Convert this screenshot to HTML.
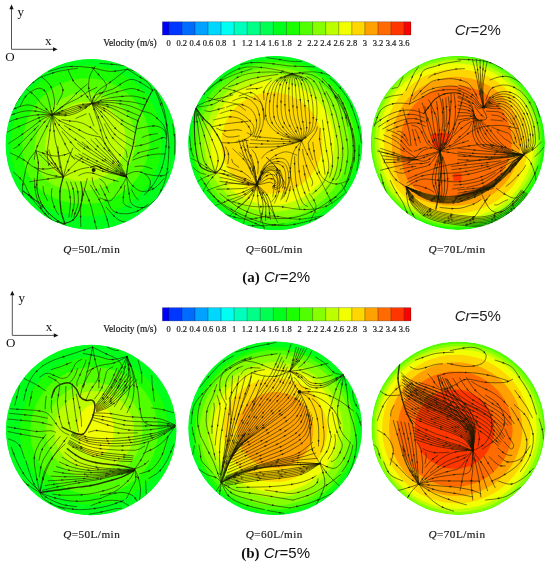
<!DOCTYPE html>
<html><head><meta charset="utf-8"><style>
html,body{margin:0;padding:0;background:#fff;width:550px;height:566px;overflow:hidden}
svg{display:block;filter:blur(0.3px)}
.ax{font-family:"Liberation Serif",serif;font-size:13px;fill:#111}
.tk{font-family:"Liberation Serif",serif;font-size:8.5px;fill:#1a1a1a;stroke:#1a1a1a;stroke-width:0.2px}
.vl{font-family:"Liberation Serif",serif;font-size:9.4px;fill:#1a1a1a;stroke:#1a1a1a;stroke-width:0.2px}
.cr{font-family:"Liberation Sans",sans-serif;font-size:15px;fill:#222}
.q{font-family:"Liberation Serif",serif;font-size:11.2px;letter-spacing:0.45px;fill:#1a1a1a;stroke:#1a1a1a;stroke-width:0.2px}
.cap{font-family:"Liberation Sans",sans-serif;font-size:15px;fill:#111}
.capb{font-family:"Liberation Serif",serif;font-weight:bold}
.fl path{fill:none;stroke:#1a1a00;stroke-opacity:0.8;stroke-width:0.7;stroke-linecap:round;stroke-linejoin:round}
.ar{fill:#1a1a00;fill-opacity:0.8;stroke:none}
.sl path{fill:none;stroke:#1a1a00;stroke-opacity:0.85;stroke-linecap:round;stroke-linejoin:round}
</style></head><body>
<svg width="550" height="566" viewBox="0 0 550 566">
<defs><clipPath id="c0"><circle cx="91.00" cy="144.30" r="85.30"/></clipPath>
<clipPath id="c1"><circle cx="275.30" cy="143.10" r="87.00"/></clipPath>
<clipPath id="c2"><circle cx="458.00" cy="142.90" r="87.00"/></clipPath>
<clipPath id="c3"><circle cx="91.20" cy="430.00" r="85.20"/></clipPath>
<clipPath id="c4"><circle cx="275.20" cy="428.20" r="86.80"/></clipPath>
<clipPath id="c5"><circle cx="458.20" cy="428.20" r="86.80"/></clipPath></defs>
<line x1="11.5" y1="49.3" x2="11.5" y2="8.5" stroke="#555" stroke-width="1"/>
<line x1="11.5" y1="49.3" x2="53.5" y2="49.3" stroke="#555" stroke-width="1"/>
<path d="M11.5,4.6 L9.4,9.2 L13.6,9.2 Z" fill="#111"/>
<path d="M57.6,49.3 L53.0,47.2 L53.0,51.4 Z" fill="#111"/>
<text x="17.6" y="15.8" class="ax">y</text>
<text x="45.0" y="45.0" class="ax">x</text>
<text x="5.2" y="60.8" class="ax">O</text>
<line x1="12.3" y1="335.4" x2="12.3" y2="294.6" stroke="#555" stroke-width="1"/>
<line x1="12.3" y1="335.4" x2="54.3" y2="335.4" stroke="#555" stroke-width="1"/>
<path d="M12.3,290.7 L10.2,295.3 L14.4,295.3 Z" fill="#111"/>
<path d="M58.4,335.4 L53.8,333.3 L53.8,337.5 Z" fill="#111"/>
<text x="18.4" y="301.9" class="ax">y</text>
<text x="45.8" y="331.1" class="ax">x</text>
<text x="6.0" y="346.9" class="ax">O</text>
<rect x="162.40" y="21.80" width="6.60" height="13.20" fill="#0000ff"/>
<rect x="168.70" y="21.80" width="13.38" height="13.20" fill="#0036ff"/>
<rect x="181.78" y="21.80" width="13.38" height="13.20" fill="#006bff"/>
<rect x="194.86" y="21.80" width="13.38" height="13.20" fill="#00a1ff"/>
<rect x="207.94" y="21.80" width="13.38" height="13.20" fill="#00d7ff"/>
<rect x="221.02" y="21.80" width="13.38" height="13.20" fill="#00fff2"/>
<rect x="234.10" y="21.80" width="13.38" height="13.20" fill="#00ffbc"/>
<rect x="247.18" y="21.80" width="13.38" height="13.20" fill="#00ff86"/>
<rect x="260.26" y="21.80" width="13.38" height="13.20" fill="#00ff51"/>
<rect x="273.34" y="21.80" width="13.38" height="13.20" fill="#00ff1b"/>
<rect x="286.42" y="21.80" width="13.38" height="13.20" fill="#1bff00"/>
<rect x="299.50" y="21.80" width="13.38" height="13.20" fill="#51ff00"/>
<rect x="312.58" y="21.80" width="13.38" height="13.20" fill="#86ff00"/>
<rect x="325.66" y="21.80" width="13.38" height="13.20" fill="#bcff00"/>
<rect x="338.74" y="21.80" width="13.38" height="13.20" fill="#f2ff00"/>
<rect x="351.82" y="21.80" width="13.38" height="13.20" fill="#ffd700"/>
<rect x="364.90" y="21.80" width="13.38" height="13.20" fill="#ffa100"/>
<rect x="377.98" y="21.80" width="13.38" height="13.20" fill="#ff6b00"/>
<rect x="391.06" y="21.80" width="13.38" height="13.20" fill="#ff3600"/>
<rect x="404.14" y="21.80" width="6.90" height="13.20" fill="#ff0000"/>
<line x1="168.70" y1="21.80" x2="168.70" y2="35.00" stroke="#000" stroke-opacity="0.4" stroke-width="0.8"/>
<line x1="181.78" y1="21.80" x2="181.78" y2="35.00" stroke="#000" stroke-opacity="0.4" stroke-width="0.8"/>
<line x1="194.86" y1="21.80" x2="194.86" y2="35.00" stroke="#000" stroke-opacity="0.4" stroke-width="0.8"/>
<line x1="207.94" y1="21.80" x2="207.94" y2="35.00" stroke="#000" stroke-opacity="0.4" stroke-width="0.8"/>
<line x1="221.02" y1="21.80" x2="221.02" y2="35.00" stroke="#000" stroke-opacity="0.4" stroke-width="0.8"/>
<line x1="234.10" y1="21.80" x2="234.10" y2="35.00" stroke="#000" stroke-opacity="0.4" stroke-width="0.8"/>
<line x1="247.18" y1="21.80" x2="247.18" y2="35.00" stroke="#000" stroke-opacity="0.4" stroke-width="0.8"/>
<line x1="260.26" y1="21.80" x2="260.26" y2="35.00" stroke="#000" stroke-opacity="0.4" stroke-width="0.8"/>
<line x1="273.34" y1="21.80" x2="273.34" y2="35.00" stroke="#000" stroke-opacity="0.4" stroke-width="0.8"/>
<line x1="286.42" y1="21.80" x2="286.42" y2="35.00" stroke="#000" stroke-opacity="0.4" stroke-width="0.8"/>
<line x1="299.50" y1="21.80" x2="299.50" y2="35.00" stroke="#000" stroke-opacity="0.4" stroke-width="0.8"/>
<line x1="312.58" y1="21.80" x2="312.58" y2="35.00" stroke="#000" stroke-opacity="0.4" stroke-width="0.8"/>
<line x1="325.66" y1="21.80" x2="325.66" y2="35.00" stroke="#000" stroke-opacity="0.4" stroke-width="0.8"/>
<line x1="338.74" y1="21.80" x2="338.74" y2="35.00" stroke="#000" stroke-opacity="0.4" stroke-width="0.8"/>
<line x1="351.82" y1="21.80" x2="351.82" y2="35.00" stroke="#000" stroke-opacity="0.4" stroke-width="0.8"/>
<line x1="364.90" y1="21.80" x2="364.90" y2="35.00" stroke="#000" stroke-opacity="0.4" stroke-width="0.8"/>
<line x1="377.98" y1="21.80" x2="377.98" y2="35.00" stroke="#000" stroke-opacity="0.4" stroke-width="0.8"/>
<line x1="391.06" y1="21.80" x2="391.06" y2="35.00" stroke="#000" stroke-opacity="0.4" stroke-width="0.8"/>
<line x1="404.14" y1="21.80" x2="404.14" y2="35.00" stroke="#000" stroke-opacity="0.4" stroke-width="0.8"/>
<rect x="162.40" y="21.80" width="248.34" height="13.20" fill="none" stroke="#000" stroke-opacity="0.35" stroke-width="0.7"/>
<text x="168.70" y="45.60" class="tk" text-anchor="middle">0</text>
<text x="181.78" y="45.60" class="tk" text-anchor="middle">0.2</text>
<text x="194.86" y="45.60" class="tk" text-anchor="middle">0.4</text>
<text x="207.94" y="45.60" class="tk" text-anchor="middle">0.6</text>
<text x="221.02" y="45.60" class="tk" text-anchor="middle">0.8</text>
<text x="234.10" y="45.60" class="tk" text-anchor="middle">1</text>
<text x="247.18" y="45.60" class="tk" text-anchor="middle">1.2</text>
<text x="260.26" y="45.60" class="tk" text-anchor="middle">1.4</text>
<text x="273.34" y="45.60" class="tk" text-anchor="middle">1.6</text>
<text x="286.42" y="45.60" class="tk" text-anchor="middle">1.8</text>
<text x="299.50" y="45.60" class="tk" text-anchor="middle">2</text>
<text x="312.58" y="45.60" class="tk" text-anchor="middle">2.2</text>
<text x="325.66" y="45.60" class="tk" text-anchor="middle">2.4</text>
<text x="338.74" y="45.60" class="tk" text-anchor="middle">2.6</text>
<text x="351.82" y="45.60" class="tk" text-anchor="middle">2.8</text>
<text x="364.90" y="45.60" class="tk" text-anchor="middle">3</text>
<text x="377.98" y="45.60" class="tk" text-anchor="middle">3.2</text>
<text x="391.06" y="45.60" class="tk" text-anchor="middle">3.4</text>
<text x="404.14" y="45.60" class="tk" text-anchor="middle">3.6</text>
<text x="156.60" y="46.20" class="vl" text-anchor="end">Velocity (m/s)</text>
<rect x="162.40" y="307.70" width="6.60" height="13.20" fill="#0000ff"/>
<rect x="168.70" y="307.70" width="13.38" height="13.20" fill="#0036ff"/>
<rect x="181.78" y="307.70" width="13.38" height="13.20" fill="#006bff"/>
<rect x="194.86" y="307.70" width="13.38" height="13.20" fill="#00a1ff"/>
<rect x="207.94" y="307.70" width="13.38" height="13.20" fill="#00d7ff"/>
<rect x="221.02" y="307.70" width="13.38" height="13.20" fill="#00fff2"/>
<rect x="234.10" y="307.70" width="13.38" height="13.20" fill="#00ffbc"/>
<rect x="247.18" y="307.70" width="13.38" height="13.20" fill="#00ff86"/>
<rect x="260.26" y="307.70" width="13.38" height="13.20" fill="#00ff51"/>
<rect x="273.34" y="307.70" width="13.38" height="13.20" fill="#00ff1b"/>
<rect x="286.42" y="307.70" width="13.38" height="13.20" fill="#1bff00"/>
<rect x="299.50" y="307.70" width="13.38" height="13.20" fill="#51ff00"/>
<rect x="312.58" y="307.70" width="13.38" height="13.20" fill="#86ff00"/>
<rect x="325.66" y="307.70" width="13.38" height="13.20" fill="#bcff00"/>
<rect x="338.74" y="307.70" width="13.38" height="13.20" fill="#f2ff00"/>
<rect x="351.82" y="307.70" width="13.38" height="13.20" fill="#ffd700"/>
<rect x="364.90" y="307.70" width="13.38" height="13.20" fill="#ffa100"/>
<rect x="377.98" y="307.70" width="13.38" height="13.20" fill="#ff6b00"/>
<rect x="391.06" y="307.70" width="13.38" height="13.20" fill="#ff3600"/>
<rect x="404.14" y="307.70" width="6.90" height="13.20" fill="#ff0000"/>
<line x1="168.70" y1="307.70" x2="168.70" y2="320.90" stroke="#000" stroke-opacity="0.4" stroke-width="0.8"/>
<line x1="181.78" y1="307.70" x2="181.78" y2="320.90" stroke="#000" stroke-opacity="0.4" stroke-width="0.8"/>
<line x1="194.86" y1="307.70" x2="194.86" y2="320.90" stroke="#000" stroke-opacity="0.4" stroke-width="0.8"/>
<line x1="207.94" y1="307.70" x2="207.94" y2="320.90" stroke="#000" stroke-opacity="0.4" stroke-width="0.8"/>
<line x1="221.02" y1="307.70" x2="221.02" y2="320.90" stroke="#000" stroke-opacity="0.4" stroke-width="0.8"/>
<line x1="234.10" y1="307.70" x2="234.10" y2="320.90" stroke="#000" stroke-opacity="0.4" stroke-width="0.8"/>
<line x1="247.18" y1="307.70" x2="247.18" y2="320.90" stroke="#000" stroke-opacity="0.4" stroke-width="0.8"/>
<line x1="260.26" y1="307.70" x2="260.26" y2="320.90" stroke="#000" stroke-opacity="0.4" stroke-width="0.8"/>
<line x1="273.34" y1="307.70" x2="273.34" y2="320.90" stroke="#000" stroke-opacity="0.4" stroke-width="0.8"/>
<line x1="286.42" y1="307.70" x2="286.42" y2="320.90" stroke="#000" stroke-opacity="0.4" stroke-width="0.8"/>
<line x1="299.50" y1="307.70" x2="299.50" y2="320.90" stroke="#000" stroke-opacity="0.4" stroke-width="0.8"/>
<line x1="312.58" y1="307.70" x2="312.58" y2="320.90" stroke="#000" stroke-opacity="0.4" stroke-width="0.8"/>
<line x1="325.66" y1="307.70" x2="325.66" y2="320.90" stroke="#000" stroke-opacity="0.4" stroke-width="0.8"/>
<line x1="338.74" y1="307.70" x2="338.74" y2="320.90" stroke="#000" stroke-opacity="0.4" stroke-width="0.8"/>
<line x1="351.82" y1="307.70" x2="351.82" y2="320.90" stroke="#000" stroke-opacity="0.4" stroke-width="0.8"/>
<line x1="364.90" y1="307.70" x2="364.90" y2="320.90" stroke="#000" stroke-opacity="0.4" stroke-width="0.8"/>
<line x1="377.98" y1="307.70" x2="377.98" y2="320.90" stroke="#000" stroke-opacity="0.4" stroke-width="0.8"/>
<line x1="391.06" y1="307.70" x2="391.06" y2="320.90" stroke="#000" stroke-opacity="0.4" stroke-width="0.8"/>
<line x1="404.14" y1="307.70" x2="404.14" y2="320.90" stroke="#000" stroke-opacity="0.4" stroke-width="0.8"/>
<rect x="162.40" y="307.70" width="248.34" height="13.20" fill="none" stroke="#000" stroke-opacity="0.35" stroke-width="0.7"/>
<text x="168.70" y="331.50" class="tk" text-anchor="middle">0</text>
<text x="181.78" y="331.50" class="tk" text-anchor="middle">0.2</text>
<text x="194.86" y="331.50" class="tk" text-anchor="middle">0.4</text>
<text x="207.94" y="331.50" class="tk" text-anchor="middle">0.6</text>
<text x="221.02" y="331.50" class="tk" text-anchor="middle">0.8</text>
<text x="234.10" y="331.50" class="tk" text-anchor="middle">1</text>
<text x="247.18" y="331.50" class="tk" text-anchor="middle">1.2</text>
<text x="260.26" y="331.50" class="tk" text-anchor="middle">1.4</text>
<text x="273.34" y="331.50" class="tk" text-anchor="middle">1.6</text>
<text x="286.42" y="331.50" class="tk" text-anchor="middle">1.8</text>
<text x="299.50" y="331.50" class="tk" text-anchor="middle">2</text>
<text x="312.58" y="331.50" class="tk" text-anchor="middle">2.2</text>
<text x="325.66" y="331.50" class="tk" text-anchor="middle">2.4</text>
<text x="338.74" y="331.50" class="tk" text-anchor="middle">2.6</text>
<text x="351.82" y="331.50" class="tk" text-anchor="middle">2.8</text>
<text x="364.90" y="331.50" class="tk" text-anchor="middle">3</text>
<text x="377.98" y="331.50" class="tk" text-anchor="middle">3.2</text>
<text x="391.06" y="331.50" class="tk" text-anchor="middle">3.4</text>
<text x="404.14" y="331.50" class="tk" text-anchor="middle">3.6</text>
<text x="156.60" y="332.10" class="vl" text-anchor="end">Velocity (m/s)</text>
<text x="477.8" y="35.4" class="cr" text-anchor="middle"><tspan font-style="italic">Cr</tspan>=2%</text>
<text x="477.8" y="321.3" class="cr" text-anchor="middle"><tspan font-style="italic">Cr</tspan>=5%</text>
<g clip-path="url(#c0)">
<circle cx="91.00" cy="144.30" r="85.30" fill="#00ff51"/>
<path fill-rule="evenodd" fill="#00ff1b" d="M94.5,230.3 90.7,230.8 82.5,230.9 72.7,230.2 65.2,229.2 57.7,227.8 51.0,226.0 44.2,223.8 38.2,221.4 33.0,218.8 27.7,215.7 22.5,212.0 18.0,208.2 13.8,204.0 10.0,199.5 6.8,195.0 3.7,189.6 3.7,107.0 3.9,105.8 5.2,103.5 5.3,102.8 6.0,102.0 6.0,101.3 6.7,100.5 6.8,99.8 7.5,99.0 7.6,98.3 10.5,93.8 10.6,93.0 12.0,91.5 12.1,90.8 15.7,86.3 16.6,84.8 19.5,81.8 20.4,80.3 24.7,75.9 27.7,73.5 30.7,70.6 39.0,64.7 39.7,64.5 40.5,63.8 41.2,63.8 42.7,62.5 45.0,61.5 45.7,60.9 46.5,60.8 47.2,60.1 48.0,60.0 50.2,58.7 53.2,57.8 54.0,57.1 118.4,57.0 121.5,57.9 123.7,59.3 124.5,59.3 125.2,60.0 126.0,60.1 127.5,60.8 128.2,61.5 128.9,61.6 129.7,62.3 130.4,62.3 137.9,67.0 140.2,69.0 140.9,69.2 143.2,71.3 144.7,72.2 154.4,81.8 155.7,83.3 155.9,84.0 158.1,86.3 158.9,87.8 160.3,89.3 160.4,90.0 161.8,91.5 161.9,92.3 163.3,93.8 163.4,94.5 165.5,97.5 166.4,99.8 167.1,100.5 167.2,101.3 167.8,102.0 167.9,102.8 168.5,103.5 169.4,106.5 170.1,107.3 170.2,108.1 170.7,108.8 170.9,110.3 171.6,111.0 171.7,112.5 172.3,113.3 172.4,114.8 173.0,115.5 173.2,117.1 173.8,118.5 173.9,120.1 174.6,121.5 174.7,123.8 175.3,125.3 175.4,128.3 176.0,129.8 176.2,136.5 176.6,138.0 176.7,141.0 176.2,145.4 176.1,151.5 175.4,153.6 175.3,156.8 174.7,158.1 174.5,160.5 174.0,161.2 173.8,163.5 173.2,164.2 172.9,166.5 172.4,167.2 172.3,168.8 171.7,169.5 171.5,171.0 170.9,171.7 170.9,172.5 170.2,173.8 170.1,174.8 169.4,175.5 169.4,176.2 168.7,177.0 168.7,177.8 167.7,180.0 164.9,184.7 164.9,185.2 164.2,186.0 164.1,186.8 159.6,193.5 153.5,201.0 146.2,208.3 144.7,209.2 141.7,212.0 140.9,212.2 136.4,215.8 135.7,216.0 134.2,217.2 132.7,218.1 131.9,218.2 128.9,220.3 124.5,222.5 121.4,223.5 120.7,224.1 117.7,225.0 117.0,225.6 115.4,225.8 114.7,226.4 113.2,226.5 112.5,227.1 110.9,227.2 109.5,227.9 107.9,228.0 106.5,228.7 104.2,228.8 103.5,229.3 100.4,229.5 98.2,230.1 94.5,230.3Z"/>
<path fill-rule="evenodd" fill="#1bff00" d="M94.5,216.1 87.0,216.5 79.5,216.3 71.2,215.2 63.7,213.6 56.2,211.2 49.5,208.4 42.7,204.8 36.7,200.7 31.5,196.3 26.6,191.2 22.5,186.0 18.9,180.0 16.0,174.0 13.7,167.2 12.0,160.5 10.9,153.0 10.5,145.5 10.8,137.2 11.9,129.0 13.6,121.5 16.1,114.0 19.1,107.3 22.9,100.5 27.2,94.5 32.2,88.7 37.5,83.7 43.5,79.0 50.2,74.8 57.0,71.5 64.5,68.7 71.2,67.0 79.5,65.7 86.2,65.4 93.7,65.7 102.0,66.9 108.7,68.6 114.7,70.8 121.5,73.8 128.2,77.8 134.2,82.2 140.2,87.6 145.1,93.0 149.6,99.0 153.2,105.0 156.4,111.8 158.6,117.8 160.8,126.0 161.8,132.8 162.2,140.2 161.9,147.8 160.9,155.2 159.2,162.0 156.9,168.8 153.4,176.2 149.4,183.0 144.9,189.0 140.1,194.2 134.9,199.0 128.9,203.5 122.2,207.5 114.7,211.0 108.0,213.4 101.2,215.0 94.5,216.1Z"/>
<path fill-rule="evenodd" fill="#51ff00" d="M85.5,204.0 78.7,203.8 72.0,203.0 65.2,201.7 59.2,199.9 53.2,197.6 48.0,194.9 43.4,192.0 38.7,188.2 35.0,184.5 31.5,180.0 28.8,175.5 26.3,170.2 24.6,165.0 23.3,159.0 22.5,153.0 22.3,146.2 22.8,138.8 23.9,132.0 25.5,125.6 27.6,119.3 30.7,112.5 33.7,107.3 37.5,102.1 41.5,97.5 46.3,93.0 51.2,89.3 56.2,86.1 62.2,83.2 68.2,81.0 74.2,79.5 81.0,78.5 87.7,78.2 94.5,78.7 99.7,79.6 105.3,81.0 111.4,83.3 116.2,85.6 122.3,89.3 127.2,93.0 131.9,97.5 135.7,101.7 138.7,105.8 141.8,111.0 144.7,117.0 146.9,123.4 148.4,129.8 149.2,135.8 149.4,141.8 149.0,148.5 147.8,155.2 146.2,160.7 144.0,166.5 140.9,172.4 138.0,177.0 134.2,181.8 130.4,185.8 126.0,189.8 120.8,193.5 115.7,196.5 111.0,198.8 104.8,201.0 99.0,202.5 93.0,203.5 85.5,204.0Z"/>
<path fill-rule="evenodd" fill="#86ff00" d="M86.2,190.6 81.0,190.7 75.0,190.5 69.7,189.9 64.5,188.8 60.0,187.5 55.5,185.7 51.7,183.7 48.0,181.2 44.9,178.5 42.0,175.2 39.6,171.8 37.7,168.0 36.3,164.2 35.3,159.8 34.7,155.2 34.5,150.0 35.0,144.0 35.9,138.0 37.4,132.0 39.2,126.8 41.5,121.5 44.4,116.3 47.5,111.8 50.8,108.0 55.5,103.6 59.2,100.7 63.7,98.0 67.5,96.2 71.2,94.7 76.5,93.3 81.7,92.5 87.7,92.3 92.2,92.5 97.5,93.4 102.7,94.9 106.5,96.4 111.0,98.7 115.5,101.6 121.9,107.3 125.7,111.8 127.8,114.8 130.0,118.5 132.3,123.8 134.6,132.0 135.3,137.2 135.4,141.8 134.6,150.0 133.3,155.2 131.6,159.8 129.5,164.2 127.2,168.0 125.0,171.0 121.0,175.5 117.0,179.1 114.0,181.3 110.2,183.6 105.7,185.9 102.0,187.4 96.7,188.9 91.5,190.0 86.2,190.6Z"/>
<path fill-rule="evenodd" fill="#bcff00" d="M89.2,180.8 81.0,181.2 72.7,180.3 65.2,178.1 61.5,176.5 58.4,174.8 55.5,172.6 53.2,170.5 51.0,167.8 49.1,165.0 46.5,158.9 45.5,155.2 45.0,151.5 45.1,143.2 45.7,138.8 46.7,134.2 48.1,129.8 49.7,126.0 51.7,122.3 54.0,118.8 56.2,115.9 59.2,112.9 62.1,110.3 65.3,108.0 72.7,104.2 77.7,102.8 81.7,102.0 91.5,102.0 96.0,102.8 96.7,103.2 98.4,103.5 104.2,105.7 110.2,109.5 115.5,114.4 120.0,120.0 123.0,125.9 124.5,130.3 124.7,132.0 125.2,133.4 126.0,139.5 126.0,142.1 125.2,148.5 124.6,150.0 124.5,151.6 123.0,156.0 122.4,156.8 121.5,159.1 117.7,165.0 111.1,171.8 105.4,175.5 102.6,177.0 98.2,178.7 93.7,180.0 89.2,180.8Z"/>
<g class="fl"><path d="M62.0,119.6 69.1,120.9 76.3,121.5 83.2,123.4 90.2,127.2 93.9,130.2 97.8,134.3"/>
<path d="M89.2,113.3 93.9,126.0"/>
<path d="M75.9,118.3 86.2,113.9"/>
<path d="M56.8,104.7 61.7,95.6 62.8,91.7 62.8,88.6 60.1,82.8"/>
<path d="M78.7,175.6 81.5,174.1 84.6,173.1 86.9,172.7 90.9,172.8 95.5,174.0 107.5,178.4 118.3,181.5"/>
<path d="M99.7,178.9 102.9,181.2 104.9,183.7 108.9,192.4"/>
<path d="M142.0,137.5 144.9,136.2 151.1,134.4 157.4,133.7"/>
<path d="M131.1,207.5 128.1,206.7 125.9,205.6 124.6,204.6 123.2,202.7 123.4,196.3 124.8,185.2"/>
<path d="M131.3,189.1 135.0,196.2 136.9,198.7 138.2,199.7"/>
<path d="M101.5,97.2 110.4,93.7 129.0,88.7 132.1,88.5 135.3,89.0 144.3,92.4"/>
<path d="M58.6,214.8 56.8,212.2 55.0,208.6 51.9,199.6 51.3,193.2 52.0,188.5"/>
<path d="M43.0,186.4 43.4,190.4 44.4,194.2 45.7,197.2 47.7,200.6"/>
<path d="M172.8,124.0 174.8,139.8 174.6,155.0"/>
<path d="M104.4,123.9 109.3,133.1 112.0,137.0 116.3,141.8 125.3,149.7 126.4,151.9 127.2,157.4"/>
<path d="M133.4,157.4 136.1,154.4 139.5,152.4 158.2,147.8"/>
<path d="M134.9,166.8 138.0,166.1 142.8,166.1 145.2,166.5 152.0,168.7"/>
<path d="M92.2,177.6 92.7,181.5 93.9,185.3 99.5,195.0"/>
<path d="M64.4,125.6 85.2,139.0"/>
<path d="M62.0,131.3 75.1,147.5 80.1,151.3"/>
<path d="M13.8,148.4 16.0,147.4 17.9,145.9 38.4,125.7"/></g>
<g class="sl"><path d="M153.0,89.7C152.1,91.3 149.4,95.9 147.7,99.4C145.9,103.0 144.0,107.4 142.4,110.9C140.8,114.4 139.1,116.9 138.0,120.6C136.8,124.3 136.2,128.6 135.3,133.0C134.4,137.4 133.8,142.1 132.7,147.1C131.5,152.1 129.3,158.3 128.3,163.0C127.2,167.7 126.8,173.3 126.5,175.4" stroke-width="1.05"/>
<path d="M92.0,103.4C94.9,102.5 102.9,99.2 109.6,98.0C116.3,96.7 125.7,95.8 132.0,96.0C138.3,96.3 145.1,99.0 147.7,99.6" stroke-width="0.70"/>
<path d="M92.0,103.4C94.9,102.9 103.2,100.8 109.6,100.5C116.0,100.3 124.5,101.1 130.4,101.8C136.3,102.5 142.4,104.5 144.8,105.0" stroke-width="0.70"/>
<path d="M92.0,103.4C94.9,103.2 103.5,102.1 109.6,102.4C115.7,102.8 123.4,104.2 128.8,105.6C134.2,107.1 140.0,110.2 142.2,111.1" stroke-width="0.70"/>
<path d="M92.0,103.4C94.9,103.7 103.7,103.8 109.6,105.0C115.5,106.2 122.1,108.9 127.2,110.8C132.3,112.6 137.9,115.3 140.0,116.2" stroke-width="0.70"/>
<path d="M92.0,103.4C94.9,104.0 104.0,105.3 109.6,107.2C115.2,109.2 120.9,113.0 125.6,115.2C130.3,117.5 136.0,119.8 138.1,120.7" stroke-width="0.70"/>
<path d="M92.0,103.4C94.5,104.5 101.9,106.9 107.0,109.8C112.2,112.7 118.2,118.1 123.0,121.0C127.9,123.9 134.0,126.3 136.2,127.4" stroke-width="0.70"/>
<path d="M92.0,103.4C94.4,104.8 101.3,108.5 106.4,112.0C111.5,115.6 117.6,121.4 122.4,124.8C127.2,128.3 133.1,131.5 135.2,132.8" stroke-width="0.70"/>
<path d="M92.0,103.4C94.0,105.3 99.6,110.1 103.8,114.6C108.1,119.1 112.6,126.3 117.6,130.6C122.6,134.9 130.9,138.6 133.6,140.2" stroke-width="0.70"/>
<path d="M92.0,103.4C93.8,105.7 98.7,111.9 102.6,117.2C106.5,122.4 110.3,130.1 115.4,135.1C120.4,140.0 129.8,144.9 132.6,146.9" stroke-width="0.70"/>
<path d="M92.0,103.4C93.3,106.3 97.1,114.3 100.0,121.0C102.9,127.7 104.9,136.4 109.6,143.4C114.3,150.4 125.1,159.7 128.2,162.9" stroke-width="0.70"/>
<path d="M92.0,103.4C93.1,106.6 96.0,115.4 98.4,122.6C100.8,129.8 102.4,139.4 106.4,146.6C110.4,153.8 119.7,162.6 122.4,165.8" stroke-width="0.70"/>
<path d="M92.0,103.4C91.5,101.0 89.2,93.5 88.8,89.0C88.4,84.5 88.7,79.9 89.8,76.2C90.8,72.5 94.3,68.2 95.2,66.6" stroke-width="0.70"/>
<path d="M92.0,103.4C92.8,101.5 93.9,95.7 96.8,92.2C99.7,88.7 104.5,86.4 109.6,82.6C114.7,78.8 124.3,71.4 127.2,69.2" stroke-width="0.70"/>
<path d="M92.0,103.4C92.5,102.1 91.7,97.8 95.2,95.4C98.7,93.0 106.7,91.7 112.8,89.0C118.9,86.3 125.3,79.1 132.0,79.4C138.7,79.7 149.3,88.7 152.8,90.6" stroke-width="0.70"/>
<path d="M92.0,103.4C90.7,101.5 86.9,95.7 84.0,92.2C81.1,88.7 77.1,86.3 74.4,82.6C71.7,78.9 69.1,71.9 68.0,69.8" stroke-width="0.70"/>
<path d="M127.2,69.2C129.1,70.3 134.9,74.0 138.4,76.2C141.9,78.4 145.6,80.2 148.0,82.6C150.4,85.0 152.0,89.3 152.8,90.6" stroke-width="0.70"/>
<path d="M127.2,69.2C124.3,69.5 115.7,71.7 109.6,71.4C103.5,71.1 97.3,68.4 90.4,67.6C83.5,66.8 74.9,66.0 68.0,66.6C61.1,67.2 52.0,70.6 48.8,71.4" stroke-width="0.70"/>
<path d="M92.0,67.6C93.3,69.0 97.6,73.2 100.0,76.2C102.4,79.2 106.4,82.6 106.4,85.8C106.4,89.0 102.4,92.5 100.0,95.4C97.6,98.3 93.3,102.1 92.0,103.4" stroke-width="0.70"/>
<path d="M52.0,114.6C53.3,114.1 57.2,112.6 59.8,111.7C62.4,110.7 65.1,109.7 67.7,108.7C70.3,107.7 72.8,106.5 75.5,105.8C78.2,105.1 80.9,104.7 83.7,104.3C86.4,103.9 90.6,103.6 92.0,103.4" stroke-width="0.70"/>
<path d="M52.0,114.6C53.3,114.3 57.4,113.3 60.0,112.6C62.7,111.9 65.4,111.2 68.0,110.4C70.7,109.5 73.3,108.3 76.0,107.5C78.6,106.6 81.3,106.0 84.0,105.4C86.7,104.7 90.7,103.7 92.0,103.4" stroke-width="0.70"/>
<path d="M52.0,114.6C53.4,114.4 57.5,114.0 60.2,113.6C63.0,113.2 65.7,112.7 68.4,112.0C71.1,111.3 73.8,110.1 76.4,109.2C79.1,108.2 81.7,107.3 84.3,106.4C86.9,105.4 90.7,103.9 92.0,103.4" stroke-width="0.70"/>
<path d="M52.0,114.6C53.4,114.6 57.6,114.7 60.4,114.6C63.2,114.4 66.0,114.3 68.8,113.6C71.5,113.0 74.3,111.9 76.9,110.9C79.5,109.8 82.1,108.7 84.6,107.4C87.1,106.2 90.8,104.1 92.0,103.4" stroke-width="0.70"/>
<path d="M52.0,114.6C53.4,114.8 57.8,115.4 60.6,115.6C63.5,115.7 66.3,115.8 69.1,115.3C71.9,114.8 74.7,113.7 77.4,112.5C80.0,111.4 82.5,110.0 84.9,108.4C87.4,106.9 90.8,104.2 92.0,103.4" stroke-width="0.70"/>
<path d="M52.0,114.6C54.1,113.0 60.5,107.7 64.8,105.0C69.1,102.3 73.9,100.7 77.6,98.6C81.3,96.5 84.0,94.1 87.2,92.2C90.4,90.3 95.2,88.2 96.8,87.4" stroke-width="0.70"/>
<path d="M52.0,114.6C54.7,112.5 63.7,105.5 68.0,101.8C72.3,98.1 74.4,95.1 77.6,92.2C80.8,89.3 85.6,85.5 87.2,84.2" stroke-width="0.70"/>
<path d="M52.0,114.6C50.4,113.8 46.1,111.4 42.4,109.8C38.7,108.2 33.3,105.5 29.6,105.0C25.9,104.5 22.9,105.8 20.0,106.6C17.1,107.4 13.3,109.3 12.0,109.8" stroke-width="0.70"/>
<path d="M52.0,114.6C50.3,114.2 45.8,112.7 41.8,112.0C37.8,111.4 32.2,110.6 28.0,110.8C23.8,110.9 20.0,112.1 16.8,113.0C13.6,113.9 10.1,115.7 8.8,116.2" stroke-width="0.70"/>
<path d="M52.0,114.6C50.1,114.6 44.8,114.3 40.8,114.6C36.8,114.9 32.3,115.4 28.0,116.2C23.7,117.0 18.7,118.3 15.2,119.4C11.7,120.5 8.5,122.1 7.2,122.6" stroke-width="0.70"/>
<path d="M52.0,114.6C50.1,115.0 44.8,115.8 40.8,117.2C36.8,118.5 32.0,120.9 28.0,122.6C24.0,124.3 20.3,125.8 16.8,127.4C13.3,129.0 8.8,131.4 7.2,132.2" stroke-width="0.70"/>
<path d="M52.0,114.6C50.3,115.5 45.5,117.3 41.8,119.7C38.0,122.1 33.5,126.1 29.6,129.0C25.7,131.9 21.9,134.6 18.4,137.0C14.9,139.4 10.4,142.3 8.8,143.4" stroke-width="0.70"/>
<path d="M52.0,114.6C50.7,115.9 46.9,119.1 44.0,122.6C41.1,126.1 37.6,131.1 34.4,135.4C31.2,139.7 27.7,144.2 24.8,148.2C21.9,152.2 18.1,157.5 16.8,159.4" stroke-width="0.70"/>
<path d="M52.0,114.6C50.4,113.0 45.3,108.2 42.4,105.0C39.5,101.8 37.1,98.1 34.4,95.4C31.7,92.7 28.8,91.1 26.4,89.0C24.0,86.9 21.1,83.7 20.0,82.6" stroke-width="0.70"/>
<path d="M41.4,76.8C42.9,78.3 48.2,81.6 50.4,85.8C52.6,90.0 54.3,97.0 54.6,101.8C54.8,106.6 52.4,112.5 52.0,114.6" stroke-width="0.70"/>
<path d="M41.4,76.8C44.3,75.9 52.4,72.8 58.4,71.4C64.4,70.0 74.4,68.7 77.6,68.2" stroke-width="0.70"/>
<path d="M41.4,76.8C40.0,77.8 35.8,80.0 32.8,82.6C29.8,85.2 26.1,88.5 23.2,92.2C20.3,95.9 16.5,102.9 15.2,105.0" stroke-width="0.70"/>
<path d="M20.0,106.6C21.1,104.7 23.7,98.3 26.4,95.4C29.1,92.5 33.3,90.1 36.0,89.0C38.7,87.9 40.5,87.9 42.4,89.0C44.3,90.1 45.6,91.1 47.2,95.4C48.8,99.7 51.2,111.4 52.0,114.6" stroke-width="0.70"/>
<path d="M52.0,114.6C51.7,116.7 50.9,123.1 50.4,127.4C49.9,131.7 49.3,135.9 48.8,140.2C48.3,144.5 47.2,148.7 47.2,153.0C47.2,157.3 48.5,163.7 48.8,165.8" stroke-width="0.70"/>
<path d="M52.0,114.6C52.3,116.7 53.1,123.1 53.6,127.4C54.1,131.7 54.4,135.9 55.2,140.2C56.0,144.5 57.1,146.9 58.4,153.0C59.7,159.1 62.4,173.0 63.2,177.0" stroke-width="0.70"/>
<path d="M52.0,114.6C52.6,116.5 54.2,122.1 55.8,125.8C57.4,129.5 59.6,133.0 61.6,137.0C63.6,141.0 65.9,146.1 68.0,149.8C70.1,153.5 73.3,157.8 74.4,159.4" stroke-width="0.70"/>
<path d="M52.0,114.6C53.1,116.2 55.7,121.0 58.4,124.2C61.1,127.4 64.3,130.6 68.0,133.8C71.7,137.0 77.1,140.7 80.8,143.4C84.5,146.1 88.8,148.7 90.4,149.8" stroke-width="0.70"/>
<path d="M52.0,114.6C53.3,115.7 56.3,118.9 60.0,121.0C63.7,123.1 69.9,125.3 74.4,127.4C78.9,129.5 82.9,132.2 87.2,133.8C91.5,135.4 97.9,136.5 100.0,137.0" stroke-width="0.70"/>
<path d="M52.0,114.6C51.2,116.5 49.1,121.8 47.2,125.8C45.3,129.8 42.7,134.6 40.8,138.6C38.9,142.6 37.1,146.3 36.0,149.8C34.9,153.3 34.7,157.8 34.4,159.4" stroke-width="0.70"/>
<path d="M63.2,177.0C62.1,175.4 58.7,170.3 56.8,167.4C54.9,164.5 53.3,162.3 52.0,159.4C50.7,156.5 49.3,151.4 48.8,149.8" stroke-width="0.70"/>
<path d="M63.2,177.0C62.7,175.1 60.8,169.3 60.0,165.8C59.2,162.3 58.8,159.4 58.4,156.2C58.0,153.0 57.9,148.2 57.8,146.6" stroke-width="0.70"/>
<path d="M63.2,177.0C63.7,175.1 65.3,169.3 66.4,165.8C67.5,162.3 68.5,159.1 69.6,156.2C70.7,153.3 72.3,149.5 72.8,148.2" stroke-width="0.70"/>
<path d="M63.2,177.0C64.3,175.7 67.5,171.4 69.6,169.0C71.7,166.6 73.9,164.5 76.0,162.6C78.1,160.7 81.3,158.6 82.4,157.8" stroke-width="0.70"/>
<path d="M63.2,177.0C64.8,176.2 69.9,173.5 72.8,172.2C75.7,170.9 78.1,169.8 80.8,169.0C83.5,168.2 87.5,167.7 88.8,167.4" stroke-width="0.70"/>
<path d="M63.2,177.0C61.3,176.7 55.5,176.2 52.0,175.4C48.5,174.6 45.3,173.5 42.4,172.2C39.5,170.9 35.7,168.2 34.4,167.4" stroke-width="0.70"/>
<path d="M63.2,177.0C61.1,177.3 54.4,178.1 50.4,178.6C46.4,179.1 42.7,179.7 39.2,180.2C35.7,180.7 31.2,181.5 29.6,181.8" stroke-width="0.70"/>
<path d="M63.2,177.0C62.7,179.4 60.4,185.8 60.0,191.4C59.6,197.0 60.2,205.3 61.0,210.6C61.8,215.9 64.2,221.3 64.8,223.4" stroke-width="1.30"/>
<path d="M64.8,223.4C66.1,222.9 70.4,222.3 72.8,220.2C75.2,218.1 77.6,214.9 79.2,210.6C80.8,206.3 82.1,199.4 82.4,194.6C82.7,189.8 81.1,183.9 80.8,181.8" stroke-width="1.10"/>
<path d="M66.4,181.8C66.8,182.9 68.1,186.3 68.7,188.6C69.3,190.9 69.6,193.3 69.9,195.6C70.2,198.0 70.5,200.4 70.5,202.8C70.4,205.1 70.1,207.5 69.8,209.9C69.6,212.3 69.1,215.8 69.0,217.0" stroke-width="0.70"/>
<path d="M70.7,182.1C71.1,183.3 72.4,186.6 73.0,188.9C73.5,191.2 73.9,193.6 74.1,195.9C74.3,198.3 74.5,200.7 74.3,203.1C74.2,205.4 73.5,207.7 73.0,210.1C72.5,212.4 71.6,215.8 71.4,217.0" stroke-width="0.70"/>
<path d="M75.0,182.4C75.4,183.6 76.8,186.9 77.3,189.2C77.8,191.5 78.1,193.9 78.2,196.3C78.4,198.6 78.6,201.1 78.2,203.4C77.9,205.8 76.9,208.0 76.1,210.2C75.4,212.5 74.2,215.9 73.8,217.0" stroke-width="0.70"/>
<path d="M64.8,223.4C62.7,222.9 55.7,222.3 52.0,220.2C48.3,218.1 45.1,214.9 42.4,210.6C39.7,206.3 37.3,199.9 36.0,194.6C34.7,189.3 34.7,181.3 34.4,178.6" stroke-width="0.70"/>
<path d="M64.8,223.4C62.1,223.9 54.1,227.7 48.8,226.6C43.5,225.5 37.1,220.7 32.8,217.0C28.5,213.3 24.8,206.3 23.2,204.2" stroke-width="0.70"/>
<path d="M10.4,153.0C12.5,154.1 19.2,157.0 23.2,159.4C27.2,161.8 30.7,165.8 34.4,167.4C38.1,169.0 42.1,169.0 45.6,169.0C49.1,169.0 53.6,167.7 55.2,167.4" stroke-width="0.70"/>
<path d="M13.6,172.2C15.2,173.8 20.5,178.1 23.2,181.8C25.9,185.5 26.9,190.3 29.6,194.6C32.3,198.9 35.5,203.1 39.2,207.4C42.9,211.7 49.9,218.1 52.0,220.2" stroke-width="0.70"/>
<path d="M23.2,191.4C24.8,192.5 29.6,195.1 32.8,197.8C36.0,200.5 40.8,205.8 42.4,207.4" stroke-width="0.70"/>
<circle cx="93.6" cy="170.0" r="2.00" fill="#1a1a00" stroke="none"/>
<path d="M90.4,167.4C91.5,167.1 94.7,165.5 96.8,165.8C98.9,166.1 100.5,167.8 103.2,169.0C105.9,170.2 108.9,171.5 112.8,172.8C116.7,174.2 124.3,176.3 126.6,177.0" stroke-width="1.20"/>
<path d="M77.6,143.4C79.2,144.6 83.9,148.3 87.1,150.5C90.4,152.8 93.7,154.9 97.1,157.0C100.4,159.1 103.9,161.0 107.2,163.2C110.5,165.4 113.7,167.8 116.9,170.1C120.1,172.4 124.9,175.8 126.6,177.0" stroke-width="0.70"/>
<path d="M82.1,142.1C83.5,143.3 87.9,147.0 90.8,149.4C93.8,151.7 96.9,153.9 100.0,156.1C103.0,158.3 106.2,160.3 109.2,162.6C112.2,164.8 115.1,167.4 117.9,169.8C120.8,172.2 125.1,175.8 126.6,177.0" stroke-width="0.70"/>
<path d="M86.6,140.8C87.9,142.1 91.9,145.8 94.6,148.2C97.3,150.6 100.1,152.9 102.9,155.2C105.6,157.5 108.6,159.6 111.3,162.0C114.0,164.3 116.5,166.9 119.0,169.4C121.6,171.9 125.3,175.7 126.6,177.0" stroke-width="0.70"/>
<path d="M91.0,139.6C92.3,140.8 95.9,144.6 98.3,147.0C100.8,149.5 103.3,151.9 105.8,154.2C108.3,156.6 110.9,158.9 113.3,161.3C115.7,163.8 117.8,166.5 120.1,169.1C122.3,171.7 125.5,175.7 126.6,177.0" stroke-width="0.70"/>
<path d="M95.5,138.3C96.6,139.5 99.9,143.4 102.0,145.9C104.2,148.4 106.5,150.9 108.7,153.3C110.9,155.8 113.2,158.2 115.3,160.7C117.4,163.3 119.2,166.0 121.1,168.8C123.0,171.5 125.7,175.6 126.6,177.0" stroke-width="0.70"/>
<path d="M100.0,137.0C101.0,138.3 103.9,142.1 105.8,144.7C107.7,147.3 109.6,149.8 111.6,152.4C113.5,155.0 115.6,157.5 117.3,160.1C119.1,162.8 120.6,165.6 122.2,168.4C123.7,171.2 125.8,175.6 126.6,177.0" stroke-width="0.70"/>
<path d="M82.4,153.0C83.9,153.8 88.2,156.4 91.1,158.0C94.1,159.6 97.1,161.1 100.0,162.6C103.0,164.1 106.1,165.6 109.0,167.1C112.0,168.7 114.9,170.4 117.8,172.0C120.7,173.7 125.1,176.2 126.6,177.0" stroke-width="0.70"/>
<path d="M78.7,154.1C80.2,154.9 84.9,157.5 88.0,159.2C91.2,160.8 94.3,162.5 97.5,164.0C100.7,165.6 103.9,167.1 107.2,168.6C110.4,170.0 113.6,171.4 116.9,172.8C120.1,174.2 124.9,176.3 126.6,177.0" stroke-width="0.70"/>
<path d="M74.9,155.1C76.6,156.0 81.6,158.6 84.9,160.3C88.3,162.1 91.6,163.8 95.0,165.4C98.4,167.0 101.8,168.6 105.3,170.0C108.8,171.3 112.4,172.3 115.9,173.5C119.5,174.7 124.8,176.4 126.6,177.0" stroke-width="0.70"/>
<path d="M71.2,156.2C73.0,157.1 78.3,159.7 81.8,161.5C85.4,163.3 88.9,165.2 92.5,166.8C96.1,168.5 99.7,170.2 103.4,171.4C107.2,172.7 111.1,173.3 115.0,174.2C118.8,175.1 124.6,176.5 126.6,177.0" stroke-width="0.70"/>
<path d="M154.4,89.0C155.5,91.7 158.7,98.6 160.8,105.0C162.9,111.4 165.9,119.4 167.2,127.4C168.5,135.4 169.1,144.5 168.8,153.0C168.5,161.5 167.5,171.1 165.6,178.6C163.7,186.1 158.9,194.6 157.6,197.8" stroke-width="0.70"/>
<path d="M126.6,177.0C127.5,178.3 129.5,182.6 132.0,185.0C134.5,187.4 137.9,190.9 141.6,191.4C145.3,191.9 150.7,190.3 154.4,188.2C158.1,186.1 162.4,180.2 164.0,178.6" stroke-width="0.70"/>
<path d="M126.6,177.0C126.9,179.4 127.9,186.9 128.8,191.4C129.7,195.9 129.3,201.5 132.0,204.2C134.7,206.9 140.5,208.5 144.8,207.4C149.1,206.3 155.5,199.4 157.6,197.8" stroke-width="0.70"/>
<path d="M126.6,177.0C125.9,178.3 124.2,182.1 122.4,185.0C120.6,187.9 118.1,191.9 116.0,194.6C113.9,197.3 112.3,200.5 109.6,201.0C106.9,201.5 101.6,198.3 100.0,197.8" stroke-width="0.70"/>
<path d="M100.0,185.0C101.1,187.1 104.3,193.5 106.4,197.8C108.5,202.1 109.6,207.9 112.8,210.6C116.0,213.3 121.3,213.8 125.6,213.8C129.9,213.8 134.7,212.2 138.4,210.6C142.1,209.0 146.4,205.3 148.0,204.2" stroke-width="0.70"/>
<path d="M84.0,188.2C85.1,190.9 88.8,199.4 90.4,204.2C92.0,209.0 92.5,212.7 93.6,217.0C94.7,221.3 96.3,227.7 96.8,229.8" stroke-width="0.70"/>
<path d="M90.4,185.0C92.0,187.7 97.3,195.7 100.0,201.0C102.7,206.3 104.8,212.2 106.4,217.0C108.0,221.8 109.1,227.7 109.6,229.8" stroke-width="0.70"/>
<path d="M87.2,178.6C86.7,180.7 85.1,186.6 84.0,191.4C82.9,196.2 81.3,201.5 80.8,207.4C80.3,213.3 80.8,223.4 80.8,226.6" stroke-width="0.70"/>
<path d="M106.4,207.4C108.5,209.5 114.4,217.8 119.2,220.2C124.0,222.6 130.4,222.9 135.2,221.8C140.0,220.7 145.9,215.1 148.0,213.8" stroke-width="0.70"/>
<path d="M127.2,69.2C129.6,69.8 137.1,71.3 141.6,73.0C146.1,74.7 150.7,76.7 154.4,79.4C158.1,82.1 162.4,87.4 164.0,89.0" stroke-width="0.70"/>
<path d="M100.0,63.4C103.2,63.7 112.8,64.2 119.2,65.0C125.6,65.8 132.5,66.6 138.4,68.2C144.3,69.8 151.7,73.5 154.4,74.6" stroke-width="0.70"/>
<path d="M36.0,150.8C36.4,153.2 38.3,159.3 38.4,165.2C38.5,171.1 36.5,180.1 36.8,186.0C37.1,191.9 38.3,196.1 40.0,200.4C41.7,204.7 44.1,208.1 47.2,211.6C50.3,215.1 55.3,218.9 58.4,221.2C61.5,223.5 64.4,224.5 65.6,225.2" stroke-width="1.00"/>
<path d="M36.0,150.8C34.7,152.7 30.0,157.5 28.0,162.0C26.0,166.5 24.9,173.2 24.0,178.0C23.1,182.8 22.3,186.5 22.4,190.8C22.5,195.1 24.4,201.5 24.8,203.6" stroke-width="0.70"/>
<path d="M23.2,190.8C24.8,192.1 29.9,196.7 32.8,198.8C35.7,200.9 38.1,200.9 40.8,203.6C43.5,206.3 47.5,212.9 48.8,214.8" stroke-width="0.70"/>
<path d="M39.2,154.0C40.0,154.8 42.3,157.1 43.8,158.6C45.4,160.2 46.9,161.8 48.5,163.3C50.1,164.8 51.6,166.4 53.2,167.8C54.8,169.3 56.5,170.7 58.2,172.1C59.9,173.5 62.4,175.7 63.2,176.4" stroke-width="0.70"/>
<path d="M42.4,152.4C43.1,153.2 45.2,155.6 46.6,157.2C48.0,158.8 49.4,160.4 50.8,162.0C52.2,163.6 53.5,165.2 54.9,166.9C56.3,168.5 57.7,170.0 59.1,171.6C60.4,173.2 62.5,175.6 63.2,176.4" stroke-width="0.70"/>
<path d="M45.6,150.8C46.2,151.6 48.1,154.1 49.3,155.8C50.6,157.4 51.8,159.1 53.1,160.8C54.3,162.4 55.5,164.1 56.6,165.9C57.7,167.6 58.8,169.4 59.9,171.1C61.0,172.9 62.7,175.5 63.2,176.4" stroke-width="0.70"/>
<path d="M36.0,150.8C38.7,151.6 47.7,154.8 52.0,155.6C56.3,156.4 58.4,156.1 61.6,155.6C64.8,155.1 69.6,152.9 71.2,152.4" stroke-width="0.70"/>
<path d="M156.1,90.0C157.4,93.2 162.1,103.0 163.9,109.4C165.7,115.9 166.5,122.4 166.8,128.9C167.1,135.4 166.6,141.8 165.8,148.3C165.0,154.8 163.9,161.9 161.9,167.7C160.0,173.6 157.1,178.8 154.2,183.3C151.2,187.8 146.1,193.0 144.4,195.0" stroke-width="0.70"/>
<path d="M142.5,111.4C143.8,111.7 147.7,112.0 150.3,113.3C152.9,114.6 155.8,117.0 158.0,119.2C160.3,121.3 162.5,123.4 163.9,126.0C165.3,128.5 166.0,133.2 166.4,134.7" stroke-width="0.70"/>
<path d="M136.7,128.9C138.3,128.5 143.1,127.4 146.4,126.9C149.6,126.4 153.2,125.5 156.1,126.0C159.0,126.4 162.1,128.1 163.9,129.8C165.6,131.6 166.1,135.5 166.6,136.6" stroke-width="0.70"/>
<path d="M134.7,146.4C136.3,146.0 141.2,145.3 144.4,144.4C147.7,143.5 151.1,142.1 154.2,140.9C157.2,139.8 160.8,138.0 162.9,137.6C165.0,137.2 166.0,138.4 166.6,138.6" stroke-width="0.70"/>
<path d="M132.8,160.0C134.7,159.3 140.5,157.1 144.4,156.1C148.3,155.1 152.7,154.5 156.1,154.1C159.5,153.8 163.4,154.1 164.8,154.1" stroke-width="0.70"/>
<path d="M125.0,175.5C126.6,174.9 131.5,172.0 134.7,171.6C138.0,171.3 141.8,172.0 144.4,173.6C147.0,175.2 149.6,178.4 150.3,181.4C150.9,184.3 148.6,189.4 148.3,191.1" stroke-width="0.70"/>
<path d="M144.4,173.6C146.1,173.9 150.9,175.2 154.2,175.5C157.4,175.8 161.4,176.2 163.9,175.5C166.3,174.9 167.9,172.3 168.7,171.6" stroke-width="0.70"/></g>
<path class="ar" d="M146.0,103.0L146.2,100.2L148.0,101.1ZM137.2,123.2L137.0,120.4L138.9,120.9ZM133.2,144.8L132.7,142.0L134.7,142.4ZM127.7,166.1L127.2,163.3L129.1,163.7ZM102.4,99.8L100.2,101.6L99.6,99.7ZM124.0,96.2L121.5,97.4L121.4,95.4ZM145.7,99.0L142.9,99.2L143.5,97.3ZM100.3,101.7L98.0,103.2L97.6,101.2ZM122.2,100.9L119.6,101.7L119.7,99.7ZM100.2,102.7L97.7,103.9L97.5,101.9ZM122.1,104.1L119.3,104.6L119.7,102.7ZM108.9,104.9L106.2,105.4L106.5,103.5ZM129.8,111.8L127.0,111.7L127.7,109.9ZM109.6,107.3L106.9,107.4L107.5,105.5ZM129.4,117.0L126.6,116.8L127.4,115.0ZM105.6,109.0L102.8,108.8L103.7,107.0ZM123.7,121.4L121.0,120.9L122.1,119.2ZM105.8,111.6L103.1,111.0L104.2,109.3ZM123.0,125.3L120.3,124.5L121.5,122.9ZM102.2,112.9L99.7,111.8L101.1,110.4ZM116.5,129.7L114.0,128.5L115.5,127.1ZM103.1,117.9L100.8,116.5L102.4,115.3ZM116.0,135.7L113.5,134.5L114.9,133.2ZM99.1,118.9L97.1,116.9L98.9,116.1ZM107.2,139.3L105.2,137.4L107.0,136.5ZM121.1,156.2L118.6,155.1L120.0,153.6ZM94.5,111.0L92.8,108.9L94.7,108.3ZM101.1,132.0L99.4,129.8L101.4,129.3ZM110.0,151.9L107.7,150.5L109.2,149.3ZM88.7,86.3L89.8,88.9L87.8,89.0ZM94.8,95.5L94.6,98.3L92.8,97.4ZM111.3,81.3L109.8,83.7L108.6,82.1ZM101.8,92.6L99.7,94.4L99.0,92.5ZM121.6,83.5L120.0,85.8L118.9,84.1ZM141.8,83.3L139.1,82.9L140.1,81.1ZM86.3,95.2L88.7,96.7L87.0,97.9ZM72.1,78.6L74.2,80.5L72.4,81.4ZM142.1,78.4L139.3,77.9L140.4,76.2ZM113.4,71.3L115.9,70.1L116.1,72.1ZM91.8,67.7L94.5,67.2L94.1,69.2ZM69.8,66.5L72.4,65.4L72.5,67.4ZM99.7,75.9L97.3,74.5L98.8,73.2ZM101.3,94.0L102.2,91.4L103.7,92.7ZM63.9,110.1L61.8,112.0L61.1,110.1ZM84.9,104.1L82.5,105.5L82.2,103.5ZM60.1,112.6L57.8,114.2L57.3,112.3ZM81.1,106.1L78.8,107.7L78.3,105.8ZM61.3,113.5L58.9,114.8L58.6,112.8ZM82.3,107.1L80.2,108.9L79.6,107.0ZM67.4,114.0L64.9,115.2L64.7,113.3ZM87.7,105.8L85.9,107.9L85.0,106.1ZM67.1,115.6L64.5,116.6L64.5,114.6ZM87.1,107.0L85.5,109.3L84.4,107.6ZM63.8,105.7L62.2,107.9L61.1,106.3ZM83.0,95.0L81.4,97.3L80.3,95.7ZM61.6,107.0L60.2,109.4L59.0,107.9ZM77.7,92.1L76.6,94.6L75.2,93.2ZM34.8,106.5L37.6,106.6L36.8,108.4ZM13.7,109.0L15.7,107.1L16.5,108.9ZM33.6,111.0L36.3,110.2L36.1,112.2ZM12.1,114.7L14.1,112.8L14.9,114.6ZM36.4,115.0L38.9,113.7L39.1,115.7ZM14.9,119.5L17.2,117.8L17.7,119.7ZM37.3,118.4L39.4,116.6L40.1,118.5ZM17.2,127.2L19.1,125.3L20.0,127.1ZM38.4,122.1L39.9,119.8L41.1,121.4ZM20.8,135.3L22.3,133.0L23.5,134.7ZM43.3,123.3L44.3,120.7L45.8,122.1ZM30.2,141.0L31.0,138.3L32.6,139.5ZM45.2,107.9L47.8,109.1L46.3,110.5ZM30.2,91.9L32.9,92.7L31.7,94.3ZM51.8,88.7L49.8,86.8L51.6,85.9ZM53.2,110.3L52.9,107.5L54.9,108.0ZM54.5,72.5L52.3,74.2L51.8,72.2ZM32.0,83.2L33.4,80.9L34.6,82.5ZM18.0,100.1L18.5,97.4L20.2,98.4ZM26.7,95.0L25.9,97.7L24.3,96.5ZM45.5,91.8L43.1,90.5L44.6,89.2ZM51.6,112.9L50.0,110.6L52.0,110.1ZM49.8,132.3L49.1,129.6L51.1,129.8ZM47.2,154.1L46.3,151.5L48.3,151.6ZM54.2,132.8L52.9,130.3L54.9,130.1ZM58.7,154.3L57.1,152.0L59.1,151.5ZM55.9,125.9L54.0,123.8L55.9,123.1ZM65.8,145.6L63.7,143.7L65.5,142.8ZM60.2,126.3L57.8,125.0L59.3,123.7ZM76.9,140.6L74.2,139.9L75.4,138.3ZM61.1,121.7L58.4,121.1L59.5,119.5ZM81.1,130.9L78.3,130.5L79.3,128.8ZM46.2,127.9L46.4,125.2L48.2,126.0ZM36.7,147.8L36.7,145.0L38.6,145.8ZM56.7,167.2L58.9,168.9L57.3,169.9ZM59.8,165.1L61.4,167.4L59.5,167.9ZM68.3,159.9L68.4,162.7L66.5,162.1ZM69.8,168.8L68.9,171.4L67.3,170.1ZM76.6,170.5L74.6,172.5L73.8,170.7ZM54.3,175.9L57.0,175.2L56.8,177.2ZM46.1,179.2L48.6,177.8L48.9,179.8ZM59.9,193.3L59.0,190.7L61.0,190.8ZM61.9,215.2L60.4,212.8L62.3,212.4ZM74.2,218.8L73.1,221.3L71.7,219.9ZM82.0,198.6L82.6,201.3L80.6,201.0ZM70.3,199.0L69.0,196.5L71.0,196.3ZM73.3,190.4L71.8,188.0L73.8,187.7ZM72.5,212.1L72.1,209.4L74.1,209.8ZM78.1,193.7L76.7,191.3L78.6,191.0ZM74.4,215.1L74.3,212.3L76.2,213.0ZM55.3,221.5L58.1,221.2L57.6,223.1ZM40.2,206.4L42.2,208.3L40.4,209.2ZM34.8,185.3L36.0,187.8L34.0,187.9ZM52.3,226.7L54.8,225.4L55.0,227.4ZM33.0,217.2L35.7,218.1L34.4,219.7ZM25.2,160.8L22.5,160.2L23.7,158.5ZM44.9,169.0L42.3,170.0L42.3,168.0ZM21.3,179.5L18.7,178.3L20.2,176.9ZM32.2,198.5L29.9,196.9L31.5,195.8ZM46.6,215.0L44.1,213.9L45.5,212.5ZM30.5,196.0L27.7,195.4L28.8,193.7ZM102.1,168.4L99.3,167.9L100.3,166.2ZM122.7,175.9L119.9,176.1L120.5,174.2ZM85.8,149.6L83.1,148.8L84.2,147.2ZM104.3,161.4L101.6,160.9L102.6,159.2ZM122.3,174.0L119.6,173.3L120.8,171.6ZM89.0,147.9L86.4,147.0L87.6,145.5ZM106.8,160.8L104.1,160.2L105.2,158.5ZM123.9,174.7L121.2,173.8L122.5,172.3ZM97.2,150.5L94.6,149.6L95.9,148.1ZM114.1,164.6L111.5,163.6L112.9,162.1ZM98.9,147.7L96.4,146.5L97.8,145.1ZM114.8,162.9L112.3,161.7L113.7,160.3ZM105.6,149.9L103.2,148.6L104.6,147.3ZM119.8,166.8L117.4,165.2L119.1,164.1ZM106.1,145.2L103.8,143.7L105.4,142.5ZM119.1,162.9L116.9,161.3L118.6,160.2ZM98.5,161.8L95.8,161.6L96.7,159.8ZM118.0,172.1L115.2,171.7L116.2,170.0ZM89.3,159.8L86.5,159.5L87.4,157.7ZM109.1,169.4L106.3,169.3L107.1,167.4ZM83.1,159.4L80.3,159.1L81.2,157.3ZM102.9,169.0L100.1,168.9L100.9,167.1ZM123.7,176.1L120.9,176.2L121.5,174.3ZM84.6,162.9L81.8,162.6L82.7,160.8ZM104.6,171.9L101.8,171.9L102.5,170.0ZM161.1,105.9L159.3,103.8L161.2,103.2ZM167.1,127.1L165.7,124.7L167.6,124.3ZM168.9,149.0L167.8,146.4L169.8,146.4ZM167.2,170.9L166.5,168.2L168.5,168.5ZM160.5,191.8L160.7,189.0L162.5,189.8ZM134.3,187.2L131.7,186.1L133.1,184.7ZM154.5,188.2L152.6,190.2L151.7,188.4ZM129.4,195.3L128.0,192.9L130.0,192.6ZM143.7,207.5L141.3,208.8L141.0,206.9ZM120.0,188.8L120.6,186.1L122.3,187.2ZM104.0,199.7L106.8,199.6L106.2,201.5ZM105.7,196.4L103.6,194.5L105.4,193.6ZM118.2,213.1L115.4,213.2L116.1,211.3ZM139.6,210.1L137.5,212.0L136.8,210.2ZM89.6,202.0L87.7,199.9L89.6,199.2ZM95.2,223.2L93.6,220.9L95.5,220.5ZM100.1,201.3L98.0,199.4L99.8,198.5ZM107.8,221.9L106.2,219.6L108.1,219.1ZM82.8,196.5L82.4,193.8L84.4,194.2ZM80.6,218.3L79.6,215.7L81.6,215.7ZM115.1,217.1L112.6,216.0L114.0,214.6ZM135.7,221.7L133.3,223.1L133.0,221.2ZM143.0,73.5L140.2,73.5L140.9,71.7ZM161.0,85.7L158.5,84.4L159.9,83.1ZM113.5,64.4L110.8,65.2L111.0,63.2ZM135.2,67.4L132.5,67.9L132.9,65.9ZM38.3,164.4L37.2,161.9L39.2,161.8ZM36.8,186.3L35.8,183.8L37.8,183.7ZM43.6,207.0L41.3,205.4L43.0,204.3ZM59.5,222.0L56.8,221.3L58.0,219.7ZM27.0,164.7L27.0,161.9L28.8,162.6ZM22.6,186.2L22.0,183.5L23.9,183.8ZM32.9,198.9L30.2,198.1L31.4,196.5ZM50.6,165.4L48.1,164.3L49.5,162.8ZM52.8,164.4L50.3,163.0L51.9,161.7ZM56.4,165.5L54.1,164.0L55.8,162.8ZM44.8,153.7L42.1,153.8L42.7,151.9ZM66.3,154.2L64.2,156.0L63.5,154.1ZM162.3,104.8L160.5,102.7L162.3,102.0ZM166.6,126.3L165.4,123.8L167.4,123.6ZM165.8,148.2L165.1,145.5L167.1,145.8ZM161.2,169.7L161.2,166.9L163.0,167.6ZM150.2,188.6L151.0,185.9L152.6,187.2ZM158.4,119.5L155.8,118.5L157.1,117.0ZM155.1,125.9L152.4,126.9L152.5,124.9ZM142.8,144.8L140.5,146.4L140.0,144.4ZM163.5,137.4L161.3,139.2L160.7,137.3ZM149.6,155.0L147.2,156.5L146.8,154.5ZM142.8,172.9L140.1,172.7L140.9,170.9ZM162.8,175.7L160.3,177.0L160.1,175.0ZM71.5,121.2L68.8,121.9L69.1,119.9ZM91.8,128.6L89.1,127.6L90.5,126.1ZM62.8,88.3L64.1,90.8L62.1,91.0ZM95.1,173.8L92.3,174.0L92.8,172.1ZM115.9,180.9L113.1,181.2L113.6,179.3ZM107.7,189.2L105.6,187.3L107.4,186.4ZM152.0,134.2L149.8,135.8L149.3,133.9ZM123.5,195.5L124.3,198.1L122.3,198.0ZM118.7,91.4L116.5,93.1L116.0,91.2ZM140.0,90.6L137.3,90.6L138.0,88.7ZM53.5,205.2L55.5,207.1L53.7,208.0ZM174.6,136.8L173.3,134.3L175.3,134.1ZM114.0,139.4L111.5,138.1L113.0,136.8ZM140.0,152.3L138.0,154.2L137.2,152.4ZM97.1,191.3L94.9,189.6L96.6,188.6ZM71.3,130.3L68.6,129.7L69.6,128.0ZM72.0,143.7L69.5,142.4L71.0,141.1ZM20.3,143.6L19.2,146.1L17.8,144.7ZM36.0,128.1L34.8,130.7L33.5,129.2Z"/>
</g>
<g clip-path="url(#c1)">
<circle cx="275.30" cy="143.10" r="87.00" fill="#00ff51"/>
<path fill-rule="evenodd" fill="#00ff1b" d="M364.1,231.9 186.3,231.8 186.3,54.4 186.6,54.1 364.1,54.1 364.1,231.9Z"/>
<path fill-rule="evenodd" fill="#1bff00" d="M283.1,226.7 276.3,227.1 268.1,226.9 258.3,225.5 249.3,223.2 241.8,220.4 235.1,217.1 226.8,212.1 220.8,207.5 213.4,200.3 208.3,194.3 204.5,189.1 200.1,181.6 197.0,174.8 194.2,166.6 192.6,160.6 191.2,151.6 190.9,144.1 191.1,135.8 192.5,126.1 194.2,119.3 197.1,111.1 200.3,104.3 204.7,96.8 209.0,90.8 213.6,85.6 219.3,80.0 226.1,74.7 234.3,69.5 241.8,65.8 250.1,62.8 256.1,61.2 265.1,59.6 274.8,59.1 283.8,59.5 290.6,60.6 298.8,62.6 305.6,64.9 313.8,68.7 321.3,73.2 327.3,77.6 334.1,83.6 339.9,90.1 344.3,96.1 348.0,102.1 351.8,109.6 354.8,117.8 357.0,126.1 358.3,135.1 358.7,142.6 358.4,150.8 357.0,159.8 354.7,168.8 352.5,174.8 348.6,183.1 343.5,191.3 338.9,197.3 331.8,204.7 325.8,209.8 320.6,213.5 313.1,217.9 306.3,221.0 297.3,224.1 291.3,225.5 283.1,226.7Z"/>
<path fill-rule="evenodd" fill="#51ff00" d="M282.3,223.6 274.1,223.9 266.3,223.6 256.9,222.1 251.2,220.6 244.7,218.3 236.5,214.6 229.1,210.1 223.0,205.6 217.1,200.1 211.8,194.3 207.3,188.2 202.8,180.7 199.1,172.4 196.8,165.8 195.3,159.8 193.8,149.6 193.8,136.5 195.3,126.3 197.6,117.9 199.8,111.8 204.3,102.8 208.1,96.8 213.3,90.1 219.9,83.3 225.2,78.8 230.6,75.1 238.6,70.6 247.4,66.8 254.8,64.6 262.3,63.1 269.3,62.3 279.3,62.3 286.3,63.1 293.8,64.6 301.2,66.8 308.6,69.8 316.8,74.3 324.3,79.6 328.7,83.3 333.3,87.8 337.8,93.1 343.0,100.6 346.8,107.5 349.8,114.5 352.1,121.3 353.6,127.6 354.3,132.1 354.8,138.1 355.0,144.8 354.3,154.1 352.8,162.1 350.6,169.7 347.6,177.1 344.6,183.0 340.8,189.0 335.6,195.8 329.0,202.6 322.8,207.8 316.1,212.3 310.6,215.3 304.0,218.3 297.4,220.6 291.7,222.1 282.3,223.6Z"/>
<path fill-rule="evenodd" fill="#86ff00" d="M281.6,218.4 273.3,218.7 265.8,218.4 256.8,216.9 251.2,215.3 244.8,213.0 237.3,209.4 232.1,206.3 226.0,201.8 220.1,196.4 214.9,190.6 211.0,185.3 206.6,177.9 203.5,171.1 200.6,162.1 199.1,154.9 198.3,148.6 198.3,138.8 199.0,131.3 200.6,124.1 202.1,119.1 204.3,113.2 208.1,105.6 211.8,99.7 216.3,93.8 222.1,87.8 228.3,82.6 233.8,78.8 239.0,75.8 245.6,72.8 254.6,69.9 261.8,68.3 268.1,67.6 277.8,67.5 285.3,68.3 292.6,69.8 297.6,71.3 305.1,74.3 312.3,78.1 319.0,82.6 323.6,86.3 328.8,91.5 333.4,96.8 337.1,102.1 341.6,110.1 344.6,117.2 346.8,124.6 348.3,132.1 348.8,137.3 349.1,145.6 348.3,153.8 346.8,161.6 345.3,166.8 343.1,172.8 339.3,180.4 336.2,185.3 331.8,191.3 327.0,196.6 322.1,201.1 316.2,205.6 310.1,209.4 304.1,212.4 296.1,215.3 290.6,216.9 281.6,218.4Z"/>
<path fill-rule="evenodd" fill="#bcff00" d="M277.8,211.7 271.1,211.8 264.3,211.3 256.8,209.9 250.8,208.2 244.1,205.4 238.1,202.3 232.1,198.3 227.6,194.6 222.7,189.8 218.3,184.6 214.7,179.3 211.4,173.3 209.1,168.1 206.8,161.3 205.3,154.6 204.5,147.8 204.4,141.1 204.8,135.1 206.0,128.3 207.8,121.6 210.1,115.6 213.1,109.6 216.8,103.6 220.9,98.3 225.3,93.7 230.6,89.1 235.8,85.3 242.6,81.5 247.8,79.1 254.6,76.9 261.3,75.4 268.1,74.5 274.8,74.4 280.8,74.8 288.3,76.1 294.3,77.8 300.3,80.1 306.3,83.1 312.3,86.9 317.6,91.0 322.2,95.3 326.8,100.6 330.5,105.8 334.3,112.6 336.6,117.8 338.9,124.6 340.4,131.3 341.3,138.1 341.4,144.8 341.0,150.8 339.7,158.3 338.1,164.3 335.8,170.3 332.9,176.3 329.2,182.3 324.5,188.3 319.8,193.2 314.6,197.7 309.3,201.3 303.3,204.7 297.3,207.3 290.6,209.5 283.8,211.0 277.8,211.7Z"/>
<path fill-rule="evenodd" fill="#f2ff00" d="M279.3,204.9 272.6,205.2 265.1,204.9 260.4,204.1 254.4,202.6 250.0,201.1 243.5,198.1 239.5,195.8 234.2,192.1 228.3,186.8 223.8,181.7 220.1,176.4 217.8,172.6 215.6,167.8 213.3,161.8 211.8,156.2 211.0,151.6 210.5,144.8 210.5,140.3 211.1,134.2 212.6,126.8 214.8,120.1 217.1,115.2 220.1,109.8 224.5,103.6 228.7,99.1 233.6,94.6 238.8,90.8 242.6,88.6 247.1,86.3 255.2,83.3 261.7,81.8 267.3,81.1 277.8,81.2 286.8,82.6 292.1,84.1 299.3,87.1 304.8,90.1 309.3,93.1 313.0,96.1 319.0,102.1 322.1,105.8 327.3,114.2 330.3,120.8 331.8,125.3 333.3,131.3 334.1,136.4 334.3,143.3 334.1,149.8 333.3,154.8 331.8,160.9 329.6,167.2 327.3,172.0 324.3,177.1 320.6,182.3 316.4,186.8 311.6,191.3 306.4,195.1 302.7,197.3 296.6,200.3 290.6,202.6 284.6,204.1 279.3,204.9Z"/>
<path fill-rule="evenodd" fill="#ffd700" d="M277.8,193.6 265.8,193.6 264.3,193.1 261.3,192.9 260.6,192.4 258.3,192.1 257.6,191.6 253.8,190.6 253.1,190.0 248.8,188.3 245.6,186.3 244.8,186.1 240.3,182.7 239.6,182.4 232.8,175.6 232.5,174.8 229.1,170.4 228.9,169.6 226.8,166.4 225.1,162.1 224.6,161.4 223.5,157.6 223.1,156.9 222.9,155.3 222.3,153.9 222.0,150.8 221.6,149.7 221.5,136.6 222.1,135.1 222.3,132.1 222.8,131.3 223.1,129.1 223.6,128.3 223.8,126.8 224.3,126.1 224.6,124.6 225.2,123.8 225.3,123.0 228.3,117.1 231.3,112.6 233.3,110.3 234.3,108.8 237.3,105.8 241.8,102.1 242.6,101.9 244.0,100.6 244.8,100.4 246.5,99.1 248.6,98.2 249.3,97.6 250.1,97.5 250.8,96.8 253.8,95.9 254.5,95.3 256.1,95.1 256.7,94.6 258.3,94.4 259.1,93.8 261.3,93.7 262.7,93.1 266.6,92.8 268.0,92.3 275.6,92.3 277.8,92.9 281.0,93.1 282.3,93.6 284.6,93.8 285.3,94.4 289.1,95.3 289.8,95.8 291.3,96.1 292.1,96.7 292.8,96.8 296.6,99.0 297.3,99.1 301.8,102.1 305.6,105.1 310.1,109.6 311.0,111.1 313.0,113.3 313.2,114.1 314.6,115.6 314.7,116.3 316.8,119.7 319.8,126.7 320.1,128.3 320.6,129.0 320.7,130.6 321.3,131.9 321.5,134.3 322.1,135.8 322.3,143.3 322.1,150.1 321.4,152.3 321.3,154.6 320.8,155.3 319.8,159.7 319.2,160.6 318.3,163.6 317.7,164.3 317.6,165.1 316.2,167.3 316.1,168.1 311.6,174.7 304.1,182.3 298.8,186.1 295.8,187.7 295.1,188.3 290.6,190.1 289.9,190.6 286.1,191.6 285.4,192.1 283.8,192.2 282.3,192.8 279.3,193.1 277.8,193.6Z"/>
<g class="fl"><path d="M204.9,110.6 207.9,111.4 210.3,111.5 224.2,107.8"/>
<path d="M266.7,57.6 289.6,61.2 295.2,61.6 301.6,61.4"/>
<path d="M240.7,64.5 250.1,62.7 258.1,62.4 270.9,63.5 289.1,66.0 314.7,66.9"/>
<path d="M326.2,91.5 331.6,101.3 335.6,111.8 339.4,127.3 342.5,144.7 342.8,155.8 341.2,167.7 339.2,175.5 338.0,177.6 335.8,179.8"/>
<path d="M193.1,167.2 196.5,170.5 199.9,172.7 202.1,173.6 206.0,174.3"/>
<path d="M227.0,166.7 237.6,170.1 242.8,172.1 248.0,175.9 250.9,178.7"/>
<path d="M227.8,163.8 228.7,158.3 228.5,154.3 227.4,150.5 225.5,147.0"/>
<path d="M231.7,159.3 232.7,162.3 233.7,163.6 238.9,167.3"/>
<path d="M286.0,201.8 287.1,199.7 288.8,194.4 290.4,186.6"/>
<path d="M306.9,76.7 312.5,79.7 315.2,82.7 316.9,85.4 319.4,90.4 321.4,95.6 325.2,109.5 330.1,137.9 332.5,156.9 332.6,162.5 332.3,167.3 331.5,171.2 329.6,177.3"/>
<path d="M302.7,149.3 303.0,153.3 305.9,164.1 308.8,172.4 312.5,181.2 312.6,183.6 311.8,185.9"/>
<path d="M303.2,165.6 305.7,178.9 309.2,191.2"/>
<path d="M228.4,86.8 235.3,84.7 245.7,80.5 251.8,78.7 262.0,76.6 277.8,74.5"/>
<path d="M294.6,156.6 294.9,169.4 295.8,180.6 297.1,188.5 299.8,196.8 302.5,202.7 305.2,205.5 307.5,206.3"/>
<path d="M216.5,128.3 220.9,130.2 224.8,130.9 236.8,129.7 239.1,129.9 241.4,130.5"/>
<path d="M222.8,133.6 225.8,136.3 228.0,137.1 232.8,137.0 239.1,135.9"/>
<path d="M330.2,78.2 335.1,82.3 341.4,89.5 346.6,96.6 350.1,102.9 353.9,112.6 357.8,124.7 360.2,134.9 361.3,142.8"/>
<path d="M264.0,99.6 263.6,93.3 264.5,89.4 267.0,85.3 271.4,80.7"/>
<path d="M246.4,89.3 252.0,88.6 257.6,88.5 260.0,88.0 262.1,87.0"/>
<path d="M312.6,159.5 309.1,148.9 308.2,143.4 308.8,142.0 315.3,132.8 316.6,129.9 317.4,126.8"/>
<path d="M325.0,174.2 323.8,164.6 319.8,141.0 319.6,137.0 320.2,128.2"/>
<path d="M216.9,189.3 241.7,188.6 247.2,187.8"/>
<path d="M189.6,136.7 191.2,151.0 193.5,156.9"/>
<path d="M356.8,170.5 358.8,158.7 359.1,145.1"/>
<path d="M252.0,149.8 255.1,153.4 257.8,160.9 258.3,166.5 257.7,173.6"/></g>
<g class="sl"><path d="M292.0,73.6C288.9,75.0 277.8,77.4 273.5,82.1C269.1,86.7 267.1,94.9 266.1,101.6C265.1,108.2 264.8,116.3 267.4,121.9C269.9,127.5 275.6,132.0 281.3,135.2C287.1,138.3 298.2,139.9 301.6,140.8" stroke-width="0.60"/>
<path d="M292.0,73.6C289.4,75.0 279.8,77.4 276.1,82.0C272.4,86.5 270.7,94.5 269.8,101.1C269.0,107.6 268.8,115.6 271.2,121.2C273.5,126.8 278.8,131.4 283.9,134.7C288.9,138.0 298.6,139.8 301.6,140.8" stroke-width="0.60"/>
<path d="M292.0,73.6C289.8,75.0 281.9,77.3 278.8,81.8C275.7,86.3 274.2,94.2 273.6,100.6C273.0,107.0 272.9,114.8 275.0,120.5C277.1,126.1 281.9,130.9 286.4,134.3C290.8,137.6 299.1,139.7 301.6,140.8" stroke-width="0.60"/>
<path d="M292.0,73.6C290.2,74.9 283.9,77.3 281.5,81.7C279.0,86.1 277.8,93.8 277.4,100.1C276.9,106.4 276.9,114.1 278.8,119.7C280.7,125.3 285.1,130.3 288.9,133.8C292.7,137.3 299.5,139.6 301.6,140.8" stroke-width="0.60"/>
<path d="M292.0,73.6C290.7,74.9 285.9,77.2 284.1,81.5C282.3,85.9 281.4,93.4 281.2,99.6C280.9,105.9 280.9,113.4 282.6,119.0C284.3,124.6 288.2,129.7 291.4,133.3C294.6,137.0 299.9,139.6 301.6,140.8" stroke-width="0.60"/>
<path d="M292.0,73.6C291.1,74.9 288.0,77.2 286.8,81.4C285.6,85.7 285.0,93.0 284.9,99.1C284.9,105.3 285.0,112.6 286.5,118.3C288.0,123.9 291.4,129.1 293.9,132.9C296.4,136.6 300.3,139.5 301.6,140.8" stroke-width="0.60"/>
<path d="M292.0,73.6C291.6,74.9 290.0,77.1 289.5,81.3C288.9,85.5 288.6,92.6 288.7,98.6C288.8,104.7 289.0,111.9 290.3,117.5C291.6,123.1 294.5,128.5 296.4,132.4C298.3,136.3 300.7,139.4 301.6,140.8" stroke-width="0.60"/>
<path d="M292.0,73.6C292.0,74.9 292.1,77.0 292.1,81.1C292.2,85.2 292.1,92.2 292.5,98.2C292.8,104.1 293.0,111.1 294.1,116.8C295.2,122.4 297.7,127.9 298.9,131.9C300.2,136.0 301.2,139.3 301.6,140.8" stroke-width="0.60"/>
<path d="M292.0,73.6C292.5,74.8 294.1,77.0 294.8,81.0C295.5,85.0 295.7,91.8 296.2,97.7C296.8,103.5 297.0,110.4 297.9,116.0C298.8,121.7 300.8,127.4 301.4,131.5C302.1,135.6 301.6,139.2 301.6,140.8" stroke-width="0.60"/>
<path d="M292.0,73.6C292.9,74.8 296.1,76.9 297.5,80.9C298.8,84.8 299.3,91.4 300.0,97.2C300.7,102.9 301.1,109.7 301.7,115.3C302.4,120.9 304.0,126.8 304.0,131.0C303.9,135.3 302.0,139.2 301.6,140.8" stroke-width="0.60"/>
<path d="M292.0,73.6C293.4,74.8 298.2,76.9 300.1,80.7C302.1,84.6 302.9,91.1 303.8,96.7C304.7,102.3 305.1,108.9 305.5,114.6C306.0,120.2 307.1,126.2 306.5,130.6C305.8,134.9 302.4,139.1 301.6,140.8" stroke-width="0.60"/>
<path d="M292.0,73.6C293.8,74.8 300.2,76.8 302.8,80.6C305.4,84.4 306.5,90.7 307.6,96.2C308.6,101.8 309.1,108.2 309.4,113.8C309.6,119.5 310.3,125.6 309.0,130.1C307.7,134.6 302.8,139.0 301.6,140.8" stroke-width="0.60"/>
<path d="M292.0,73.6C294.2,74.7 302.3,76.8 305.5,80.5C308.7,84.2 310.0,90.3 311.3,95.7C312.6,101.2 313.2,107.4 313.2,113.1C313.2,118.8 313.4,125.0 311.5,129.6C309.6,134.3 303.2,138.9 301.6,140.8" stroke-width="0.60"/>
<path d="M292.0,73.6C294.7,74.7 304.3,76.7 308.1,80.3C312.0,83.9 313.6,89.9 315.1,95.2C316.6,100.6 317.2,106.7 317.0,112.4C316.8,118.0 316.6,124.4 314.0,129.2C311.4,133.9 303.7,138.9 301.6,140.8" stroke-width="0.60"/>
<path d="M292.0,73.6C288.5,72.8 278.9,69.9 271.2,68.8C263.5,67.7 253.1,66.1 245.6,67.2C238.1,68.3 232.8,71.2 226.4,75.2C220.0,79.2 210.4,88.5 207.2,91.2" stroke-width="0.60"/>
<path d="M292.0,73.6C288.0,73.3 276.3,71.7 268.0,72.0C259.7,72.3 249.9,72.5 242.4,75.2C234.9,77.9 228.5,83.7 223.2,88.0C217.9,92.3 212.5,98.7 210.4,100.8" stroke-width="0.60"/>
<path d="M292.0,73.6C296.0,73.3 308.8,71.2 316.0,72.0C323.2,72.8 329.3,74.7 335.2,78.4C341.1,82.1 348.5,91.7 351.2,94.4" stroke-width="0.60"/>
<path d="M292.0,73.6C295.5,73.9 306.7,72.8 312.8,75.2C318.9,77.6 324.0,83.2 328.8,88.0C333.6,92.8 338.4,97.6 341.6,104.0C344.8,110.4 346.9,122.7 348.0,126.4" stroke-width="0.60"/>
<path d="M301.6,140.8C300.3,142.7 295.5,146.9 293.6,152.0C291.7,157.1 290.4,164.8 290.4,171.2C290.4,177.6 292.0,184.0 293.6,190.4C295.2,196.8 298.9,206.4 300.0,209.6" stroke-width="0.60"/>
<path d="M301.6,140.8C301.1,143.2 298.7,149.1 298.4,155.2C298.1,161.3 298.7,170.7 300.0,177.6C301.3,184.5 303.7,190.9 306.4,196.8C309.1,202.7 314.4,210.1 316.0,212.8" stroke-width="0.60"/>
<path d="M301.6,140.8C302.4,142.7 304.0,146.9 306.4,152.0C308.8,157.1 312.8,164.8 316.0,171.2C319.2,177.6 322.9,185.1 325.6,190.4C328.3,195.7 330.9,201.1 332.0,203.2" stroke-width="0.60"/>
<path d="M301.6,140.8C298.7,141.6 289.6,143.7 284.0,145.6C278.4,147.5 271.7,149.9 268.0,152.0C264.3,154.1 262.7,157.3 261.6,158.4" stroke-width="0.60"/>
<path d="M220.0,113.6C222.1,113.1 228.5,109.9 232.8,110.4C237.1,110.9 242.1,114.1 245.6,116.8C249.1,119.5 252.5,123.5 253.6,126.4C254.7,129.3 253.1,133.3 252.0,134.4C250.9,135.5 248.0,133.1 247.2,132.8" stroke-width="0.60"/>
<path d="M213.6,120.0C216.3,119.5 224.8,116.8 229.6,116.8C234.4,116.8 238.9,117.9 242.4,120.0C245.9,122.1 249.1,126.9 250.4,129.6C251.7,132.3 250.4,134.9 250.4,136.0" stroke-width="0.60"/>
<path d="M226.4,107.2C228.5,106.7 234.9,103.5 239.2,104.0C243.5,104.5 249.1,107.2 252.0,110.4C254.9,113.6 256.5,118.9 256.8,123.2C257.1,127.5 254.1,133.9 253.6,136.0" stroke-width="0.60"/>
<path d="M232.8,100.8C234.9,100.3 241.6,96.5 245.6,97.6C249.6,98.7 254.4,102.9 256.8,107.2C259.2,111.5 260.3,118.1 260.0,123.2C259.7,128.3 256.0,135.2 255.2,137.6" stroke-width="0.60"/>
<path d="M239.2,96.0C241.3,95.5 248.3,91.5 252.0,92.8C255.7,94.1 259.7,98.9 261.6,104.0C263.5,109.1 264.0,117.3 263.2,123.2C262.4,129.1 257.9,136.5 256.8,139.2" stroke-width="0.60"/>
<path d="M236.0,142.4C237.6,141.9 242.9,140.5 245.6,139.2C248.3,137.9 250.9,135.2 252.0,134.4" stroke-width="0.60"/>
<path d="M252.0,136.0C253.6,136.2 258.6,136.9 261.9,137.2C265.2,137.6 268.5,137.9 271.8,138.2C275.1,138.5 278.4,138.7 281.7,139.0C285.1,139.3 288.4,139.6 291.7,139.9C295.0,140.2 299.9,140.6 301.6,140.8" stroke-width="0.60"/>
<path d="M250.9,139.7C252.6,139.9 257.7,140.3 261.1,140.6C264.5,140.8 267.9,141.0 271.3,141.1C274.7,141.3 278.1,141.3 281.5,141.4C284.9,141.4 288.2,141.4 291.6,141.3C294.9,141.2 299.9,140.9 301.6,140.8" stroke-width="0.60"/>
<path d="M249.9,143.5C251.6,143.5 256.8,143.8 260.3,143.9C263.8,144.0 267.3,144.1 270.8,144.1C274.3,144.0 277.8,144.0 281.2,143.8C284.7,143.5 288.1,143.3 291.5,142.8C294.9,142.3 299.9,141.1 301.6,140.8" stroke-width="0.60"/>
<path d="M248.8,147.2C250.6,147.2 256.0,147.2 259.5,147.2C263.1,147.2 266.7,147.2 270.3,147.0C273.8,146.8 277.4,146.6 280.9,146.1C284.5,145.7 288.0,145.1 291.4,144.2C294.9,143.3 299.9,141.4 301.6,140.8" stroke-width="0.60"/>
<path d="M242.4,145.6C244.0,147.7 249.6,152.0 252.0,158.4C254.4,164.8 256.0,179.7 256.8,184.0" stroke-width="0.60"/>
<path d="M232.8,148.8C234.9,150.9 242.4,157.3 245.6,161.6C248.8,165.9 250.9,172.3 252.0,174.4" stroke-width="0.60"/>
<path d="M256.8,184.0C258.1,180.8 261.3,169.1 264.8,164.8C268.3,160.5 273.9,158.9 277.6,158.4C281.3,157.9 285.1,158.4 287.2,161.6C289.3,164.8 290.9,171.7 290.4,177.6C289.9,183.5 285.1,193.6 284.0,196.8" stroke-width="0.60"/>
<path d="M256.8,184.0C258.1,181.3 261.9,171.5 264.8,168.0C267.7,164.5 271.2,163.2 274.4,163.2C277.6,163.2 282.1,164.5 284.0,168.0C285.9,171.5 286.1,178.7 285.6,184.0C285.1,189.3 281.6,197.3 280.8,200.0" stroke-width="0.60"/>
<path d="M256.8,184.0C258.1,181.9 262.1,173.9 264.8,171.2C267.5,168.5 270.4,167.5 272.8,168.0C275.2,168.5 278.1,170.7 279.2,174.4C280.3,178.1 280.0,185.6 279.2,190.4C278.4,195.2 275.2,201.1 274.4,203.2" stroke-width="0.60"/>
<path d="M256.8,184.0C257.6,182.4 259.5,176.3 261.6,174.4C263.7,172.5 267.5,171.7 269.6,172.8C271.7,173.9 273.9,176.8 274.4,180.8C274.9,184.8 273.1,194.1 272.8,196.8" stroke-width="0.60"/>
<path d="M256.8,184.0C258.4,181.1 263.2,170.1 266.4,166.4C269.6,162.7 272.8,161.9 276.0,161.6C279.2,161.3 283.5,161.6 285.6,164.8C287.7,168.0 289.3,175.2 288.8,180.8C288.3,186.4 283.5,195.5 282.4,198.4" stroke-width="0.60"/>
<path d="M256.8,184.0C257.9,182.1 260.7,175.1 263.2,172.8C265.7,170.5 269.4,169.4 271.8,170.2C274.2,171.0 276.8,173.7 277.6,177.6C278.4,181.5 277.6,189.6 276.6,193.6C275.7,197.6 272.6,200.3 271.8,201.6" stroke-width="0.60"/>
<path d="M256.8,184.0C258.7,180.3 263.5,166.9 268.0,161.6C272.5,156.3 279.2,153.1 284.0,152.0C288.8,150.9 294.7,154.7 296.8,155.2" stroke-width="0.60"/>
<path d="M256.8,184.0C256.0,180.8 253.9,169.1 252.0,164.8C250.1,160.5 247.7,160.5 245.6,158.4C243.5,156.3 240.3,153.1 239.2,152.0" stroke-width="0.60"/>
<path d="M256.8,184.0C254.4,182.9 247.5,179.2 242.4,177.6C237.3,176.0 230.7,175.2 226.4,174.4C222.1,173.6 218.4,173.1 216.8,172.8" stroke-width="0.60"/>
<path d="M256.8,184.0C254.4,184.0 247.5,184.0 242.4,184.0C237.3,184.0 232.3,182.9 226.4,184.0C220.5,185.1 210.4,189.3 207.2,190.4" stroke-width="0.60"/>
<path d="M256.8,184.0C254.9,185.6 250.1,190.9 245.6,193.6C241.1,196.3 234.9,197.9 229.6,200.0C224.3,202.1 216.3,205.3 213.6,206.4" stroke-width="0.60"/>
<path d="M256.8,184.0C256.0,186.7 253.9,194.7 252.0,200.0C250.1,205.3 247.2,211.2 245.6,216.0C244.0,220.8 242.9,226.7 242.4,228.8" stroke-width="0.60"/>
<path d="M256.8,184.0C257.1,187.2 257.6,197.3 258.4,203.2C259.2,209.1 260.5,214.7 261.6,219.2C262.7,223.7 264.3,228.5 264.8,230.4" stroke-width="0.60"/>
<path d="M256.8,184.0C257.6,186.1 259.2,192.5 261.6,196.8C264.0,201.1 268.5,205.3 271.2,209.6C273.9,213.9 276.5,220.3 277.6,222.4" stroke-width="0.60"/>
<path d="M256.8,184.0C255.5,186.1 252.3,192.5 248.8,196.8C245.3,201.1 239.7,205.9 236.0,209.6C232.3,213.3 228.0,217.6 226.4,219.2" stroke-width="0.60"/>
<path d="M195.2,106.9C195.0,110.3 194.2,119.5 194.4,126.8C194.5,134.1 194.9,144.1 196.0,150.7C197.0,157.3 197.5,162.9 200.7,166.6C203.9,170.3 212.7,171.9 215.1,173.0" stroke-width="1.10"/>
<path d="M195.2,106.9C196.6,108.9 201.1,115.6 203.9,118.9C206.7,122.2 209.0,122.9 211.9,126.8C214.8,130.8 219.3,138.0 221.4,142.7C223.5,147.5 224.7,151.2 224.6,155.5C224.5,159.7 222.2,165.3 220.6,168.2C219.0,171.1 216.0,172.2 215.1,173.0" stroke-width="1.10"/>
<path d="M195.2,106.9C195.5,109.3 196.4,116.4 197.0,121.1C197.7,125.9 198.3,130.6 199.0,135.3C199.7,140.0 200.2,144.8 201.2,149.4C202.3,154.1 202.7,159.3 205.0,163.2C207.3,167.1 213.4,171.4 215.1,173.0" stroke-width="0.70"/>
<path d="M195.2,106.9C195.9,109.2 198.2,115.8 199.6,120.3C201.1,124.7 202.5,129.2 203.8,133.7C205.2,138.2 206.4,142.8 207.7,147.4C209.0,151.9 210.4,156.8 211.6,161.1C212.8,165.4 214.5,171.0 215.1,173.0" stroke-width="0.70"/>
<path d="M195.2,106.9C196.3,109.0 200.0,115.2 202.2,119.4C204.5,123.6 206.6,127.8 208.6,132.2C210.7,136.5 212.6,140.8 214.2,145.3C215.8,149.8 218.0,154.4 218.2,159.0C218.3,163.6 215.6,170.7 215.1,173.0" stroke-width="0.70"/>
<path d="M211.9,126.8C214.5,126.3 223.0,124.4 227.8,123.6C232.6,122.9 237.2,122.5 240.5,122.1C243.9,121.7 246.8,121.4 248.0,121.3" stroke-width="0.70"/>
<path d="M221.4,142.7C223.3,142.7 229.1,143.0 232.6,142.7C236.0,142.5 239.5,141.6 242.1,141.2C244.7,140.8 247.0,140.5 248.0,140.4" stroke-width="0.70"/>
<path d="M195.2,106.9C197.2,106.0 203.0,102.8 207.1,101.4C211.2,99.9 215.6,99.2 219.8,98.2C224.1,97.1 230.4,95.5 232.6,95.0" stroke-width="0.70"/>
<path d="M196.0,107.2C198.9,106.7 208.0,106.1 213.6,104.0C219.2,101.9 223.2,97.6 229.6,94.4C236.0,91.2 245.1,87.5 252.0,84.8C258.9,82.1 268.0,79.5 271.2,78.4" stroke-width="0.60"/>
<path d="M196.0,107.2C196.8,105.6 197.9,101.3 200.8,97.6C203.7,93.9 208.3,88.5 213.6,84.8C218.9,81.1 226.4,77.9 232.8,75.2C239.2,72.5 248.8,69.9 252.0,68.8" stroke-width="0.60"/>
<path d="M216.8,172.8C215.2,172.0 210.4,169.9 207.2,168.0C204.0,166.1 200.3,163.2 197.6,161.6C194.9,160.0 192.3,158.9 191.2,158.4" stroke-width="0.60"/>
<path d="M216.8,172.8C214.7,173.6 207.7,175.7 204.0,177.6C200.3,179.5 196.0,182.9 194.4,184.0" stroke-width="0.60"/>
<path d="M216.8,172.8C215.2,174.7 209.9,179.5 207.2,184.0C204.5,188.5 200.8,194.7 200.8,200.0C200.8,205.3 206.1,213.3 207.2,216.0" stroke-width="0.60"/>
<path d="M319.2,81.6C320.8,85.3 326.1,96.0 328.8,104.0C331.5,112.0 333.6,121.6 335.2,129.6C336.8,137.6 338.4,144.5 338.4,152.0C338.4,159.5 337.3,168.0 335.2,174.4C333.1,180.8 327.2,187.7 325.6,190.4" stroke-width="0.60"/>
<path d="M328.8,84.8C330.4,88.0 335.7,96.5 338.4,104.0C341.1,111.5 343.2,121.6 344.8,129.6C346.4,137.6 348.0,144.5 348.0,152.0C348.0,159.5 345.3,170.7 344.8,174.4" stroke-width="0.60"/>
<path d="M338.4,94.4C340.0,98.1 345.3,109.3 348.0,116.8C350.7,124.3 353.3,131.7 354.4,139.2C355.5,146.7 354.4,157.9 354.4,161.6" stroke-width="0.60"/>
<path d="M322.4,120.0C322.9,124.3 324.5,137.6 325.6,145.6C326.7,153.6 329.3,161.6 328.8,168.0C328.3,174.4 325.1,179.7 322.4,184.0C319.7,188.3 314.4,192.0 312.8,193.6" stroke-width="0.60"/>
<path d="M312.8,142.4C313.3,145.6 314.4,155.7 316.0,161.6C317.6,167.5 319.2,173.9 322.4,177.6C325.6,181.3 330.9,183.5 335.2,184.0C339.5,184.5 345.9,181.3 348.0,180.8" stroke-width="0.60"/>
<path d="M226.4,200.0C230.7,201.1 243.5,205.3 252.0,206.4C260.5,207.5 269.1,205.9 277.6,206.4C286.1,206.9 295.2,209.6 303.2,209.6C311.2,209.6 318.7,209.1 325.6,206.4C332.5,203.7 341.6,195.7 344.8,193.6" stroke-width="0.60"/>
<path d="M220.0,212.8C224.3,213.9 237.1,218.7 245.6,219.2C254.1,219.7 262.7,216.0 271.2,216.0C279.7,216.0 288.3,219.2 296.8,219.2C305.3,219.2 318.1,216.5 322.4,216.0" stroke-width="0.60"/>
<path d="M236.0,225.6C240.3,225.6 253.6,225.9 261.6,225.6C269.6,225.3 280.3,224.3 284.0,224.0" stroke-width="0.60"/>
<path d="M309.6,193.6C310.7,195.7 316.0,201.6 316.0,206.4C316.0,211.2 310.7,219.7 309.6,222.4" stroke-width="0.60"/>
<path d="M223.2,88.0C225.3,88.5 231.2,89.6 236.0,91.2C240.8,92.8 247.7,95.5 252.0,97.6C256.3,99.7 259.5,100.3 261.6,104.0C263.7,107.7 264.3,117.3 264.8,120.0" stroke-width="0.60"/>
<path d="M207.2,97.6C209.3,98.1 215.2,99.7 220.0,100.8C224.8,101.9 231.7,102.4 236.0,104.0C240.3,105.6 244.0,109.3 245.6,110.4" stroke-width="0.60"/>
<path d="M341.6,184.0C342.7,186.7 348.5,194.7 348.0,200.0C347.5,205.3 340.0,213.3 338.4,216.0" stroke-width="0.60"/>
<path d="M257.1,185.1C257.7,183.6 259.4,179.0 260.7,176.4C262.1,173.7 263.2,170.8 265.1,169.1C267.0,167.4 269.9,165.9 272.4,166.2C274.8,166.4 277.9,168.4 279.6,170.5C281.3,172.7 282.3,176.6 282.5,179.3C282.8,181.9 282.3,184.8 281.1,186.5C279.9,188.2 276.2,189.0 275.3,189.5" stroke-width="0.70"/>
<path d="M257.1,185.1C257.8,183.9 259.9,180.0 261.5,177.8C263.0,175.6 264.7,173.3 266.5,172.0C268.4,170.7 270.4,169.6 272.4,169.8C274.3,170.1 276.8,171.6 278.2,173.5C279.5,175.3 280.4,178.5 280.4,180.7C280.4,182.9 279.5,185.3 278.2,186.5C276.8,187.8 273.3,187.8 272.4,188.0" stroke-width="0.70"/>
<path d="M257.1,185.1C257.9,184.1 260.4,181.0 262.2,179.3C264.0,177.6 266.1,175.6 268.0,174.9C269.9,174.2 272.2,174.2 273.8,174.9C275.4,175.6 276.8,177.7 277.5,179.3C278.1,180.8 278.3,183.2 277.5,184.4C276.6,185.6 273.2,186.2 272.4,186.5" stroke-width="0.70"/>
<path d="M257.1,185.1C258.1,184.5 261.0,182.5 262.9,181.5C264.8,180.4 266.9,178.9 268.7,178.5C270.5,178.2 272.6,178.5 273.8,179.3C275.0,180.0 276.1,181.8 276.0,182.9C275.9,184.0 273.6,185.3 273.1,185.8" stroke-width="0.70"/>
<path d="M257.1,185.1C258.2,184.8 261.6,184.1 263.6,183.6C265.7,183.2 267.9,182.2 269.5,182.2C271.0,182.2 272.5,183.4 273.1,183.6" stroke-width="0.70"/>
<path d="M266.5,157.5C268.0,158.9 272.8,163.0 275.3,166.2C277.7,169.3 279.6,173.7 281.1,176.4C282.5,179.0 283.8,180.2 284.0,182.2C284.2,184.1 282.8,187.0 282.5,188.0" stroke-width="1.00"/>
<path d="M257.1,185.1C255.8,184.6 252.0,183.4 249.5,182.3C247.0,181.3 244.7,179.9 242.2,178.8C239.8,177.6 237.4,176.4 234.9,175.3C232.5,174.2 230.0,173.1 227.5,172.1C225.0,171.1 221.3,169.6 220.0,169.1" stroke-width="0.70"/>
<path d="M257.1,185.1C255.8,184.8 252.0,184.0 249.5,183.2C247.1,182.5 244.7,181.5 242.2,180.6C239.8,179.7 237.4,178.8 234.9,177.9C232.4,177.1 230.0,176.3 227.5,175.5C225.0,174.7 221.2,173.6 220.0,173.2" stroke-width="0.70"/>
<path d="M257.1,185.1C255.8,184.9 252.1,184.6 249.6,184.2C247.1,183.7 244.7,183.0 242.2,182.4C239.8,181.8 237.3,181.2 234.9,180.6C232.4,180.0 229.9,179.4 227.5,178.8C225.0,178.3 221.2,177.6 220.0,177.3" stroke-width="0.70"/>
<path d="M257.1,185.1C255.8,185.1 252.1,185.2 249.6,185.1C247.1,184.9 244.7,184.5 242.2,184.2C239.7,183.9 237.3,183.6 234.8,183.3C232.4,182.9 229.9,182.5 227.4,182.2C225.0,181.9 221.2,181.6 220.0,181.5" stroke-width="0.70"/>
<path d="M257.1,185.1C256.2,185.6 253.4,187.2 251.5,188.2C249.6,189.1 247.6,190.0 245.7,190.9C243.7,191.8 241.8,192.8 239.8,193.4C237.8,194.1 235.7,194.4 233.6,194.8C231.5,195.2 228.3,195.8 227.3,196.0" stroke-width="0.70"/>
<path d="M257.1,185.1C256.4,185.8 254.4,188.0 252.9,189.4C251.4,190.7 249.8,192.0 248.2,193.3C246.6,194.5 245.0,195.8 243.3,196.9C241.6,197.9 239.7,198.7 237.9,199.6C236.1,200.5 233.3,201.8 232.4,202.2" stroke-width="0.70"/>
<path d="M257.1,185.1C256.6,186.0 255.4,188.9 254.3,190.6C253.3,192.4 252.0,194.0 250.8,195.6C249.5,197.2 248.2,198.9 246.8,200.3C245.4,201.8 243.8,203.1 242.2,204.4C240.6,205.8 238.2,207.7 237.5,208.4" stroke-width="0.70"/>
<path d="M257.1,185.1C257.5,186.3 258.8,189.8 259.6,192.2C260.5,194.6 261.5,196.9 262.1,199.3C262.7,201.7 263.2,204.1 263.2,206.6C263.2,209.0 262.4,211.5 262.0,214.0C261.6,216.5 260.9,220.2 260.7,221.5" stroke-width="0.70"/>
<path d="M257.1,185.1C257.7,186.2 259.6,189.4 260.7,191.6C261.9,193.8 263.2,196.0 264.0,198.3C264.9,200.7 265.5,203.1 265.8,205.5C266.1,208.0 265.7,210.5 265.7,213.0C265.6,215.5 265.6,219.2 265.6,220.5" stroke-width="0.70"/>
<path d="M257.1,185.1C257.9,186.1 260.4,188.9 261.8,190.9C263.3,193.0 264.9,195.1 266.0,197.3C267.1,199.6 267.8,202.0 268.4,204.5C268.9,206.9 269.1,209.5 269.4,212.0C269.7,214.5 270.3,218.3 270.4,219.5" stroke-width="0.70"/>
<path d="M257.1,185.1C258.1,186.0 261.1,188.4 263.0,190.3C264.8,192.2 266.6,194.1 268.0,196.3C269.3,198.5 270.1,201.0 271.0,203.4C271.8,205.9 272.4,208.5 273.1,211.0C273.8,213.5 274.9,217.3 275.3,218.5" stroke-width="0.70"/>
<path d="M238.9,140.0C239.4,141.6 240.7,146.3 241.7,149.3C242.8,152.4 243.9,155.4 245.2,158.4C246.5,161.4 248.2,164.2 249.6,167.1C250.9,170.1 252.1,173.1 253.4,176.1C254.7,179.1 256.5,183.6 257.1,185.1" stroke-width="0.70"/>
<path d="M242.5,140.0C242.9,141.5 244.0,146.2 244.9,149.2C245.7,152.3 246.7,155.3 247.9,158.2C249.0,161.2 250.6,164.0 251.8,166.9C252.9,169.9 253.7,172.9 254.6,176.0C255.5,179.0 256.7,183.6 257.1,185.1" stroke-width="0.70"/>
<path d="M246.2,140.0C246.5,141.5 247.3,146.1 248.0,149.1C248.7,152.2 249.5,155.2 250.5,158.1C251.5,161.0 253.1,163.8 254.0,166.8C254.9,169.7 255.3,172.8 255.8,175.8C256.3,178.9 256.9,183.6 257.1,185.1" stroke-width="0.70"/>
<path d="M207.2,190.4C210.4,193.1 218.9,201.6 226.4,206.4C233.9,211.2 243.5,216.0 252.0,219.2C260.5,222.4 269.1,225.1 277.6,225.6C286.1,226.1 294.7,224.5 303.2,222.4C311.7,220.3 321.3,217.6 328.8,212.8C336.3,208.0 344.8,196.8 348.0,193.6" stroke-width="0.70"/>
<path d="M220.0,193.6C223.7,196.3 234.4,205.6 242.4,209.6C250.4,213.6 259.5,216.3 268.0,217.6C276.5,218.9 285.6,218.9 293.6,217.6C301.6,216.3 309.1,213.1 316.0,209.6C322.9,206.1 332.0,198.9 335.2,196.8" stroke-width="0.70"/>
<path d="M200.8,177.6C203.5,181.3 210.4,193.6 216.8,200.0C223.2,206.4 231.2,211.5 239.2,216.0C247.2,220.5 260.5,225.3 264.8,227.2" stroke-width="0.70"/>
<path d="M328.8,84.8C332.0,90.7 343.7,108.8 348.0,120.0C352.3,131.2 354.7,141.3 354.4,152.0C354.1,162.7 350.7,175.5 346.4,184.0C342.1,192.5 331.7,200.0 328.8,203.2" stroke-width="0.70"/>
<path d="M322.4,78.4C325.6,82.1 336.8,92.3 341.6,100.8C346.4,109.3 349.3,120.0 351.2,129.6C353.1,139.2 353.9,148.8 352.8,158.4C351.7,168.0 346.1,182.4 344.8,187.2" stroke-width="0.70"/></g>
<path class="ar" d="M279.2,78.3L281.2,76.3L282.0,78.2ZM267.2,95.7L266.9,92.9L268.8,93.4ZM266.0,117.5L264.6,115.1L266.5,114.7ZM279.4,134.1L276.7,133.5L277.8,131.8ZM275.9,82.2L277.0,79.7L278.4,81.1ZM269.6,103.1L268.9,100.4L270.9,100.6ZM272.8,124.5L270.7,122.6L272.5,121.7ZM290.1,137.5L287.3,137.6L288.0,135.7ZM283.4,77.8L285.2,75.7L286.1,77.4ZM274.0,96.9L273.5,94.1L275.5,94.5ZM274.4,118.7L272.9,116.4L274.8,116.0ZM288.1,135.4L285.4,134.8L286.5,133.1ZM279.6,86.3L279.5,83.5L281.4,84.2ZM277.1,108.1L276.2,105.5L278.2,105.5ZM283.9,128.6L281.6,127.1L283.2,125.9ZM284.1,81.7L284.6,78.9L286.3,80.0ZM281.0,103.4L280.1,100.7L282.1,100.8ZM285.1,124.7L283.1,122.8L284.9,122.0ZM286.1,84.5L285.7,81.8L287.6,82.2ZM285.0,106.5L283.9,103.9L285.9,103.9ZM290.5,127.5L288.4,125.7L290.1,124.7ZM288.8,90.3L287.9,87.6L289.9,87.7ZM289.4,112.2L288.1,109.8L290.1,109.5ZM296.6,132.9L294.6,131.0L296.4,130.1ZM292.2,86.1L291.2,83.5L293.2,83.5ZM293.0,108.1L291.9,105.6L293.9,105.4ZM298.1,129.4L296.2,127.3L298.1,126.6ZM295.5,87.1L294.3,84.6L296.3,84.4ZM297.1,109.0L295.9,106.5L297.9,106.4ZM301.3,130.6L299.8,128.3L301.7,127.8ZM297.1,80.1L295.0,78.3L296.7,77.4ZM300.5,101.8L299.2,99.3L301.2,99.1ZM303.1,123.6L301.6,121.2L303.6,120.9ZM301.9,85.8L300.2,83.6L302.1,83.0ZM305.0,107.6L303.8,105.1L305.8,104.9ZM306.6,129.5L305.7,126.9L307.7,126.9ZM303.5,81.3L300.9,80.1L302.4,78.7ZM308.5,102.7L307.2,100.2L309.2,100.0ZM309.8,124.6L308.7,122.0L310.7,122.0ZM302.7,78.3L299.9,77.8L300.9,76.1ZM311.7,97.6L310.2,95.3L312.2,94.8ZM313.2,119.5L312.2,116.9L314.2,116.9ZM304.0,138.5L305.2,136.0L306.6,137.5ZM307.4,79.8L304.7,79.1L305.9,77.4ZM316.1,99.6L314.6,97.2L316.5,96.8ZM316.3,121.5L315.7,118.8L317.7,119.0ZM304.1,138.8L305.5,136.4L306.7,138.0ZM281.0,70.7L283.8,70.4L283.3,72.4ZM259.3,67.3L262.0,66.6L261.8,68.6ZM237.6,69.2L239.8,67.5L240.4,69.4ZM219.0,80.8L220.3,78.4L221.6,79.9ZM279.0,72.4L281.7,71.6L281.5,73.6ZM257.1,72.5L259.6,71.3L259.7,73.3ZM236.1,78.3L237.8,76.1L238.8,77.9ZM218.8,91.9L220.1,89.4L221.4,90.9ZM301.4,72.5L299.0,73.8L298.7,71.8ZM323.3,73.3L320.5,73.7L321.0,71.7ZM342.0,84.3L339.4,83.1L340.9,81.7ZM304.5,73.7L301.8,74.6L301.9,72.6ZM323.7,83.0L321.2,81.9L322.5,80.4ZM338.7,99.1L336.3,97.6L337.9,96.4ZM346.4,119.5L344.8,117.2L346.8,116.8ZM295.2,148.8L295.8,146.1L297.5,147.2ZM290.4,170.1L289.6,167.4L291.5,167.6ZM293.9,191.7L292.3,189.4L294.3,189.0ZM298.8,151.4L298.3,148.6L300.3,149.0ZM299.3,173.3L298.0,170.8L300.0,170.6ZM305.3,194.4L303.4,192.4L305.2,191.6ZM308.2,155.7L306.1,153.8L307.9,152.9ZM318.1,175.3L316.0,173.5L317.8,172.6ZM327.9,195.0L325.9,193.1L327.6,192.2ZM290.8,143.6L293.1,142.0L293.6,143.9ZM270.1,150.9L272.1,148.9L272.9,150.7ZM232.9,110.4L230.3,111.5L230.2,109.5ZM251.0,122.1L248.6,120.8L250.1,119.5ZM232.1,116.9L229.4,117.8L229.5,115.8ZM249.7,128.3L247.4,126.6L249.1,125.5ZM244.3,105.4L241.5,105.5L242.2,103.6ZM256.7,122.1L255.4,119.6L257.3,119.4ZM248.1,98.5L245.3,98.5L246.0,96.7ZM259.6,116.3L258.2,113.9L260.1,113.6ZM252.6,92.9L249.9,93.6L250.1,91.6ZM263.2,111.3L261.8,108.8L263.8,108.5ZM260.0,132.7L260.2,129.9L262.0,130.7ZM246.5,138.8L244.5,140.8L243.7,138.9ZM261.7,137.2L259.0,137.9L259.3,135.9ZM283.6,139.2L281.0,139.9L281.1,138.0ZM269.6,141.1L266.9,141.9L267.0,139.9ZM291.6,141.3L289.0,142.4L289.0,140.4ZM263.6,144.0L260.9,144.9L261.0,142.9ZM285.5,143.4L283.0,144.6L282.9,142.6ZM258.1,147.2L255.5,148.2L255.5,146.2ZM280.1,146.2L277.6,147.5L277.4,145.5ZM251.5,157.3L249.5,155.3L251.3,154.5ZM256.0,178.8L254.6,176.3L256.6,176.0ZM244.6,160.4L242.2,159.1L243.6,157.8ZM261.8,170.1L261.8,172.9L259.9,172.2ZM278.9,158.2L276.5,159.6L276.1,157.7ZM290.5,173.6L289.2,171.2L291.2,170.9ZM284.8,194.7L284.9,191.9L286.7,192.7ZM264.9,167.8L264.2,170.5L262.6,169.4ZM284.0,167.9L281.5,166.6L283.1,165.3ZM284.4,189.6L284.1,186.8L286.0,187.3ZM261.0,176.6L260.6,179.4L258.8,178.4ZM278.0,171.6L275.4,170.5L276.8,169.1ZM278.5,193.2L278.2,190.4L280.1,190.9ZM264.2,172.9L262.5,175.0L261.5,173.3ZM274.1,187.7L273.4,185.0L275.4,185.2ZM262.7,172.3L262.3,175.1L260.6,174.1ZM280.0,161.5L277.4,162.6L277.3,160.6ZM289.0,179.6L287.8,177.1L289.8,177.0ZM260.7,176.2L260.4,179.0L258.6,178.1ZM277.1,176.4L275.3,174.3L277.2,173.6ZM274.9,197.9L274.9,195.1L276.8,195.8ZM262.9,170.2L262.7,173.0L260.9,172.1ZM277.5,154.4L275.6,156.5L274.7,154.7ZM252.8,167.1L254.5,169.3L252.6,169.8ZM243.5,178.0L246.3,178.0L245.7,179.8ZM222.0,173.6L224.7,173.1L224.4,175.1ZM245.9,184.0L248.5,183.0L248.5,185.0ZM224.0,184.5L226.3,183.0L226.8,184.9ZM243.4,194.8L245.2,192.7L246.2,194.4ZM222.9,202.7L224.9,200.8L225.7,202.6ZM253.0,197.1L252.8,194.3L254.7,194.9ZM245.1,217.6L244.9,214.8L246.8,215.4ZM257.8,197.6L256.6,195.1L258.6,194.9ZM261.6,219.3L260.0,217.0L262.0,216.5ZM263.0,199.0L260.8,197.4L262.5,196.3ZM275.2,217.2L273.2,215.3L275.0,214.4ZM251.9,192.3L252.4,189.6L254.1,190.6ZM237.1,208.5L238.3,206.0L239.7,207.4ZM194.4,124.0L193.4,121.3L195.4,121.4ZM195.4,145.9L194.1,143.4L196.1,143.2ZM200.9,166.9L198.6,165.4L200.3,164.2ZM204.4,119.5L202.0,118.0L203.5,116.8ZM218.1,136.4L215.9,134.7L217.6,133.7ZM224.4,157.1L223.7,154.4L225.7,154.6ZM197.3,123.5L196.0,121.0L198.0,120.8ZM200.5,145.3L199.1,142.8L201.0,142.5ZM207.0,166.0L204.7,164.4L206.3,163.3ZM198.4,116.5L196.6,114.4L198.5,113.8ZM204.9,137.5L203.3,135.3L205.2,134.8ZM210.9,158.7L209.2,156.5L211.2,155.9ZM203.4,121.6L201.3,119.8L203.1,118.9ZM212.8,141.5L210.9,139.5L212.7,138.7ZM217.9,162.6L217.1,160.0L219.1,160.1ZM221.8,124.8L219.4,126.3L219.1,124.3ZM243.6,121.7L241.1,123.0L240.9,121.0ZM230.3,142.9L227.7,143.9L227.8,141.9ZM211.2,100.2L208.9,101.8L208.4,99.8ZM213.2,104.1L211.0,105.9L210.4,104.0ZM232.2,93.1L230.3,95.2L229.4,93.4ZM252.5,84.6L250.4,86.5L249.7,84.6ZM205.2,92.3L204.3,94.9L202.8,93.6ZM222.9,79.5L221.1,81.6L220.2,79.8ZM243.4,71.5L241.2,73.2L240.6,71.3ZM205.1,166.7L207.8,167.2L206.8,168.9ZM206.4,176.5L208.5,174.7L209.2,176.5ZM211.2,178.7L212.2,176.1L213.7,177.4ZM201.0,197.9L200.6,195.1L202.5,195.6ZM325.5,95.4L323.5,93.4L325.3,92.6ZM332.3,116.3L330.7,114.0L332.6,113.5ZM336.8,137.8L335.4,135.4L337.3,135.0ZM338.1,159.7L337.2,157.0L339.2,157.1ZM332.2,180.7L332.6,177.9L334.4,178.9ZM336.3,98.9L334.2,97.0L336.0,96.1ZM342.8,119.9L341.2,117.6L343.1,117.1ZM347.1,141.4L345.6,139.0L347.6,138.7ZM346.8,163.3L346.2,160.6L348.2,160.9ZM345.4,110.1L343.4,108.1L345.3,107.4ZM352.6,130.9L351.0,128.7L352.9,128.1ZM354.8,152.7L353.8,150.1L355.8,150.1ZM323.8,131.0L322.4,128.6L324.4,128.3ZM326.9,152.8L325.4,150.5L327.4,150.1ZM327.4,174.5L327.1,171.7L329.1,172.2ZM314.6,192.0L315.9,189.6L317.2,191.1ZM314.3,152.7L312.9,150.3L314.9,150.0ZM320.0,173.9L318.1,171.9L319.9,171.1ZM338.2,183.9L335.6,185.0L335.5,183.0ZM240.9,204.1L238.1,204.4L238.6,202.4ZM262.6,206.7L260.1,207.8L260.0,205.8ZM284.6,207.2L281.9,207.8L282.1,205.8ZM306.4,209.6L303.8,210.6L303.8,208.6ZM327.8,205.4L325.9,207.4L325.1,205.5ZM236.2,217.6L233.4,217.9L233.9,215.9ZM257.9,217.9L255.6,219.4L255.2,217.4ZM279.7,216.8L277.0,217.4L277.3,215.4ZM301.5,219.0L299.0,220.2L298.9,218.2ZM254.6,225.7L252.0,226.7L252.0,224.7ZM276.6,224.6L274.1,225.8L273.9,223.8ZM314.8,201.8L312.6,200.0L314.4,199.0ZM236.1,91.2L233.4,91.4L233.9,89.5ZM256.4,99.7L253.7,99.4L254.5,97.6ZM224.6,101.6L221.9,102.2L222.2,100.2ZM347.3,195.3L345.4,193.3L347.2,192.5ZM339.3,214.7L340.1,212.0L341.7,213.2ZM263.0,171.9L262.6,174.6L260.9,173.7ZM280.6,172.2L278.4,170.4L280.2,169.5ZM261.4,178.0L260.8,180.7L259.1,179.6ZM278.8,174.0L276.2,173.0L277.5,171.5ZM268.3,174.7L266.7,176.9L265.6,175.2ZM273.4,179.2L270.7,179.8L271.0,177.9ZM278.2,170.8L276.0,169.0L277.7,168.0ZM243.0,179.2L245.8,179.4L244.9,181.2ZM222.9,170.2L225.7,170.3L225.0,172.1ZM246.7,182.3L249.5,182.2L248.9,184.1ZM226.0,175.0L228.8,174.8L228.2,176.7ZM240.9,182.1L243.7,181.7L243.2,183.7ZM246.7,184.8L249.4,184.1L249.2,186.1ZM224.9,181.9L227.6,181.2L227.4,183.2ZM241.7,192.7L243.7,190.7L244.5,192.6ZM250.8,191.2L252.2,188.7L253.5,190.2ZM247.7,199.3L248.7,196.7L250.2,198.0ZM260.4,194.3L258.6,192.3L260.5,191.6ZM261.7,215.8L261.1,213.1L263.1,213.4ZM263.0,195.7L260.9,193.9L262.6,193.0ZM265.6,217.3L264.7,214.7L266.7,214.7ZM264.2,194.2L261.8,192.6L263.5,191.5ZM269.8,215.2L268.5,212.7L270.5,212.5ZM267.9,196.3L265.6,194.8L267.2,193.6ZM241.8,149.6L240.0,147.4L242.0,146.8ZM250.7,169.7L248.7,167.7L250.5,166.9ZM245.7,152.0L244.0,149.8L245.9,149.2ZM253.6,172.5L251.9,170.3L253.8,169.7ZM247.8,147.9L246.2,145.6L248.2,145.2ZM254.5,168.8L252.9,166.6L254.8,166.1ZM215.3,197.7L212.7,196.7L214.0,195.2ZM233.2,210.4L230.4,210.0L231.4,208.3ZM253.1,219.6L250.4,219.6L251.1,217.8ZM274.4,225.3L271.6,225.9L271.9,223.9ZM296.2,224.0L293.9,225.5L293.5,223.5ZM317.4,218.3L315.3,220.0L314.7,218.1ZM336.0,206.8L334.8,209.3L333.4,207.9ZM230.0,201.4L227.3,200.6L228.5,199.0ZM248.9,212.5L246.1,212.4L246.9,210.6ZM270.1,217.9L267.4,218.5L267.7,216.5ZM292.1,217.8L289.6,219.1L289.4,217.2ZM312.9,211.1L311.0,213.1L310.2,211.3ZM331.5,199.4L330.0,201.8L328.8,200.1ZM205.8,185.3L203.5,183.7L205.2,182.6ZM219.4,202.5L216.8,201.4L218.2,200.0ZM237.5,215.0L234.7,214.6L235.7,212.8ZM257.4,224.2L254.6,224.2L255.4,222.3ZM336.4,97.7L334.2,96.0L336.0,95.0ZM346.8,117.1L344.8,115.2L346.6,114.3ZM353.3,138.1L351.8,135.7L353.7,135.3ZM353.7,160.0L353.0,157.3L355.0,157.5ZM347.8,181.1L347.8,178.3L349.7,179.1ZM334.3,198.2L335.5,195.7L336.9,197.2ZM330.9,87.2L328.3,86.0L329.8,84.6ZM343.7,104.9L341.7,103.0L343.5,102.2ZM350.4,125.8L348.9,123.5L350.8,123.1ZM353.3,147.6L352.2,145.1L354.2,145.0ZM350.5,169.4L350.2,166.6L352.1,167.1ZM220.3,108.7L218.1,110.4L217.6,108.4ZM281.8,59.8L279.0,60.3L279.4,58.4ZM253.3,62.4L250.8,63.6L250.6,61.6ZM275.2,64.0L272.5,64.7L272.8,62.7ZM297.1,66.3L294.4,67.3L294.5,65.3ZM334.1,107.2L332.2,105.2L334.1,104.4ZM339.6,128.5L338.1,126.2L340.1,125.7ZM342.9,150.2L341.8,147.7L343.8,147.6ZM340.3,172.0L339.9,169.3L341.8,169.7ZM243.0,172.1L240.2,172.1L241.0,170.2ZM228.1,152.2L229.5,154.5L227.6,154.9ZM290.1,188.5L290.6,191.3L288.7,190.9ZM315.1,82.5L312.6,81.2L314.1,79.9ZM323.6,102.7L321.9,100.5L323.8,99.9ZM328.0,124.2L326.6,121.8L328.5,121.5ZM331.3,146.0L330.0,143.5L331.9,143.3ZM332.2,167.9L331.5,165.2L333.5,165.4ZM307.1,167.7L305.3,165.5L307.2,164.9ZM305.0,176.1L303.5,173.8L305.5,173.4ZM238.7,83.4L236.6,85.3L235.9,83.4ZM259.7,77.0L257.3,78.5L256.9,76.5ZM294.6,165.5L293.5,162.9L295.5,162.8ZM296.8,187.4L295.4,185.0L297.4,184.6ZM226.9,130.9L224.2,131.8L224.3,129.8ZM341.3,89.3L338.8,87.9L340.3,86.6ZM352.3,108.2L350.4,106.1L352.3,105.4ZM359.0,129.1L357.4,126.8L359.3,126.3ZM264.1,90.3L264.4,93.0L262.5,92.5ZM258.6,88.4L256.1,89.7L255.9,87.7ZM308.7,147.5L310.4,149.8L308.4,150.3ZM322.8,159.0L324.2,161.4L322.2,161.7ZM319.5,137.2L320.7,139.8L318.7,139.9ZM229.9,188.9L227.4,190.0L227.3,188.0ZM191.3,151.0L189.8,148.7L191.8,148.3ZM359.1,153.4L360.0,156.1L358.0,156.0ZM258.2,164.1L256.9,161.6L258.9,161.4Z"/>
</g>
<g clip-path="url(#c2)">
<circle cx="458.00" cy="142.90" r="87.00" fill="#1bff00"/>
<path fill-rule="evenodd" fill="#51ff00" d="M460.5,227.2 452.2,227.2 444.0,226.4 435.8,224.9 428.2,222.8 420.8,219.9 414.0,216.7 406.5,212.3 399.0,206.7 390.9,198.7 387.3,194.2 383.7,188.9 378.9,179.9 375.5,171.7 372.8,162.7 371.1,154.4 370.2,145.4 370.2,137.2 371.0,128.9 372.6,120.7 375.1,112.4 378.5,104.2 382.5,96.7 387.0,89.9 392.6,83.2 398.6,77.2 405.1,71.9 412.5,67.0 420.0,63.0 427.5,60.0 435.8,57.5 444.0,55.9 452.2,55.1 461.2,55.2 469.5,56.1 477.8,57.8 486.0,60.3 493.5,63.5 501.0,67.6 507.8,72.1 514.5,77.7 520.5,83.8 525.8,90.3 530.4,97.4 534.4,104.9 537.4,112.4 539.9,120.7 541.5,128.9 542.3,137.2 542.3,145.4 541.5,153.7 539.9,161.9 537.4,170.2 533.9,178.4 529.9,185.9 525.3,192.7 519.8,199.4 513.8,205.3 507.1,210.7 500.2,215.2 492.8,219.2 485.2,222.3 477.0,224.8 468.8,226.4 460.5,227.2Z"/>
<path fill-rule="evenodd" fill="#86ff00" d="M462.0,224.9 453.0,225.0 445.5,224.4 439.1,223.4 430.2,221.2 422.2,218.3 414.1,214.4 407.2,210.2 400.5,205.1 395.2,200.2 390.0,194.2 385.5,187.7 381.6,180.7 378.6,173.9 375.8,165.5 373.5,155.6 372.7,149.2 372.3,140.9 372.7,132.7 374.2,123.7 375.8,117.4 378.8,108.9 382.5,101.2 387.0,93.7 391.6,87.7 397.1,81.7 402.8,76.4 408.8,71.9 416.2,67.4 424.0,63.7 432.5,60.7 441.8,58.5 448.5,57.6 456.8,57.2 465.0,57.7 474.2,59.2 482.4,61.4 490.2,64.4 497.7,68.2 504.8,72.6 511.4,77.9 517.5,83.8 522.7,89.9 526.5,95.2 531.0,103.0 534.0,109.5 537.0,118.2 539.2,128.2 540.0,134.9 540.2,143.2 539.6,150.7 538.5,158.2 536.2,166.6 533.2,174.7 529.5,182.2 524.3,190.4 519.8,196.1 514.5,201.7 508.5,206.9 501.1,212.2 494.5,215.9 486.0,219.7 479.2,221.9 469.5,224.1 462.0,224.9Z"/>
<path fill-rule="evenodd" fill="#bcff00" d="M465.8,221.9 457.5,222.5 450.0,222.2 441.0,221.2 434.2,219.7 426.0,217.1 418.5,213.9 411.0,209.9 404.5,205.4 399.0,200.7 393.8,195.2 389.2,189.2 385.5,183.0 382.2,176.2 379.4,168.7 377.2,161.2 375.7,152.9 375.0,145.4 375.0,137.3 375.8,129.5 377.2,121.9 379.5,114.3 382.5,106.9 386.2,99.8 390.8,92.9 396.0,86.6 401.7,80.9 408.0,75.7 414.9,71.2 422.0,67.4 429.4,64.4 437.0,62.2 444.8,60.6 452.6,59.9 459.9,59.9 467.9,60.7 475.6,62.2 483.1,64.4 490.5,67.4 498.9,71.9 505.5,76.4 511.7,81.7 517.5,87.6 522.8,94.3 526.5,100.2 530.2,107.4 533.2,115.0 535.5,122.8 537.0,131.2 537.5,139.4 537.3,146.9 536.3,155.9 534.8,162.5 532.5,169.5 528.8,178.0 524.2,185.8 520.4,191.2 515.3,197.2 510.6,201.7 504.1,206.9 497.2,211.4 490.0,215.2 482.5,218.2 474.6,220.4 465.8,221.9Z"/>
<path fill-rule="evenodd" fill="#f2ff00" d="M460.5,218.9 451.5,218.9 444.0,218.2 436.5,216.7 429.0,214.6 421.5,211.8 414.8,208.6 408.3,204.7 402.8,200.4 397.9,195.7 393.6,190.4 389.7,184.4 386.6,178.4 383.8,171.7 381.4,164.2 379.5,155.2 378.7,148.4 378.4,140.9 378.8,133.7 380.2,124.4 381.8,118.6 384.0,112.2 387.8,104.2 391.5,98.0 395.2,92.8 399.8,87.6 405.2,82.4 411.0,77.8 419.2,72.7 427.3,68.9 433.7,66.7 443.2,64.4 449.2,63.6 456.8,63.4 463.6,63.7 473.1,65.2 478.8,66.7 485.3,68.9 491.8,71.9 499.5,76.4 505.5,80.9 511.3,86.2 516.8,92.2 521.2,98.3 525.8,106.1 529.5,114.7 531.8,122.1 533.2,129.6 534.0,136.4 534.0,145.4 533.2,152.7 531.8,160.2 530.2,165.3 527.3,173.2 524.2,179.2 520.5,185.2 515.2,192.0 509.5,197.9 503.3,203.2 498.0,206.9 489.8,211.4 482.6,214.4 475.3,216.7 467.9,218.2 460.5,218.9Z"/>
<path fill-rule="evenodd" fill="#ffd700" d="M464.2,212.9 456.0,213.4 448.5,213.1 441.0,212.2 433.5,210.6 426.0,208.4 418.5,205.5 412.5,202.4 407.2,198.9 402.8,195.1 399.0,190.9 395.4,185.9 392.6,180.7 390.0,174.7 387.8,167.9 385.9,160.4 384.7,152.9 384.0,144.7 384.0,138.7 384.7,131.2 386.2,123.5 388.5,116.2 390.8,110.8 393.8,104.9 398.2,98.2 402.8,92.7 408.6,86.9 413.3,83.2 420.0,78.7 426.0,75.6 433.5,72.7 438.8,71.1 446.2,69.6 453.8,69.0 459.8,69.1 466.2,69.7 474.0,71.2 481.2,73.4 488.2,76.4 494.9,80.2 500.3,83.9 504.8,87.7 510.0,92.9 513.8,97.5 518.3,104.2 522.0,111.3 525.0,119.1 526.5,124.4 528.0,133.0 528.4,140.9 528.0,149.2 527.2,154.4 525.8,160.7 523.5,167.4 520.5,174.1 516.8,180.6 512.9,185.9 507.8,191.8 502.7,196.4 497.9,200.2 492.0,203.9 484.5,207.6 478.3,209.9 469.5,212.2 464.2,212.9Z"/>
<path fill-rule="evenodd" fill="#ffa100" d="M461.2,205.4 454.5,205.7 447.0,205.4 439.5,204.5 431.2,202.9 424.5,201.0 418.5,198.8 413.8,196.4 409.4,193.4 405.8,190.1 402.8,186.7 400.0,182.2 397.9,177.7 396.0,172.4 394.2,165.7 392.9,158.2 392.0,150.7 391.7,143.2 392.0,135.7 393.0,129.0 394.5,122.9 396.6,116.9 399.0,111.7 402.1,106.4 405.8,101.2 410.2,96.1 415.4,91.4 420.5,87.7 425.4,84.7 431.7,81.7 438.0,79.4 444.3,77.9 450.8,77.0 456.8,76.8 463.5,77.2 471.0,78.5 476.8,80.2 482.5,82.4 488.2,85.3 493.1,88.4 498.0,92.1 502.8,96.7 507.0,101.6 510.8,106.9 513.8,112.2 516.0,117.2 518.2,123.8 519.7,130.4 520.5,136.4 520.6,143.2 520.1,149.2 519.0,155.6 517.5,161.2 515.2,166.9 512.2,172.9 509.2,177.7 504.8,183.5 500.3,188.2 495.8,192.0 490.5,195.7 485.2,198.6 480.0,201.0 473.7,203.2 467.2,204.6 461.2,205.4Z"/>
<path fill-rule="evenodd" fill="#ff6b00" d="M463.5,196.5 452.2,197.1 445.5,196.8 438.0,195.8 431.2,194.6 426.0,193.2 420.8,191.2 417.0,189.3 414.0,187.2 411.0,184.4 408.6,181.4 406.5,177.8 404.8,173.9 403.5,169.8 401.3,158.9 400.5,151.4 400.2,144.7 400.5,137.9 401.2,132.1 401.7,131.2 402.8,125.8 403.2,125.2 404.2,121.3 404.8,120.7 406.5,116.3 409.5,111.1 411.8,107.9 413.7,105.7 414.0,104.9 417.0,101.9 420.1,98.9 420.8,98.6 423.0,96.7 426.2,94.4 431.4,91.4 435.8,89.8 436.5,89.2 438.0,88.9 438.8,88.4 440.2,88.2 441.0,87.7 443.2,87.4 444.0,86.9 447.0,86.6 447.8,86.1 456.8,85.8 464.5,86.2 465.8,86.7 468.8,86.9 469.5,87.5 474.0,88.4 474.8,89.0 475.8,89.2 479.4,90.7 483.8,92.9 484.5,93.5 485.3,93.7 486.8,94.9 487.5,95.2 489.0,96.5 490.5,97.4 495.7,101.9 500.2,107.1 501.1,108.7 502.5,110.2 502.6,110.9 504.8,113.9 504.9,114.7 505.5,115.4 506.4,117.7 507.0,118.4 507.9,121.4 508.5,122.1 508.7,123.7 509.2,124.3 509.4,125.9 510.0,126.7 510.2,128.9 510.8,130.0 511.1,133.4 511.5,134.3 511.5,147.8 511.0,149.2 510.8,152.3 510.1,153.7 510.0,155.3 509.4,156.7 509.3,158.2 508.7,158.9 508.5,160.4 507.9,161.2 507.8,162.0 506.3,164.9 506.2,165.7 505.6,166.4 505.5,167.2 503.4,170.2 503.2,170.9 499.5,176.2 491.3,184.4 486.0,188.2 485.2,188.3 482.3,190.4 481.5,190.5 480.8,191.2 476.2,192.8 475.5,193.4 474.0,193.6 473.3,194.2 471.8,194.3 470.8,194.9 468.8,195.2 467.9,195.7 465.0,196.0 463.5,196.5Z"/>
<path fill-rule="evenodd" fill="#ff3600" d="M441.0,151.0 440.2,151.0 439.5,150.3 438.8,150.3 437.2,148.8 436.5,148.8 435.8,148.0 435.0,148.0 433.1,146.2 433.1,145.4 432.4,144.7 432.4,140.9 431.7,140.2 431.7,136.4 430.9,135.7 430.9,134.2 431.2,133.8 438.0,133.8 438.8,133.0 450.8,133.0 451.2,133.4 451.2,134.9 450.4,135.7 450.4,136.4 449.7,137.2 449.7,138.7 448.9,139.4 448.9,140.9 446.7,143.2 446.7,143.9 444.4,146.2 444.4,146.9 442.1,149.2 442.1,149.9 441.0,151.0ZM461.2,180.9 453.8,180.9 453.4,180.7 453.4,173.9 453.8,173.6 461.2,173.6 461.6,173.9 461.5,180.7 461.2,180.9Z"/>
<g class="fl"><path d="M413.1,99.5 422.2,89.4 430.7,82.1 433.6,80.7 436.7,79.9 448.6,78.6 453.4,78.8 458.9,79.8 464.3,81.3 467.8,83.1 469.6,84.6 472.5,88.4 475.7,94.0 477.7,98.3"/>
<path d="M421.1,94.6 427.9,90.4 436.2,87.6 448.1,86.0 452.1,86.0 456.9,86.6"/>
<path d="M458.8,85.1 465.7,87.2 470.6,89.7"/>
<path d="M384.8,98.2 391.6,96.0 402.7,94.4"/>
<path d="M392.0,88.5 397.5,87.5 398.6,86.3 403.0,76.9"/>
<path d="M406.0,90.5 414.5,72.4 418.6,66.6"/>
<path d="M492.1,127.2 498.7,130.1 508.5,133.3 510.7,135.6 513.1,141.5 514.7,144.3 519.0,149.1"/>
<path d="M496.9,131.7 504.6,138.7 511.9,143.6"/>
<path d="M508.0,128.0 511.3,130.1 513.7,133.4 514.9,136.3 516.5,142.5"/>
<path d="M454.2,141.9 467.3,130.2 469.7,127.0 471.5,123.4"/>
<path d="M415.1,129.3 417.3,133.6 420.4,142.7"/>
<path d="M411.6,125.1 416.2,126.3 419.5,128.5 421.6,131.9 425.9,141.3 427.2,143.4 430.0,146.2"/>
<path d="M412.4,129.4 416.4,145.7"/>
<path d="M454.1,133.2 458.5,124.7 460.4,122.1 463.3,120.7 469.6,119.6"/>
<path d="M485.9,100.4 488.5,92.9 490.5,89.5 492.3,87.9 496.8,86.2 502.3,85.0 507.8,85.2 513.2,86.9 519.5,90.4 523.1,93.5 526.7,97.8 529.3,101.8 532.6,108.2 535.6,116.5 537.7,124.2 539.2,133.7 539.2,139.3"/>
<path d="M394.1,171.1 399.4,172.9 402.6,173.3 405.6,172.4 415.3,168.7 426.3,166.2 428.5,165.3 430.4,163.9 432.4,161.4 435.9,156.1"/>
<path d="M400.2,169.2 411.2,166.9 415.9,166.3"/>
<path d="M449.2,147.7 455.8,144.7 468.7,140.6"/>
<path d="M474.8,106.8 480.7,114.4 484.3,117.6"/>
<path d="M486.6,111.2 497.8,111.7 501.6,113.0 505.3,116.0 511.8,124.1"/>
<path d="M491.8,115.0 496.6,115.5 499.7,116.4 502.4,118.0 506.8,121.5"/>
<path d="M491.1,119.8 499.9,120.5 503.0,121.2"/>
<path d="M466.6,187.6 477.5,185.1 484.2,182.5 494.2,176.0 505.5,167.0"/>
<path d="M453.9,185.1 467.4,183.8 478.4,181.4 486.5,178.0 495.3,172.6"/>
<path d="M452.5,189.1 464.3,187.2"/>
<path d="M452.6,176.0 463.7,175.1 476.3,172.6 488.5,168.9 508.0,161.6"/>
<path d="M413.8,185.2 417.0,185.3 420.9,186.3 427.7,188.7 430.6,189.9 433.8,192.4"/>
<path d="M451.4,166.4 485.7,162.8 500.7,160.8"/>
<path d="M451.9,169.7 469.3,167.6 488.3,164.5"/>
<path d="M440.1,207.5 451.2,208.6 459.2,208.4 463.9,207.4 472.2,204.6 477.3,202.2 480.4,199.8"/>
<path d="M374.8,138.1 380.2,139.5 389.8,143.5 404.5,151.6"/>
<path d="M428.6,77.9 430.3,76.3 433.2,74.8 444.6,71.3 455.6,69.1 464.4,68.6"/>
<path d="M414.3,151.2 417.4,150.4 424.0,147.4 427.1,147.1"/>
<path d="M506.2,186.2 510.6,182.8 519.1,174.3 523.3,169.5 525.5,165.3"/>
<path d="M407.7,164.8 414.8,163.8 423.6,163.4 427.5,162.5 429.7,161.5"/>
<path d="M397.4,131.3 399.8,131.4 402.7,132.7 405.6,136.6 407.8,140.8"/>
<path d="M445.8,97.8 446.8,113.8 445.9,126.5"/>
<path d="M391.8,135.3 395.5,136.8 399.5,139.4 402.4,142.1 408.6,149.4 412.0,151.4"/>
<path d="M494.5,204.9 496.9,205.0 498.4,204.5 503.9,201.3 507.6,199.7"/>
<path d="M534.9,156.5 539.6,152.2 543.7,147.3"/></g>
<g class="sl"><path d="M409.4,104.0C410.1,101.9 411.8,95.2 413.4,91.2C415.0,87.2 417.3,83.5 419.0,80.0C420.7,76.5 421.1,72.7 423.8,70.4C426.5,68.1 431.3,67.6 435.0,66.4C438.7,65.2 441.9,64.1 446.2,63.2C450.5,62.3 458.2,61.2 460.6,60.8" stroke-width="0.70"/>
<path d="M374.2,126.4C375.3,123.7 377.7,114.1 380.6,110.4C383.5,106.7 388.1,105.2 391.8,104.0C395.5,102.8 400.1,103.2 403.0,103.2C405.9,103.2 408.3,103.9 409.4,104.0" stroke-width="0.70"/>
<path d="M409.4,104.0C411.0,103.2 415.5,101.1 419.0,99.2C422.5,97.3 426.7,94.3 430.2,92.8C433.7,91.3 436.3,90.9 439.8,90.4C443.3,89.9 447.5,89.6 451.0,89.6C454.5,89.6 459.0,90.3 460.6,90.4" stroke-width="0.70"/>
<path d="M423.8,113.6C424.6,112.5 426.7,109.6 428.6,107.2C430.5,104.8 432.6,101.3 435.0,99.2C437.4,97.1 439.8,95.5 443.0,94.4C446.2,93.3 451.3,92.9 454.2,92.8C457.1,92.7 459.5,93.5 460.6,93.6" stroke-width="1.10"/>
<path d="M419.0,108.8C419.2,110.4 419.8,115.4 420.4,118.6C421.0,121.9 421.6,125.2 422.7,128.3C423.7,131.4 425.1,134.4 426.6,137.3C428.2,140.2 429.7,143.3 431.9,145.7C434.1,148.1 438.6,150.5 440.0,151.5" stroke-width="0.70"/>
<path d="M424.9,106.4C425.1,108.1 425.7,113.3 426.2,116.7C426.8,120.1 427.3,123.5 428.1,126.8C428.9,130.1 429.9,133.2 431.0,136.3C432.1,139.4 433.2,142.7 434.7,145.3C436.2,147.8 439.1,150.5 440.0,151.5" stroke-width="0.70"/>
<path d="M430.7,104.0C431.0,105.8 431.6,111.1 432.1,114.7C432.5,118.2 432.9,121.8 433.5,125.3C434.0,128.7 434.7,132.1 435.4,135.3C436.1,138.6 436.8,142.1 437.5,144.8C438.3,147.5 439.6,150.4 440.0,151.5" stroke-width="0.70"/>
<path d="M436.6,101.6C436.8,103.5 437.5,109.0 437.9,112.7C438.3,116.4 438.5,120.1 438.8,123.8C439.1,127.4 439.5,130.9 439.8,134.4C440.0,137.8 440.3,141.5 440.3,144.4C440.3,147.3 440.0,150.3 440.0,151.5" stroke-width="0.70"/>
<path d="M442.5,99.2C442.7,101.1 443.5,106.9 443.8,110.7C444.1,114.6 444.2,118.5 444.2,122.2C444.3,126.0 444.4,129.8 444.2,133.4C444.0,137.0 443.8,141.0 443.1,144.0C442.4,147.0 440.5,150.3 440.0,151.5" stroke-width="0.70"/>
<path d="M448.3,96.8C448.5,98.8 449.4,104.8 449.6,108.8C449.8,112.8 449.8,116.8 449.6,120.7C449.4,124.7 449.2,128.6 448.6,132.4C447.9,136.2 447.3,140.4 445.9,143.5C444.5,146.7 441.0,150.2 440.0,151.5" stroke-width="0.70"/>
<path d="M454.2,94.4C454.4,96.5 455.3,102.7 455.4,106.8C455.6,110.9 455.4,115.1 455.0,119.2C454.6,123.3 454.0,127.4 453.0,131.4C451.9,135.4 450.9,139.8 448.7,143.1C446.5,146.5 441.4,150.1 440.0,151.5" stroke-width="0.70"/>
<path d="M374.2,124.8C375.6,123.7 379.9,120.2 382.9,118.3C385.9,116.4 389.0,114.5 392.4,113.2C395.7,111.9 399.2,110.9 402.7,110.4C406.2,109.9 410.0,109.9 413.6,110.4C417.1,110.9 422.1,113.1 423.8,113.6" stroke-width="0.70"/>
<path d="M378.5,126.9C379.8,126.0 383.9,123.1 386.7,121.5C389.6,119.9 392.5,118.4 395.6,117.2C398.7,116.1 401.9,115.1 405.1,114.7C408.3,114.2 411.8,114.1 415.1,114.7C418.3,115.2 422.8,117.3 424.3,117.9" stroke-width="0.70"/>
<path d="M382.7,129.1C384.0,128.3 387.9,126.1 390.6,124.8C393.3,123.5 396.0,122.2 398.8,121.3C401.7,120.3 404.6,119.3 407.5,118.9C410.5,118.5 413.7,118.4 416.5,118.9C419.4,119.5 423.5,121.6 424.9,122.1" stroke-width="0.70"/>
<path d="M387.0,131.2C388.2,130.7 391.9,129.0 394.5,128.0C397.0,127.0 399.5,126.1 402.1,125.3C404.7,124.5 407.3,123.5 409.9,123.2C412.6,122.9 415.5,122.7 418.0,123.2C420.6,123.7 424.2,125.9 425.4,126.4" stroke-width="0.70"/>
<path d="M403.0,108.8C403.5,110.7 405.1,116.0 406.2,120.0C407.3,124.0 408.6,128.5 409.4,132.8C410.2,137.1 410.7,143.5 411.0,145.6" stroke-width="0.70"/>
<path d="M387.0,129.6C388.3,130.1 392.3,131.5 395.0,132.8C397.7,134.1 400.6,135.5 403.0,137.6C405.4,139.7 408.3,144.3 409.4,145.6" stroke-width="0.70"/>
<path d="M472.4,59.2C472.8,60.8 474.0,65.6 474.8,68.8C475.5,72.0 476.2,75.2 476.9,78.4C477.6,81.7 478.2,84.9 478.8,88.1C479.5,91.4 480.0,94.6 480.8,97.8C481.6,101.0 483.1,105.6 483.6,107.2" stroke-width="0.70"/>
<path d="M476.2,59.2C476.4,60.8 477.1,65.6 477.5,68.8C477.9,72.0 478.3,75.2 478.7,78.4C479.1,81.6 479.4,84.8 479.8,88.1C480.3,91.3 480.7,94.6 481.4,97.7C482.0,100.9 483.2,105.6 483.6,107.2" stroke-width="0.70"/>
<path d="M480.0,59.2C480.0,60.8 480.2,65.6 480.2,68.7C480.3,71.9 480.4,75.1 480.5,78.3C480.6,81.5 480.6,84.8 480.8,88.0C481.1,91.2 481.5,94.5 482.0,97.7C482.4,100.9 483.3,105.6 483.6,107.2" stroke-width="0.70"/>
<path d="M483.8,59.2C483.7,60.8 483.2,65.5 483.0,68.7C482.7,71.9 482.4,75.1 482.2,78.3C482.0,81.5 481.8,84.7 481.8,87.9C481.9,91.1 482.3,94.4 482.6,97.6C482.9,100.8 483.4,105.6 483.6,107.2" stroke-width="0.70"/>
<path d="M487.6,59.2C487.3,60.8 486.3,65.5 485.7,68.7C485.1,71.9 484.5,75.0 484.0,78.2C483.5,81.4 483.0,84.6 482.8,87.8C482.7,91.1 483.0,94.3 483.2,97.5C483.3,100.7 483.5,105.6 483.6,107.2" stroke-width="0.70"/>
<path d="M458.0,88.0C459.1,88.4 462.3,89.2 464.3,90.1C466.3,91.0 468.3,92.0 470.1,93.2C471.9,94.4 473.8,95.7 475.3,97.3C476.7,99.0 477.4,101.3 478.8,103.0C480.2,104.6 482.8,106.5 483.6,107.2" stroke-width="0.70"/>
<path d="M458.0,90.7C459.0,91.0 462.1,92.0 464.1,92.8C466.0,93.7 467.9,94.6 469.7,95.8C471.5,96.9 473.3,98.1 474.8,99.6C476.3,101.0 477.1,103.4 478.6,104.7C480.1,106.0 482.8,106.8 483.6,107.2" stroke-width="0.70"/>
<path d="M458.0,93.3C459.0,93.7 461.9,94.7 463.8,95.5C465.7,96.3 467.5,97.3 469.3,98.3C471.0,99.4 472.9,100.4 474.4,101.8C475.9,103.1 476.8,105.5 478.4,106.4C479.9,107.3 482.7,107.1 483.6,107.2" stroke-width="0.70"/>
<path d="M458.0,96.0C458.9,96.4 461.7,97.4 463.5,98.2C465.3,99.0 467.1,99.9 468.8,100.9C470.6,101.9 472.4,102.8 473.9,104.0C475.5,105.2 476.6,107.6 478.2,108.2C479.8,108.7 482.7,107.4 483.6,107.2" stroke-width="0.70"/>
<path d="M483.6,107.2C484.9,105.4 488.0,98.9 491.4,96.3C494.8,93.7 499.7,91.6 504.0,91.5C508.2,91.3 513.2,93.0 516.9,95.4C520.6,97.7 523.6,101.9 526.1,105.7C528.6,109.5 530.4,114.0 531.9,118.3C533.4,122.7 534.4,127.4 534.8,131.9C535.2,136.5 536.4,142.1 534.5,145.9C532.6,149.6 525.4,153.2 523.6,154.7" stroke-width="0.70"/>
<path d="M483.6,107.2C484.9,105.7 488.2,100.3 491.5,98.0C494.8,95.8 499.5,93.9 503.5,93.9C507.5,93.9 512.1,95.7 515.5,98.0C519.0,100.4 521.7,104.3 524.1,107.9C526.4,111.6 528.2,115.8 529.6,119.9C531.0,124.1 532.0,128.5 532.5,132.8C533.0,137.1 534.0,142.3 532.5,145.9C531.0,149.6 525.1,153.3 523.6,154.7" stroke-width="0.70"/>
<path d="M483.6,107.2C484.9,106.0 488.4,101.6 491.6,99.8C494.9,98.0 499.2,96.2 503.0,96.4C506.7,96.5 511.0,98.4 514.2,100.7C517.3,103.0 519.9,106.7 522.1,110.2C524.3,113.6 526.0,117.6 527.3,121.5C528.6,125.4 529.6,129.5 530.1,133.6C530.7,137.7 531.6,142.5 530.5,146.0C529.5,149.5 524.8,153.3 523.6,154.7" stroke-width="0.70"/>
<path d="M483.6,107.2C485.0,106.2 488.6,102.9 491.7,101.5C494.9,100.1 499.0,98.5 502.5,98.9C506.0,99.2 509.9,101.1 512.8,103.4C515.7,105.6 518.1,109.1 520.1,112.4C522.2,115.7 523.7,119.4 525.0,123.1C526.3,126.8 527.2,130.6 527.8,134.5C528.4,138.3 529.3,142.7 528.6,146.1C527.9,149.5 524.4,153.3 523.6,154.7" stroke-width="0.70"/>
<path d="M483.6,107.2C485.0,106.5 488.8,104.2 491.9,103.2C494.9,102.2 498.7,100.8 502.0,101.3C505.2,101.8 508.7,103.8 511.4,106.0C514.1,108.2 516.3,111.5 518.2,114.6C520.0,117.8 521.5,121.2 522.7,124.7C523.9,128.1 524.8,131.7 525.5,135.3C526.1,138.9 526.9,142.9 526.6,146.2C526.3,149.4 524.1,153.3 523.6,154.7" stroke-width="0.70"/>
<path d="M483.6,107.2C485.0,106.8 489.0,105.5 492.0,104.9C494.9,104.4 498.5,103.1 501.5,103.8C504.5,104.4 507.6,106.5 510.1,108.7C512.5,110.9 514.5,114.0 516.2,116.9C517.9,119.8 519.2,123.1 520.4,126.3C521.5,129.5 522.4,132.8 523.1,136.2C523.8,139.5 524.5,143.1 524.6,146.2C524.7,149.3 523.8,153.3 523.6,154.7" stroke-width="0.70"/>
<path d="M483.6,107.2C485.0,107.1 489.2,106.8 492.1,106.6C495.0,106.5 498.2,105.5 501.0,106.2C503.8,107.0 506.5,109.2 508.7,111.3C510.9,113.5 512.7,116.4 514.2,119.1C515.8,121.9 517.0,124.9 518.1,127.9C519.2,130.8 520.0,133.9 520.8,137.0C521.6,140.1 522.2,143.4 522.6,146.3C523.1,149.3 523.4,153.3 523.6,154.7" stroke-width="0.70"/>
<path d="M483.6,107.2C485.0,107.4 489.4,108.1 492.2,108.4C495.0,108.6 498.0,107.8 500.5,108.7C503.0,109.6 505.4,111.9 507.3,114.0C509.3,116.1 510.8,118.8 512.2,121.4C513.6,123.9 514.7,126.7 515.8,129.5C516.8,132.2 517.6,135.0 518.5,137.8C519.3,140.7 519.8,143.6 520.7,146.4C521.5,149.2 523.1,153.3 523.6,154.7" stroke-width="0.70"/>
<path d="M490.0,80.0C491.6,79.5 496.4,77.3 499.6,76.8C502.8,76.3 506.0,76.0 509.2,76.8C512.4,77.6 515.9,79.7 518.8,81.6C521.7,83.5 524.1,84.8 526.8,88.0C529.5,91.2 532.7,96.0 534.8,100.8C536.9,105.6 538.8,114.1 539.6,116.8" stroke-width="0.70"/>
<path d="M458.0,59.2C460.7,59.3 468.7,59.5 474.0,60.0C479.3,60.5 485.2,60.9 490.0,62.4C494.8,63.9 500.7,67.7 502.8,68.8" stroke-width="0.70"/>
<path d="M458.0,97.6C460.2,98.7 468.4,100.5 471.0,104.0C473.6,107.5 473.6,113.6 473.8,118.5C474.1,123.4 471.7,128.8 472.6,133.5C473.6,138.1 475.7,143.4 479.3,146.2C482.8,149.0 489.0,149.0 493.9,150.2C498.7,151.5 503.6,153.0 508.5,153.8C513.5,154.5 521.1,154.6 523.6,154.7" stroke-width="0.70"/>
<path d="M458.0,101.3C460.1,102.2 467.9,103.4 470.7,106.4C473.5,109.3 474.1,114.5 474.9,118.8C475.6,123.2 474.1,128.3 475.3,132.6C476.5,136.9 478.6,141.8 482.0,144.6C485.4,147.5 490.9,147.9 495.4,149.4C500.0,150.9 504.5,152.6 509.2,153.5C513.9,154.4 521.2,154.5 523.6,154.7" stroke-width="0.70"/>
<path d="M458.0,105.1C460.1,105.7 467.5,106.4 470.4,108.7C473.4,111.1 474.6,115.4 475.9,119.2C477.1,123.0 476.4,127.7 477.9,131.7C479.4,135.7 481.5,140.3 484.7,143.1C487.9,145.9 492.8,146.9 497.0,148.6C501.2,150.2 505.4,152.2 509.8,153.2C514.3,154.2 521.3,154.5 523.6,154.7" stroke-width="0.70"/>
<path d="M458.0,108.8C460.0,109.2 467.0,109.3 470.1,111.1C473.3,112.9 475.2,116.3 476.9,119.5C478.6,122.8 478.8,127.1 480.6,130.8C482.3,134.4 484.4,138.8 487.4,141.6C490.4,144.4 494.7,145.8 498.6,147.7C502.4,149.6 506.3,151.7 510.5,152.9C514.7,154.1 521.4,154.4 523.6,154.7" stroke-width="0.70"/>
<path d="M458.0,112.5C460.0,112.7 466.5,112.3 469.9,113.5C473.2,114.8 475.7,117.2 477.9,119.9C480.1,122.6 481.2,126.5 483.2,129.9C485.2,133.2 487.3,137.2 490.1,140.1C493.0,142.9 496.7,144.8 500.2,146.9C503.7,149.0 507.3,151.3 511.2,152.6C515.1,153.9 521.5,154.4 523.6,154.7" stroke-width="0.70"/>
<path d="M458.0,116.3C459.9,116.2 466.1,115.3 469.6,115.9C473.1,116.6 476.2,118.1 478.9,120.2C481.7,122.4 483.5,125.9 485.8,129.0C488.1,132.0 490.2,135.7 492.8,138.5C495.5,141.4 498.6,143.7 501.8,146.0C504.9,148.3 508.2,150.9 511.8,152.3C515.5,153.8 521.6,154.3 523.6,154.7" stroke-width="0.70"/>
<path d="M458.0,120.0C459.9,119.7 465.6,118.2 469.3,118.3C473.0,118.4 476.8,119.0 480.0,120.6C483.2,122.2 485.9,125.3 488.5,128.1C491.1,130.8 493.1,134.1 495.6,137.0C498.0,139.9 500.5,142.7 503.3,145.2C506.2,147.7 509.1,150.4 512.5,152.0C515.9,153.6 521.7,154.3 523.6,154.7" stroke-width="0.70"/>
<circle cx="483.6" cy="107.2" r="1.60" fill="#1a1a00" stroke="none"/>
<path d="M439.8,151.6C440.1,154.0 441.4,160.9 441.4,166.0C441.4,171.1 440.3,176.7 439.8,182.0C439.3,187.3 438.9,193.5 438.2,198.0C437.5,202.5 436.2,207.3 435.8,209.2" stroke-width="1.30"/>
<path d="M439.8,151.6C439.3,153.2 437.6,157.9 436.6,161.1C435.6,164.3 434.5,167.5 433.8,170.7C433.1,174.0 432.1,177.2 432.3,180.4C432.5,183.7 434.0,186.9 435.0,190.1C436.0,193.3 437.7,198.0 438.2,199.6" stroke-width="0.70"/>
<path d="M439.8,151.6C439.5,153.2 438.7,157.9 438.1,161.2C437.6,164.4 436.9,167.6 436.4,170.9C435.9,174.2 435.2,177.5 435.4,180.8C435.5,184.1 436.7,187.4 437.3,190.6C437.9,193.9 438.9,198.6 439.2,200.2" stroke-width="0.70"/>
<path d="M439.8,151.6C439.8,153.2 439.8,158.0 439.6,161.2C439.5,164.5 439.2,167.7 439.0,171.1C438.8,174.4 438.4,177.8 438.5,181.1C438.6,184.5 439.3,187.9 439.6,191.2C439.9,194.4 440.0,199.3 440.1,200.9" stroke-width="0.70"/>
<path d="M439.8,151.6C440.0,153.2 440.8,158.0 441.1,161.3C441.4,164.5 441.5,167.9 441.6,171.2C441.7,174.6 441.5,178.1 441.6,181.5C441.6,184.9 442.0,188.4 441.9,191.7C441.8,195.0 441.2,199.9 441.1,201.5" stroke-width="0.70"/>
<path d="M439.8,151.6C440.3,153.2 441.9,158.0 442.6,161.3C443.4,164.6 443.8,168.0 444.2,171.4C444.5,174.8 444.7,178.4 444.7,181.8C444.7,185.3 444.6,188.8 444.2,192.2C443.7,195.6 442.4,200.5 442.0,202.2" stroke-width="0.70"/>
<path d="M439.8,151.6C440.5,153.2 443.0,158.0 444.1,161.4C445.3,164.7 446.1,168.1 446.8,171.6C447.4,175.0 447.8,178.6 447.8,182.2C447.7,185.7 447.3,189.3 446.5,192.8C445.7,196.2 443.6,201.1 443.0,202.8" stroke-width="0.70"/>
<path d="M380.6,148.4C381.8,148.8 385.5,150.0 387.9,150.8C390.4,151.7 392.8,152.4 395.2,153.3C397.7,154.1 400.0,155.2 402.5,156.0C404.9,156.8 407.3,157.7 409.8,158.3C412.3,158.9 416.1,159.4 417.4,159.6" stroke-width="0.70"/>
<path d="M381.4,152.0C382.6,152.3 386.2,153.2 388.6,153.7C391.0,154.3 393.4,154.9 395.8,155.5C398.1,156.1 400.5,156.8 402.8,157.3C405.2,157.9 407.6,158.5 410.0,158.9C412.4,159.2 416.2,159.5 417.4,159.6" stroke-width="0.70"/>
<path d="M382.2,155.6C383.4,155.8 386.9,156.3 389.2,156.7C391.6,157.0 393.9,157.4 396.3,157.7C398.6,158.0 400.9,158.4 403.2,158.7C405.6,159.0 407.9,159.2 410.2,159.4C412.6,159.5 416.2,159.6 417.4,159.6" stroke-width="0.70"/>
<path d="M383.0,159.2C384.1,159.3 387.6,159.4 389.9,159.6C392.2,159.7 394.5,159.8 396.8,159.9C399.1,160.0 401.3,160.0 403.6,160.0C405.9,160.0 408.2,160.0 410.5,159.9C412.8,159.8 416.2,159.7 417.4,159.6" stroke-width="0.70"/>
<path d="M383.8,162.8C384.9,162.7 388.3,162.6 390.5,162.5C392.8,162.4 395.1,162.3 397.3,162.1C399.5,161.9 401.8,161.7 404.0,161.4C406.2,161.1 408.5,160.7 410.7,160.4C412.9,160.1 416.3,159.7 417.4,159.6" stroke-width="0.70"/>
<path d="M439.8,151.6C437.7,152.4 430.7,155.1 427.0,156.4C423.3,157.7 419.0,159.1 417.4,159.6" stroke-width="0.70"/>
<path d="M439.8,151.6C437.9,152.9 431.5,158.0 428.6,159.6C425.7,161.2 424.1,161.2 422.2,161.2C420.3,161.2 418.2,159.9 417.4,159.6" stroke-width="0.70"/>
<path d="M406.2,186.8C409.7,188.0 420.0,192.3 427.0,194.0C434.1,195.6 441.4,196.7 448.5,196.5C455.7,196.2 463.1,194.5 469.9,192.2C476.8,190.0 483.5,186.8 489.7,183.0C495.8,179.2 501.3,174.0 506.9,169.3C512.5,164.6 520.7,157.2 523.5,154.8" stroke-width="0.70"/>
<path d="M406.2,186.8C409.6,188.1 419.8,192.8 426.9,194.5C433.9,196.2 441.3,197.5 448.5,197.2C455.7,197.0 463.1,195.2 470.0,193.0C476.9,190.7 483.6,187.5 489.8,183.6C496.0,179.7 501.5,174.5 507.1,169.7C512.7,164.9 520.7,157.4 523.5,154.9" stroke-width="0.70"/>
<path d="M406.2,186.8C409.6,188.2 419.7,193.2 426.7,195.1C433.8,196.9 441.2,198.2 448.4,198.0C455.7,197.7 463.1,196.0 470.1,193.7C477.0,191.4 483.7,188.1 489.9,184.2C496.1,180.3 501.7,175.0 507.2,170.2C512.8,165.3 520.8,157.5 523.5,155.0" stroke-width="0.70"/>
<path d="M406.2,186.8C409.6,188.3 419.6,193.6 426.6,195.6C433.6,197.6 441.1,198.9 448.4,198.7C455.6,198.5 463.2,196.8 470.1,194.4C477.1,192.1 483.8,188.7 490.0,184.8C496.3,180.8 501.9,175.6 507.4,170.6C513.0,165.7 520.8,157.7 523.5,155.1" stroke-width="0.70"/>
<path d="M406.2,186.8C409.6,188.4 419.4,194.1 426.4,196.2C433.5,198.3 441.0,199.6 448.3,199.5C455.6,199.3 463.2,197.5 470.2,195.2C477.2,192.8 483.9,189.4 490.2,185.3C496.4,181.3 502.1,176.1 507.6,171.1C513.2,166.0 520.8,157.8 523.5,155.2" stroke-width="0.70"/>
<path d="M406.2,186.8C409.5,188.5 419.3,194.5 426.3,196.7C433.3,199.0 440.9,200.4 448.3,200.2C455.6,200.1 463.2,198.3 470.2,195.9C477.2,193.5 484.0,190.0 490.3,185.9C496.5,181.9 502.3,176.6 507.8,171.5C513.3,166.4 520.9,158.0 523.5,155.2" stroke-width="0.70"/>
<path d="M406.2,186.8C409.5,188.5 419.1,194.9 426.2,197.3C433.2,199.6 440.9,201.1 448.2,201.0C455.6,200.9 463.3,199.1 470.3,196.7C477.3,194.3 484.1,190.6 490.4,186.5C496.7,182.4 502.4,177.1 508.0,172.0C513.5,166.8 520.9,158.1 523.5,155.3" stroke-width="0.70"/>
<path d="M406.2,186.8C409.5,188.6 419.0,195.3 426.0,197.8C433.0,200.3 440.8,201.8 448.2,201.7C455.6,201.7 463.3,199.9 470.4,197.4C477.4,195.0 484.2,191.3 490.5,187.1C496.8,182.9 502.6,177.7 508.1,172.4C513.6,167.1 520.9,158.3 523.5,155.4" stroke-width="0.70"/>
<path d="M406.2,186.8C409.5,188.7 418.9,195.8 425.9,198.4C432.8,201.0 440.7,202.5 448.1,202.5C455.5,202.5 463.3,200.6 470.4,198.2C477.5,195.7 484.3,191.9 490.7,187.7C497.0,183.5 502.8,178.2 508.3,172.8C513.8,167.5 521.0,158.4 523.5,155.5" stroke-width="0.70"/>
<path d="M406.2,186.8C409.5,188.8 418.7,196.2 425.7,198.9C432.7,201.7 440.6,203.3 448.1,203.2C455.5,203.2 463.4,201.4 470.5,198.9C477.6,196.4 484.4,192.5 490.8,188.3C497.1,184.0 503.0,178.7 508.5,173.3C513.9,167.8 521.0,158.5 523.5,155.6" stroke-width="0.70"/>
<path d="M406.2,186.8C407.9,189.0 412.5,196.4 416.6,200.2C420.7,203.9 425.8,206.8 430.9,209.1C436.0,211.3 441.6,212.4 447.1,213.5C452.7,214.7 458.3,215.3 463.9,215.8C469.5,216.4 475.3,217.5 480.8,217.0C486.4,216.6 492.1,215.2 497.2,212.9C502.2,210.7 507.0,207.2 511.0,203.4C515.1,199.5 519.7,192.2 521.4,190.0" stroke-width="0.70"/>
<path d="M406.2,186.8C407.8,189.1 412.0,197.0 416.0,200.9C420.0,204.8 425.1,207.9 430.3,210.3C435.4,212.6 441.2,213.7 446.9,214.9C452.5,216.0 458.3,216.6 464.0,217.2C469.7,217.8 475.6,218.9 481.3,218.4C486.9,217.9 492.8,216.5 497.9,214.2C503.1,211.9 508.0,208.3 512.1,204.4C516.2,200.5 520.8,193.0 522.5,190.7" stroke-width="0.70"/>
<path d="M406.2,186.8C407.7,189.3 411.4,197.5 415.4,201.6C419.3,205.7 424.5,209.0 429.7,211.4C434.9,213.9 440.9,215.0 446.6,216.2C452.3,217.4 458.2,218.0 464.1,218.6C469.9,219.2 475.9,220.3 481.7,219.8C487.4,219.3 493.4,217.9 498.7,215.5C503.9,213.1 508.9,209.5 513.1,205.5C517.3,201.4 521.9,193.7 523.7,191.4" stroke-width="0.70"/>
<path d="M406.2,186.8C407.6,189.4 410.9,198.0 414.8,202.3C418.6,206.6 423.9,210.1 429.1,212.6C434.4,215.2 440.5,216.4 446.3,217.6C452.1,218.8 458.2,219.4 464.1,220.0C470.1,220.6 476.2,221.7 482.1,221.2C488.0,220.6 494.1,219.2 499.4,216.8C504.8,214.3 509.9,210.6 514.1,206.5C518.4,202.4 523.0,194.5 524.8,192.1" stroke-width="0.70"/>
<path d="M406.2,186.8C407.5,189.5 410.4,198.5 414.1,203.0C417.9,207.5 423.2,211.2 428.5,213.8C433.9,216.5 440.1,217.7 446.0,218.9C452.0,220.2 458.1,220.7 464.2,221.3C470.3,221.9 476.5,223.1 482.5,222.5C488.5,222.0 494.7,220.5 500.2,218.0C505.6,215.5 510.9,211.8 515.2,207.5C519.5,203.3 524.2,195.2 526.0,192.7" stroke-width="0.70"/>
<path d="M406.2,186.8C407.4,189.6 409.9,199.0 413.5,203.7C417.2,208.4 422.6,212.3 428.0,215.0C433.3,217.8 439.7,219.0 445.8,220.3C451.8,221.6 458.1,222.1 464.3,222.7C470.5,223.3 476.8,224.5 482.9,223.9C489.0,223.3 495.4,221.8 500.9,219.3C506.5,216.7 511.9,212.9 516.2,208.6C520.6,204.3 525.3,196.0 527.1,193.4" stroke-width="0.70"/>
<path d="M406.2,186.8C407.3,189.7 409.4,199.6 412.9,204.5C416.5,209.4 421.9,213.4 427.4,216.2C432.8,219.1 439.3,220.3 445.5,221.6C451.6,223.0 458.0,223.5 464.3,224.1C470.6,224.7 477.1,225.8 483.3,225.3C489.5,224.7 496.0,223.2 501.7,220.6C507.4,217.9 512.8,214.0 517.3,209.6C521.7,205.2 526.4,196.7 528.3,194.1" stroke-width="0.70"/>
<path d="M406.2,186.8C407.2,189.9 408.9,200.1 412.3,205.2C415.8,210.3 421.3,214.5 426.8,217.4C432.3,220.4 438.9,221.7 445.2,223.0C451.5,224.3 458.0,224.9 464.4,225.5C470.8,226.1 477.4,227.2 483.7,226.6C490.1,226.0 496.7,224.5 502.5,221.8C508.2,219.2 513.8,215.2 518.3,210.7C522.8,206.2 527.5,197.4 529.4,194.8" stroke-width="0.70"/>
<path d="M406.2,186.8C408.8,185.5 416.0,180.4 421.5,179.3C427.1,178.2 433.5,180.0 439.5,180.4C445.5,180.8 451.6,182.0 457.5,181.8C463.5,181.5 469.5,180.4 475.2,178.9C481.0,177.3 486.5,174.9 491.9,172.4C497.4,169.9 502.6,166.8 507.9,163.9C513.1,161.0 520.9,156.3 523.5,154.8" stroke-width="0.70"/>
<path d="M407.0,182.8C409.6,181.6 417.1,177.3 422.5,175.8C427.9,174.3 433.8,174.2 439.5,173.7C445.3,173.2 451.1,173.3 456.9,172.7C462.6,172.1 468.4,171.1 474.1,169.9C479.8,168.8 485.3,167.2 490.9,165.6C496.4,163.9 501.8,162.0 507.2,160.2C512.7,158.4 520.8,155.6 523.5,154.6" stroke-width="0.70"/>
<path d="M407.8,178.8C410.4,177.7 418.2,174.3 423.5,172.3C428.8,170.3 434.1,168.4 439.6,167.0C445.0,165.5 450.6,164.6 456.2,163.6C461.8,162.6 467.4,161.8 473.0,161.0C478.6,160.2 484.2,159.5 489.8,158.7C495.4,157.9 501.0,157.2 506.6,156.5C512.2,155.7 520.7,154.8 523.5,154.5" stroke-width="0.70"/>
<path d="M390.2,180.4C391.0,182.0 392.9,186.3 395.0,190.0C397.1,193.7 400.9,198.8 403.0,202.8C405.1,206.8 405.9,210.8 407.8,214.0C409.7,217.2 413.1,220.7 414.2,222.0" stroke-width="0.70"/>
<path d="M379.0,150.0C380.3,152.7 384.3,161.2 387.0,166.0C389.7,170.8 391.8,175.3 395.0,178.8C398.2,182.3 404.3,185.5 406.2,186.8" stroke-width="0.70"/>
<path d="M406.2,186.8C406.5,189.5 406.7,198.3 407.8,202.8C408.9,207.3 410.7,210.8 412.6,214.0C414.5,217.2 415.8,219.9 419.0,222.0C422.2,224.1 429.7,226.0 431.8,226.8" stroke-width="0.70"/>
<path d="M380.6,174.0C381.4,176.7 383.3,184.7 385.4,190.0C387.5,195.3 390.5,201.5 393.4,206.0C396.3,210.5 399.8,214.0 403.0,217.2C406.2,220.4 411.0,223.9 412.6,225.2" stroke-width="0.70"/>
<path d="M458.0,148.4C460.2,148.6 466.7,149.3 471.1,149.7C475.5,150.1 479.9,150.6 484.2,151.0C488.6,151.5 493.0,151.9 497.4,152.3C501.7,152.8 506.1,153.2 510.5,153.6C514.8,154.0 521.4,154.6 523.6,154.8" stroke-width="0.70"/>
<path d="M458.0,152.1C460.2,152.3 466.8,152.9 471.1,153.2C475.5,153.5 479.9,153.8 484.3,154.0C488.7,154.2 493.0,154.3 497.4,154.4C501.8,154.5 506.1,154.5 510.5,154.6C514.9,154.7 521.4,154.8 523.6,154.8" stroke-width="0.70"/>
<path d="M458.0,155.9C460.2,156.0 466.8,156.6 471.2,156.7C475.5,156.9 479.9,157.0 484.3,156.9C488.7,156.9 493.1,156.7 497.4,156.4C501.8,156.2 506.1,155.9 510.5,155.6C514.9,155.3 521.4,154.9 523.6,154.8" stroke-width="0.70"/>
<path d="M458.0,159.6C460.2,159.7 466.8,160.2 471.2,160.3C475.6,160.3 480.0,160.2 484.4,159.9C488.7,159.6 493.1,159.0 497.5,158.5C501.8,157.9 506.2,157.2 510.5,156.6C514.9,156.0 521.4,155.1 523.6,154.8" stroke-width="0.70"/>
<path d="M523.6,154.8C522.0,155.9 516.7,158.8 514.0,161.2C511.3,163.6 509.7,166.5 507.6,169.2C505.5,171.9 503.9,174.3 501.2,177.2C498.5,180.1 494.8,184.7 491.6,186.8C488.4,188.9 485.5,188.9 482.0,190.0C478.5,191.1 474.8,192.1 470.8,193.2C466.8,194.3 460.1,195.9 458.0,196.4" stroke-width="1.20"/>
<path d="M458.0,190.0C459.4,189.9 463.8,189.4 466.7,189.1C469.6,188.8 472.5,188.6 475.4,188.3C478.3,188.0 481.3,187.9 484.1,187.4C486.9,186.9 489.7,186.4 492.3,185.2C494.9,184.1 498.4,181.2 499.6,180.4" stroke-width="0.70"/>
<path d="M458.0,193.2C459.4,192.9 463.5,192.2 466.2,191.7C469.0,191.2 471.7,190.7 474.5,190.2C477.2,189.8 480.0,189.4 482.7,188.8C485.4,188.2 488.2,187.6 490.7,186.6C493.3,185.5 496.8,183.1 498.0,182.4" stroke-width="0.70"/>
<path d="M458.0,196.4C459.3,196.0 463.2,195.0 465.8,194.3C468.4,193.6 471.0,192.9 473.6,192.2C476.2,191.5 478.8,191.0 481.4,190.2C484.0,189.5 486.6,188.8 489.1,187.9C491.6,186.9 495.2,185.0 496.4,184.4" stroke-width="0.70"/>
<path d="M458.0,199.6C459.2,199.1 462.8,197.7 465.3,196.8C467.7,195.9 470.2,195.1 472.6,194.2C475.1,193.3 477.6,192.5 480.0,191.6C482.5,190.8 485.0,190.1 487.5,189.2C489.9,188.3 493.6,186.9 494.8,186.4" stroke-width="0.70"/>
<path d="M458.0,202.8C459.1,202.2 462.5,200.5 464.8,199.4C467.1,198.3 469.4,197.2 471.7,196.2C474.0,195.1 476.3,194.0 478.7,193.1C481.1,192.1 483.4,191.3 485.9,190.5C488.3,189.7 492.0,188.7 493.2,188.4" stroke-width="0.70"/>
<path d="M496.4,188.4C498.0,189.5 502.8,193.2 506.0,194.8C509.2,196.4 512.4,198.8 515.6,198.0C518.8,197.2 522.3,193.5 525.2,190.0C528.1,186.5 531.1,181.2 533.2,177.2C535.3,173.2 537.2,167.9 538.0,166.0" stroke-width="0.70"/>
<path d="M482.0,194.8C483.3,197.2 487.1,206.3 490.0,209.2C492.9,212.1 496.1,212.9 499.6,212.4C503.1,211.9 507.6,208.4 510.8,206.0C514.0,203.6 517.5,199.3 518.8,198.0" stroke-width="0.70"/>
<path d="M464.4,222.0C466.0,221.2 471.1,219.9 474.0,217.2C476.9,214.5 479.3,209.7 482.0,206.0C484.7,202.3 488.7,196.7 490.0,194.8" stroke-width="0.70"/>
<path d="M523.6,154.8C524.7,154.3 527.9,152.9 530.0,151.6C532.1,150.3 534.5,148.4 536.4,146.8C538.3,145.2 540.4,142.8 541.2,142.0" stroke-width="0.70"/>
<path d="M523.6,154.8C524.7,155.9 528.1,158.0 530.0,161.2C531.9,164.4 533.7,169.7 534.8,174.0C535.9,178.3 536.7,182.5 536.4,186.8C536.1,191.1 533.7,197.5 533.2,199.6" stroke-width="0.70"/>
<path d="M506.0,214.0C507.6,213.2 512.4,211.1 515.6,209.2C518.8,207.3 522.5,205.2 525.2,202.8C527.9,200.4 530.5,196.1 531.6,194.8" stroke-width="0.70"/>
<path d="M439.8,151.0C442.7,150.5 450.2,148.9 457.4,147.8C464.6,146.7 475.0,144.6 483.0,144.6C491.0,144.6 499.0,146.2 505.4,147.8C511.8,149.4 518.7,153.1 521.4,154.2" stroke-width="0.70"/>
<path d="M439.8,151.0C443.3,151.5 452.9,153.1 460.6,154.2C468.3,155.3 478.2,156.9 486.2,157.4C494.2,157.9 502.7,157.9 508.6,157.4C514.5,156.9 519.3,154.7 521.4,154.2" stroke-width="0.70"/>
<path d="M439.8,151.0C442.7,149.4 451.3,145.1 457.4,141.4C463.5,137.7 469.7,131.3 476.6,128.6C483.5,125.9 492.1,125.4 499.0,125.4C505.9,125.4 515.0,128.1 518.2,128.6" stroke-width="0.70"/>
<path d="M439.8,151.0C442.2,148.3 449.1,139.8 454.2,135.0C459.3,130.2 464.9,124.9 470.2,122.2C475.5,119.5 484.1,121.1 486.2,119.0C488.3,116.9 483.5,111.0 483.0,109.4" stroke-width="0.70"/>
<path d="M439.8,151.0C437.9,151.5 432.6,153.1 428.6,154.2C424.6,155.3 417.9,156.9 415.8,157.4" stroke-width="0.70"/>
<path d="M439.8,151.0C438.5,150.5 434.7,147.8 431.8,147.8C428.9,147.8 424.9,149.4 422.2,151.0C419.5,152.6 416.9,156.3 415.8,157.4" stroke-width="0.70"/>
<path d="M439.8,151.0C439.5,148.3 438.7,140.3 438.2,135.0C437.7,129.7 437.7,123.8 436.6,119.0C435.5,114.2 433.1,109.4 431.8,106.2C430.5,103.0 429.1,100.9 428.6,99.8" stroke-width="0.70"/>
<path d="M439.8,151.0C440.1,148.3 440.9,140.3 441.4,135.0C441.9,129.7 443.0,124.3 443.0,119.0C443.0,113.7 442.2,107.3 441.4,103.0C440.6,98.7 438.7,95.0 438.2,93.4" stroke-width="0.70"/>
<path d="M439.8,151.0C440.6,148.3 443.0,140.3 444.6,135.0C446.2,129.7 448.3,124.3 449.4,119.0C450.5,113.7 450.7,107.3 451.0,103.0C451.3,98.7 451.0,95.0 451.0,93.4" stroke-width="0.70"/>
<path d="M439.8,151.0C441.1,148.9 445.1,143.0 447.8,138.2C450.5,133.4 453.7,127.5 455.8,122.2C457.9,116.9 459.3,111.0 460.6,106.2C461.9,101.4 463.3,95.5 463.8,93.4" stroke-width="0.70"/>
<path d="M439.8,151.0C439.0,149.4 436.6,145.7 435.0,141.4C433.4,137.1 431.8,130.2 430.2,125.4C428.6,120.6 426.7,116.3 425.4,112.6C424.1,108.9 422.7,104.6 422.2,103.0" stroke-width="0.70"/>
<path d="M415.8,157.4C414.2,156.3 409.4,153.7 406.2,151.0C403.0,148.3 400.3,144.1 396.6,141.4C392.9,138.7 385.9,136.1 383.8,135.0" stroke-width="0.70"/>
<path d="M415.8,157.4C413.7,157.4 407.3,157.9 403.0,157.4C398.7,156.9 394.5,155.3 390.2,154.2C385.9,153.1 379.5,151.5 377.4,151.0" stroke-width="0.70"/>
<path d="M415.8,157.4C414.2,158.5 409.9,162.2 406.2,163.8C402.5,165.4 397.7,165.9 393.4,167.0C389.1,168.1 382.7,169.7 380.6,170.2" stroke-width="0.70"/></g>
<path class="ar" d="M412.5,93.6L412.7,96.3L410.8,95.7ZM421.5,73.5L421.6,76.3L419.7,75.6ZM440.9,64.5L438.7,66.3L438.1,64.4ZM377.9,115.7L377.8,118.5L376.0,117.8ZM394.7,103.4L392.3,104.9L391.9,103.0ZM424.4,96.0L422.7,98.2L421.6,96.5ZM445.2,89.8L442.7,91.0L442.5,89.0ZM429.2,106.4L428.5,109.0L426.9,107.8ZM446.3,93.6L444.0,95.2L443.5,93.2ZM421.3,123.2L419.8,120.9L421.8,120.5ZM430.0,143.3L427.8,141.6L429.5,140.6ZM427.1,122.3L425.7,119.9L427.7,119.6ZM433.6,143.3L431.7,141.2L433.6,140.5ZM432.0,114.0L430.7,111.6L432.7,111.3ZM435.5,135.7L434.0,133.4L435.9,133.0ZM437.6,110.2L436.3,107.7L438.3,107.5ZM439.6,132.1L438.4,129.6L440.4,129.4ZM443.7,110.2L442.5,107.7L444.5,107.5ZM444.2,132.2L443.3,129.5L445.3,129.6ZM449.7,112.0L448.6,109.4L450.6,109.4ZM448.3,133.9L447.8,131.2L449.7,131.5ZM455.5,108.5L454.4,106.0L456.4,105.9ZM453.3,130.4L452.8,127.6L454.7,128.0ZM442.8,149.1L444.1,146.7L445.4,148.2ZM381.9,119.0L380.3,121.3L379.2,119.6ZM402.0,110.5L399.6,111.9L399.3,110.0ZM389.3,120.1L387.5,122.3L386.5,120.5ZM410.3,114.3L407.7,115.4L407.7,113.4ZM396.5,122.1L394.5,124.1L393.7,122.2ZM417.9,119.1L415.3,119.8L415.5,117.8ZM398.7,126.4L396.6,128.2L396.0,126.3ZM420.1,123.9L417.3,124.0L418.0,122.1ZM407.1,123.2L405.4,121.0L407.4,120.5ZM403.6,138.0L400.9,137.3L402.1,135.7ZM476.0,74.3L474.5,72.0L476.5,71.6ZM480.3,95.9L478.8,93.5L480.8,93.2ZM477.9,71.4L476.5,69.0L478.5,68.7ZM480.6,93.3L479.2,90.8L481.2,90.5ZM480.3,69.3L479.2,66.7L481.2,66.7ZM481.1,91.3L479.9,88.8L481.9,88.6ZM482.8,71.0L482.0,68.3L484.0,68.5ZM482.1,92.9L480.9,90.4L482.9,90.3ZM485.0,72.6L484.5,69.9L486.4,70.2ZM483.0,94.4L481.9,91.9L483.9,91.8ZM473.9,95.8L471.2,95.2L472.3,93.5ZM472.8,97.8L470.1,97.2L471.2,95.6ZM468.5,97.9L465.8,97.6L466.8,95.8ZM474.2,104.1L471.5,103.7L472.5,101.9ZM491.2,96.5L490.1,99.0L488.7,97.6ZM511.9,92.9L509.1,93.1L509.7,91.2ZM527.4,107.9L525.2,106.1L526.9,105.1ZM534.4,128.6L533.0,126.2L534.9,125.9ZM531.5,149.3L532.7,146.8L534.1,148.2ZM494.5,96.2L492.8,98.4L491.8,96.7ZM515.4,97.9L512.6,97.4L513.7,95.7ZM528.0,115.6L526.0,113.7L527.9,112.8ZM533.0,137.0L531.7,134.5L533.7,134.3ZM490.1,100.7L488.9,103.2L487.5,101.7ZM510.8,98.7L508.1,98.5L508.9,96.7ZM524.8,115.2L522.8,113.3L524.5,112.4ZM530.5,136.3L529.2,133.9L531.1,133.6ZM491.1,101.9L489.3,104.1L488.3,102.3ZM511.7,102.6L509.0,102.0L510.1,100.3ZM524.0,120.5L522.1,118.4L524.0,117.7ZM528.9,141.9L527.5,139.4L529.5,139.2ZM492.8,102.8L490.8,104.7L490.1,102.9ZM512.9,107.4L510.3,106.3L511.7,104.9ZM523.3,126.6L521.5,124.4L523.4,123.8ZM526.1,148.2L525.7,145.4L527.7,145.9ZM500.9,103.8L498.3,104.7L498.4,102.7ZM516.8,117.9L514.6,116.2L516.3,115.2ZM523.7,138.7L522.2,136.4L524.1,136.0ZM499.0,105.9L496.6,107.1L496.4,105.1ZM514.8,120.1L512.6,118.4L514.3,117.4ZM521.7,141.0L520.1,138.6L522.1,138.2ZM500.8,108.8L498.1,109.3L498.5,107.3ZM514.3,125.7L512.3,123.7L514.2,122.9ZM520.8,146.7L519.1,144.4L521.0,143.9ZM504.6,76.4L502.0,77.4L501.9,75.4ZM524.2,85.3L521.5,84.5L522.8,82.9ZM535.9,103.7L534.1,101.7L535.9,100.9ZM470.5,59.7L467.8,60.6L468.0,58.6ZM492.1,63.2L489.3,63.2L490.0,61.3ZM470.3,103.3L467.7,102.3L469.1,100.8ZM473.3,124.5L472.7,121.8L474.6,122.1ZM478.0,145.1L475.7,143.7L477.3,142.5ZM498.8,151.6L496.1,151.8L496.6,149.9ZM520.5,154.6L517.9,155.5L518.0,153.5ZM471.3,106.8L468.6,106.1L469.8,104.5ZM474.8,128.3L473.9,125.6L475.9,125.7ZM485.2,146.4L482.4,146.3L483.2,144.5ZM506.2,152.8L503.4,153.1L504.0,151.2ZM473.2,112.2L471.0,110.5L472.8,109.5ZM478.6,133.4L476.7,131.3L478.6,130.6ZM494.1,147.5L491.3,147.6L491.9,145.7ZM515.0,154.0L512.3,154.7L512.6,152.7ZM470.5,111.3L467.8,111.3L468.5,109.4ZM480.4,130.5L478.6,128.4L480.5,127.7ZM494.9,146.1L492.2,145.8L493.0,144.0ZM515.4,153.8L512.7,154.4L513.0,152.4ZM474.9,116.6L472.2,115.9L473.4,114.2ZM486.4,135.2L484.2,133.5L485.9,132.5ZM503.3,148.8L500.6,148.3L501.6,146.6ZM472.7,116.7L469.9,117.0L470.4,115.1ZM487.9,131.9L485.6,130.4L487.2,129.2ZM503.4,147.3L500.7,146.5L501.9,144.9ZM475.0,118.9L472.3,119.5L472.5,117.5ZM491.8,132.2L489.5,130.7L491.1,129.5ZM506.8,148.2L504.2,147.3L505.5,145.8ZM441.4,165.0L440.3,162.4L442.3,162.4ZM439.3,186.9L438.6,184.2L440.6,184.4ZM434.9,166.5L434.8,163.7L436.7,164.3ZM434.3,187.9L432.5,185.8L434.4,185.1ZM437.8,163.2L437.2,160.4L439.2,160.8ZM436.0,184.9L434.5,182.6L436.5,182.2ZM439.4,165.4L438.5,162.7L440.5,162.8ZM439.1,187.3L437.8,184.9L439.8,184.6ZM441.2,161.9L439.9,159.4L441.9,159.2ZM441.7,183.9L440.6,181.3L442.6,181.3ZM442.4,160.4L440.8,158.1L442.7,157.6ZM444.7,182.2L443.6,179.6L445.6,179.6ZM443.3,159.3L441.4,157.3L443.2,156.5ZM447.8,180.7L446.6,178.2L448.6,178.1ZM395.5,153.4L392.8,153.5L393.4,151.6ZM394.1,155.1L391.3,155.4L391.8,153.5ZM415.6,159.4L412.9,160.2L413.1,158.2ZM399.9,158.2L397.2,158.9L397.5,156.9ZM400.2,160.0L397.6,160.9L397.6,158.9ZM396.1,162.2L393.5,163.3L393.4,161.3ZM422.2,158.0L424.4,156.3L425.0,158.2ZM427.9,160.0L429.6,157.8L430.7,159.5ZM421.7,192.4L418.9,192.6L419.5,190.7ZM443.2,196.4L440.6,197.2L440.7,195.3ZM465.0,193.7L462.7,195.3L462.2,193.4ZM485.3,185.5L483.5,187.6L482.6,185.9ZM503.0,172.6L501.7,175.0L500.4,173.5ZM519.7,158.2L518.4,160.6L517.1,159.1ZM417.8,191.5L415.0,191.5L415.7,189.6ZM439.1,196.8L436.4,197.4L436.6,195.5ZM460.9,195.5L458.6,197.0L458.2,195.1ZM481.6,188.2L479.7,190.2L478.8,188.4ZM499.9,176.0L498.5,178.4L497.2,176.9ZM516.4,161.4L515.1,163.9L513.8,162.5ZM415.5,190.9L412.7,190.8L413.5,189.0ZM436.5,197.2L433.8,197.7L434.2,195.7ZM458.4,196.8L456.0,198.2L455.7,196.3ZM479.3,190.0L477.3,192.0L476.5,190.2ZM497.9,178.3L496.5,180.7L495.2,179.2ZM514.3,163.7L513.1,166.2L511.7,164.8ZM415.2,191.1L412.4,190.9L413.2,189.1ZM436.0,197.8L433.3,198.3L433.7,196.3ZM457.9,197.7L455.5,199.1L455.2,197.1ZM478.8,191.0L476.8,192.9L476.0,191.1ZM497.4,179.4L496.0,181.8L494.8,180.2ZM513.8,164.7L512.6,167.2L511.2,165.7ZM415.1,191.4L412.4,191.1L413.3,189.3ZM435.9,198.5L433.1,198.9L433.5,197.0ZM457.7,198.5L455.3,199.9L455.0,197.9ZM478.6,191.8L476.7,193.8L475.8,191.9ZM497.2,180.2L495.8,182.6L494.6,181.0ZM513.5,165.4L512.4,167.9L511.0,166.5ZM419.1,193.7L416.4,193.5L417.3,191.7ZM440.2,199.8L437.4,200.4L437.7,198.4ZM462.0,198.3L459.7,199.9L459.2,197.9ZM482.5,190.5L480.7,192.6L479.7,190.9ZM500.5,178.0L499.2,180.5L497.9,179.0ZM516.4,162.8L515.3,165.4L513.9,164.0ZM414.2,191.5L411.5,191.0L412.5,189.3ZM434.5,199.6L431.8,200.0L432.2,198.0ZM456.4,200.2L454.0,201.6L453.7,199.6ZM477.4,193.8L475.4,195.8L474.6,193.9ZM496.1,182.4L494.7,184.8L493.4,183.2ZM512.4,167.6L511.2,170.1L509.8,168.7ZM413.2,191.2L410.5,190.6L411.5,188.9ZM433.2,200.0L430.5,200.3L431.0,198.4ZM455.1,201.2L452.6,202.5L452.4,200.5ZM476.1,195.1L474.2,197.1L473.4,195.2ZM495.0,183.9L493.5,186.2L492.3,184.6ZM511.3,169.2L510.2,171.7L508.8,170.3ZM420.7,196.0L418.0,195.6L418.9,193.8ZM441.7,202.2L439.0,202.8L439.3,200.8ZM463.5,200.3L461.2,201.9L460.7,199.9ZM483.8,192.0L482.0,194.1L481.0,192.3ZM501.6,179.1L500.3,181.6L499.0,180.1ZM516.9,163.3L516.0,166.0L514.5,164.7ZM413.7,192.0L411.0,191.4L412.1,189.7ZM433.4,201.4L430.6,201.7L431.2,199.7ZM455.2,202.7L452.8,204.0L452.6,202.0ZM476.3,196.5L474.3,198.5L473.5,196.7ZM495.1,185.2L493.6,187.5L492.4,185.9ZM511.3,170.3L510.3,172.9L508.8,171.6ZM413.8,197.3L411.4,195.9L413.0,194.6ZM431.9,209.5L429.1,209.3L430.0,207.5ZM453.3,214.6L450.5,215.2L450.9,213.2ZM475.1,217.1L472.5,217.9L472.6,215.9ZM496.6,213.2L494.6,215.1L493.8,213.3ZM514.0,200.1L513.1,202.7L511.6,201.4ZM413.5,198.0L411.1,196.6L412.7,195.4ZM431.2,210.7L428.4,210.5L429.3,208.7ZM452.6,215.9L449.8,216.5L450.2,214.5ZM474.4,218.4L471.7,219.1L471.9,217.1ZM496.0,215.0L493.9,216.9L493.2,215.0ZM513.9,202.5L512.8,205.1L511.4,203.7ZM413.7,199.6L411.4,198.0L413.0,196.9ZM431.5,212.2L428.7,212.1L429.5,210.3ZM452.8,217.3L450.1,217.9L450.4,215.9ZM474.7,219.8L472.0,220.5L472.2,218.5ZM496.3,216.5L494.1,218.3L493.5,216.4ZM514.3,204.2L513.2,206.8L511.8,205.4ZM412.3,198.9L410.1,197.1L411.9,196.2ZM429.1,212.6L426.4,212.4L427.3,210.6ZM450.3,218.3L447.6,218.9L447.9,216.9ZM472.2,220.9L469.5,221.6L469.7,219.6ZM493.9,218.8L491.7,220.5L491.1,218.6ZM512.7,207.8L511.4,210.3L510.1,208.8ZM414.3,203.2L411.9,201.7L413.6,200.5ZM432.3,215.4L429.5,215.4L430.2,213.6ZM453.7,220.2L451.0,220.8L451.3,218.9ZM475.6,222.5L472.9,223.3L473.1,221.3ZM497.2,219.3L495.0,221.0L494.4,219.1ZM515.5,207.3L514.3,209.8L512.9,208.3ZM412.3,201.9L410.2,200.0L412.0,199.1ZM429.1,215.7L426.3,215.3L427.3,213.5ZM450.4,221.1L447.6,221.7L448.0,219.7ZM472.2,223.6L469.5,224.3L469.8,222.3ZM494.0,221.8L491.7,223.5L491.2,221.5ZM513.2,211.4L511.8,213.8L510.5,212.2ZM410.7,200.4L408.8,198.4L410.7,197.6ZM426.1,215.6L423.4,215.1L424.4,213.4ZM447.1,222.0L444.3,222.4L444.7,220.5ZM468.9,224.6L466.2,225.3L466.4,223.3ZM490.8,224.1L488.4,225.6L488.0,223.6ZM510.7,215.2L509.1,217.5L508.0,215.9ZM525.2,198.9L524.6,201.6L523.0,200.5ZM410.2,201.1L408.4,198.9L410.3,198.3ZM425.2,216.6L422.5,216.0L423.6,214.4ZM446.1,223.2L443.4,223.6L443.8,221.7ZM467.9,225.8L465.3,226.6L465.5,224.6ZM489.8,225.8L487.4,227.2L487.1,225.2ZM510.0,217.5L508.4,219.8L507.3,218.1ZM525.1,201.7L524.5,204.4L522.8,203.3ZM418.2,180.4L416.1,182.3L415.4,180.4ZM439.9,180.4L437.2,181.2L437.4,179.2ZM461.8,181.4L459.3,182.7L459.1,180.7ZM483.1,176.2L481.0,178.1L480.3,176.2ZM502.9,166.7L501.1,168.8L500.2,167.1ZM522.0,155.7L520.2,157.9L519.2,156.1ZM424.1,175.4L421.8,177.0L421.3,175.1ZM445.9,173.3L443.4,174.4L443.3,172.4ZM467.8,171.2L465.4,172.6L465.1,170.6ZM489.2,166.1L487.0,167.7L486.4,165.8ZM510.1,159.2L508.0,161.0L507.3,159.1ZM417.5,174.7L415.5,176.6L414.7,174.8ZM438.2,167.3L436.0,169.0L435.4,167.1ZM459.8,163.0L457.4,164.4L457.0,162.4ZM481.5,159.8L479.1,161.2L478.8,159.2ZM503.3,156.9L500.9,158.2L500.6,156.2ZM397.6,194.1L395.3,192.5L397.0,191.4ZM407.6,213.6L405.5,211.8L407.3,210.9ZM385.2,162.7L383.2,160.8L384.9,159.9ZM397.3,180.9L394.7,179.9L396.1,178.4ZM406.8,195.3L405.6,192.8L407.6,192.6ZM413.7,215.9L411.5,214.1L413.2,213.1ZM383.6,184.9L381.9,182.7L383.8,182.1ZM392.7,204.9L390.5,203.1L392.3,202.1ZM407.4,221.1L404.8,220.2L406.1,218.7ZM476.1,150.2L473.5,151.0L473.7,149.0ZM498.0,152.4L495.3,153.1L495.5,151.2ZM519.9,154.5L517.3,155.2L517.4,153.2ZM474.6,153.5L471.9,154.3L472.1,152.3ZM496.6,154.4L494.0,155.3L494.0,153.3ZM518.6,154.7L516.0,155.7L516.0,153.7ZM466.1,156.5L463.5,157.3L463.6,155.3ZM488.1,156.9L485.6,157.9L485.5,155.9ZM510.1,155.6L507.6,156.8L507.4,154.8ZM469.3,160.2L466.6,161.1L466.7,159.1ZM491.2,159.2L488.8,160.5L488.5,158.5ZM513.0,156.2L510.6,157.6L510.3,155.6ZM516.7,159.1L518.3,156.9L519.4,158.5ZM502.5,175.8L503.3,173.1L504.9,174.4ZM485.6,189.2L487.8,187.5L488.4,189.4ZM464.4,194.8L466.6,193.2L467.1,195.2ZM475.0,188.3L472.6,189.5L472.4,187.6ZM496.1,183.1L494.4,185.2L493.4,183.5ZM467.1,191.5L464.7,193.0L464.4,191.0ZM488.7,187.3L486.4,189.0L485.9,187.0ZM466.4,194.1L464.1,195.7L463.6,193.8ZM487.6,188.4L485.4,190.1L484.8,188.2ZM475.7,193.1L473.6,194.9L472.9,193.0ZM469.6,197.1L467.7,199.1L466.8,197.3ZM490.1,189.2L487.9,190.9L487.4,189.0ZM506.0,194.8L503.2,194.4L504.2,192.6ZM524.5,190.8L523.6,193.4L522.1,192.1ZM535.7,171.9L535.5,174.6L533.7,173.8ZM485.8,202.5L483.7,200.6L485.5,199.7ZM503.0,211.4L500.8,213.1L500.2,211.2ZM475.0,216.1L474.0,218.7L472.5,217.3ZM487.7,198.1L487.0,200.8L485.3,199.6ZM534.0,148.8L532.5,151.1L531.3,149.5ZM532.0,165.4L530.1,163.4L531.9,162.7ZM536.4,186.8L535.4,184.2L537.4,184.3ZM513.3,210.5L511.4,212.5L510.5,210.7ZM530.2,196.8L529.5,199.5L527.8,198.3ZM449.3,149.2L446.9,150.6L446.5,148.7ZM471.0,145.6L468.6,147.0L468.3,145.0ZM492.9,145.3L490.2,146.0L490.4,144.0ZM514.1,150.9L511.3,150.8L512.1,149.0ZM450.0,152.6L447.3,153.2L447.6,151.2ZM471.8,155.8L469.1,156.4L469.3,154.4ZM493.7,157.7L491.0,158.7L491.1,156.7ZM515.5,156.1L513.2,157.6L512.8,155.7ZM451.2,145.0L449.4,147.1L448.4,145.3ZM469.3,132.6L467.9,135.0L466.7,133.4ZM489.9,125.8L487.5,127.0L487.3,125.1ZM511.8,127.2L509.0,127.6L509.5,125.7ZM447.2,142.4L446.3,145.0L444.8,143.7ZM463.0,127.1L461.6,129.5L460.3,128.0ZM483.2,120.1L480.7,121.3L480.5,119.3ZM425.6,155.0L427.8,153.4L428.3,155.3ZM429.3,148.1L431.8,146.8L432.0,148.8ZM438.0,133.1L439.3,135.6L437.3,135.7ZM434.1,111.6L436.0,113.6L434.2,114.3ZM441.7,132.5L442.4,135.2L440.4,135.0ZM442.5,110.6L443.7,113.1L441.7,113.2ZM442.3,142.7L442.5,145.5L440.6,144.9ZM448.8,121.7L449.1,124.4L447.1,123.9ZM451.1,99.8L452.0,102.5L450.0,102.4ZM445.4,142.3L444.8,145.0L443.1,144.0ZM455.5,122.8L455.5,125.6L453.6,124.8ZM461.8,101.7L462.1,104.5L460.2,104.0ZM433.9,138.1L435.7,140.2L433.8,140.9ZM427.1,117.2L429.0,119.2L427.2,120.0ZM402.7,147.5L405.2,148.7L403.7,150.1ZM407.1,157.6L409.7,156.6L409.7,158.6ZM385.6,153.1L388.4,152.7L387.9,154.7ZM407.5,163.1L409.3,161.0L410.3,162.7ZM386.3,168.8L388.6,167.2L389.1,169.1ZM421.9,89.8L420.8,92.4L419.4,91.0ZM440.5,79.3L438.1,80.7L437.7,78.7ZM462.2,80.6L459.4,80.9L460.0,79.0ZM476.7,96.0L474.7,94.1L476.4,93.2ZM434.9,87.9L432.7,89.6L432.1,87.7ZM413.0,75.3L412.8,78.1L411.0,77.2ZM500.0,130.6L497.2,130.6L497.9,128.7ZM514.8,144.5L512.7,142.7L514.4,141.7ZM515.8,139.8L514.2,137.5L516.1,137.0ZM460.9,135.9L459.5,138.3L458.2,136.8ZM419.2,139.3L417.4,137.2L419.3,136.5ZM422.5,133.8L420.4,131.9L422.2,131.0ZM415.4,141.3L413.8,139.0L415.7,138.5ZM460.5,122.0L459.6,124.6L458.1,123.3ZM494.5,86.8L492.7,88.9L491.8,87.1ZM515.8,88.1L513.0,87.9L513.8,86.1ZM530.5,103.9L528.4,102.2L530.2,101.2ZM537.8,124.7L536.2,122.4L538.2,121.9ZM410.4,170.5L408.3,172.4L407.6,170.6ZM430.9,163.4L429.6,165.9L428.3,164.3ZM414.0,166.4L411.6,167.8L411.2,165.8ZM464.9,141.9L462.7,143.6L462.1,141.7ZM482.8,116.4L480.2,115.3L481.6,113.9ZM504.4,115.1L501.8,114.3L503.0,112.7ZM505.2,120.1L502.5,119.3L503.8,117.7ZM484.4,182.4L482.5,184.4L481.6,182.6ZM502.3,169.7L500.9,172.1L499.7,170.5ZM462.4,184.4L459.9,185.7L459.7,183.7ZM483.7,179.4L481.7,181.3L480.9,179.5ZM470.2,174.0L467.8,175.5L467.4,173.5ZM491.3,167.9L489.2,169.7L488.5,167.8ZM427.5,188.6L424.7,188.8L425.3,186.8ZM467.2,164.7L464.7,165.9L464.6,163.9ZM489.1,162.4L486.7,163.7L486.4,161.7ZM461.9,168.6L459.5,169.9L459.2,167.9ZM483.7,165.3L481.3,166.7L481.0,164.8ZM454.1,208.7L451.4,209.6L451.5,207.6ZM475.2,203.4L473.3,205.3L472.4,203.5ZM385.4,141.6L382.7,141.5L383.4,139.7ZM436.6,73.6L434.4,75.3L433.8,73.5ZM458.0,68.8L455.5,70.1L455.3,68.2ZM421.8,148.2L419.9,150.3L419.0,148.5ZM519.4,174.0L518.3,176.6L516.9,175.2ZM423.0,163.5L420.5,164.7L420.4,162.7ZM405.5,136.5L403.3,134.8L405.0,133.7ZM446.7,108.6L445.5,106.1L447.5,106.0ZM402.7,142.3L400.2,141.2L401.6,139.8Z"/>
</g>
<g clip-path="url(#c3)">
<circle cx="91.20" cy="430.00" r="85.20" fill="#00ff51"/>
<path fill-rule="evenodd" fill="#00ff1b" d="M118.8,516.8 67.8,516.7 64.3,515.3 63.2,515.2 62.5,514.5 61.0,514.3 60.3,513.8 59.5,513.7 58.8,513.0 58.0,513.0 55.8,512.0 50.5,509.2 49.8,508.5 49.0,508.4 46.0,506.3 45.2,506.1 43.8,504.8 43.0,504.6 41.5,503.3 40.0,502.4 37.8,500.3 36.2,499.4 26.6,489.8 22.3,484.6 22.0,483.8 20.6,482.3 17.6,477.8 17.5,477.1 15.4,474.1 14.5,471.8 13.9,471.1 13.8,470.3 13.1,469.6 13.0,468.7 11.8,466.6 11.5,465.0 10.8,464.3 10.8,463.5 10.2,462.8 10.0,461.3 9.4,460.6 9.2,459.0 8.6,458.3 8.5,456.8 7.9,456.1 7.8,454.3 7.1,453.1 7.0,451.3 6.4,450.1 6.2,447.7 5.7,446.3 5.5,442.9 5.0,441.8 4.9,440.3 4.5,430.6 5.0,420.1 5.5,418.7 5.6,415.6 6.2,414.1 6.4,411.8 7.0,410.4 7.1,408.8 7.8,407.4 7.9,405.8 8.5,405.1 8.6,403.6 9.2,402.5 9.4,401.3 10.0,400.6 10.2,399.1 10.8,398.3 11.7,395.3 12.2,394.6 12.4,393.8 13.0,393.1 13.1,392.3 13.8,391.6 13.8,390.8 14.5,390.1 14.6,389.3 15.2,388.6 16.2,386.3 17.5,384.6 18.5,382.6 19.8,381.1 20.0,380.3 22.1,377.3 24.3,375.1 25.1,373.6 31.0,367.3 37.0,361.7 38.5,360.8 40.8,358.7 41.5,358.6 43.0,357.1 47.5,354.2 48.2,354.1 51.2,352.0 53.5,351.1 54.2,350.4 55.0,350.3 55.8,349.7 56.6,349.6 58.8,348.4 60.3,348.1 61.0,347.4 61.8,347.3 62.5,346.8 64.0,346.6 64.8,346.0 66.3,345.8 67.0,345.2 68.6,345.1 69.2,344.6 71.5,344.3 72.2,343.7 74.5,343.6 76.0,342.9 78.3,342.8 112.8,342.9 114.1,343.6 115.8,343.7 117.2,344.3 118.8,344.4 119.5,345.0 121.0,345.1 124.5,346.6 125.5,346.7 126.2,347.3 127.8,347.5 128.4,348.1 129.2,348.2 130.0,348.8 130.8,348.9 131.6,349.6 132.2,349.6 134.5,350.7 136.8,351.9 137.5,352.6 138.2,352.6 139.0,353.3 139.8,353.5 149.5,360.2 151.7,362.3 154.0,363.9 161.3,371.3 162.2,372.8 165.1,375.8 166.0,377.3 167.3,378.8 167.5,379.6 168.9,381.1 169.0,381.8 170.4,383.3 170.5,384.1 172.6,387.1 173.5,389.3 174.2,390.1 174.2,390.8 174.9,391.6 175.0,392.3 176.3,394.6 177.2,397.6 177.9,398.3 178.0,462.4 177.8,463.6 177.2,464.3 177.2,465.1 175.6,468.8 175.0,469.5 174.9,470.3 174.2,471.0 174.1,471.8 173.5,472.5 172.5,474.8 171.2,476.3 171.2,477.1 170.5,477.8 170.2,478.6 164.4,486.8 157.6,494.3 150.2,500.9 148.8,501.8 144.2,505.4 143.5,505.6 142.0,506.9 141.2,507.1 138.2,509.1 136.0,510.1 135.2,510.7 134.5,510.8 133.8,511.4 133.0,511.6 130.8,512.9 127.7,513.8 127.0,514.4 124.0,515.3 123.2,515.9 121.7,516.0 121.0,516.6 118.8,516.8Z"/>
<path fill-rule="evenodd" fill="#1bff00" d="M99.2,504.8 92.5,505.0 85.0,504.5 76.8,503.0 71.5,501.5 64.0,498.6 56.5,494.8 49.8,490.3 45.2,486.6 39.4,480.8 35.0,475.6 31.4,470.3 27.6,463.6 24.7,456.8 22.3,449.3 20.8,441.8 20.1,435.1 20.1,427.6 20.8,420.1 22.3,412.6 23.8,407.3 26.8,399.8 29.9,393.8 34.3,387.1 37.9,382.6 42.2,377.9 47.5,373.2 55.0,367.9 61.8,364.1 68.5,361.3 76.0,358.9 83.5,357.4 90.2,356.8 97.0,356.7 104.5,357.4 112.0,358.8 119.5,361.1 126.2,364.0 132.2,367.2 139.0,371.7 143.5,375.4 148.5,380.3 152.9,385.6 156.6,390.8 160.5,397.6 163.5,404.3 165.7,411.1 167.2,417.8 168.1,425.3 168.3,432.1 167.9,439.6 166.4,447.8 164.2,455.3 161.1,462.8 157.5,469.6 154.5,474.1 149.7,480.1 145.0,484.9 139.8,489.4 133.0,494.1 126.2,497.8 119.5,500.6 112.0,502.9 104.5,504.3 99.2,504.8Z"/>
<path fill-rule="evenodd" fill="#51ff00" d="M101.5,494.3 94.0,494.7 86.6,494.3 81.9,493.6 75.9,492.1 71.4,490.6 64.7,487.6 59.5,484.5 54.4,480.8 49.3,476.3 45.2,471.9 42.2,468.1 39.2,463.5 36.2,457.7 34.0,452.3 32.5,447.5 31.0,440.3 30.4,433.6 30.4,428.3 31.0,421.4 32.5,414.2 34.8,407.4 37.0,402.4 39.2,398.2 43.8,391.6 47.5,387.3 51.6,383.3 57.2,378.8 61.8,375.8 67.5,372.8 73.1,370.6 78.0,369.1 85.5,367.6 92.5,367.0 97.8,367.1 103.0,367.6 110.4,369.1 117.2,371.3 122.4,373.6 127.8,376.6 132.3,379.6 136.8,383.3 142.0,388.5 145.8,393.1 149.5,398.9 152.5,404.8 154.8,410.6 156.2,415.7 157.8,424.4 158.0,430.6 157.8,437.3 157.0,442.6 155.5,448.8 153.2,455.2 151.0,460.0 148.0,465.2 145.0,469.6 141.2,474.1 136.7,478.6 133.0,481.6 126.2,486.1 120.5,489.1 114.9,491.3 109.8,492.8 101.5,494.3Z"/>
<path fill-rule="evenodd" fill="#86ff00" d="M100.0,478.7 96.2,479.1 91.0,479.0 85.8,478.4 82.0,477.5 77.5,476.1 72.2,473.8 67.0,470.7 64.0,468.5 60.2,465.0 56.8,461.3 52.2,454.6 49.9,450.1 48.5,446.3 47.0,441.1 46.3,436.6 46.0,431.3 46.2,426.1 47.7,417.8 49.2,413.3 50.9,409.6 53.0,405.8 56.1,401.3 60.1,396.8 64.0,393.2 70.8,388.7 75.2,386.5 79.0,385.1 84.2,383.6 88.8,382.9 93.2,382.7 98.5,382.8 103.8,383.6 107.5,384.5 112.0,386.0 116.5,388.1 120.2,390.3 125.5,394.2 131.1,399.8 134.9,405.1 137.1,408.8 139.4,414.1 140.8,418.6 141.7,422.3 142.2,426.8 142.4,431.3 142.2,435.1 141.7,439.6 140.1,445.6 137.0,453.1 132.8,459.8 129.6,463.6 126.2,466.9 122.5,469.9 118.8,472.4 115.0,474.4 109.0,476.8 103.8,478.1 100.0,478.7Z"/>
<path fill-rule="evenodd" fill="#bcff00" d="M100.8,470.3 94.0,470.5 87.5,470.3 86.5,469.8 84.2,469.6 83.5,469.1 79.7,468.1 79.0,467.6 76.2,466.6 73.0,464.5 72.2,464.3 69.2,462.1 62.5,455.3 62.3,454.6 59.5,450.8 59.4,450.1 58.0,447.8 57.9,447.1 57.2,446.3 57.0,444.8 56.5,444.1 56.2,442.6 55.8,441.9 55.4,439.6 55.0,438.9 54.8,435.8 54.2,433.6 54.2,430.6 54.2,428.2 54.8,426.1 55.0,422.9 57.2,415.5 57.9,414.8 58.0,414.0 60.2,409.8 62.5,406.5 65.9,402.8 70.0,399.0 74.5,396.1 75.2,395.9 77.5,394.6 78.2,394.4 79.0,393.8 82.8,392.8 83.5,392.3 85.8,392.1 86.6,391.6 94.0,390.9 101.6,391.6 109.1,393.8 115.0,396.8 117.3,398.3 120.3,400.6 124.8,405.0 128.5,410.3 128.6,411.1 129.2,411.7 131.5,416.5 131.7,417.8 132.2,418.5 132.4,420.1 133.0,421.4 133.2,423.8 133.8,425.1 133.8,436.6 133.2,438.1 133.0,440.4 130.8,447.1 130.1,447.8 129.2,450.1 127.2,453.1 127.0,453.8 124.9,456.1 124.0,457.6 121.0,460.6 115.0,465.1 114.2,465.2 113.5,465.8 111.2,466.7 110.5,467.3 109.8,467.4 109.0,468.1 107.5,468.3 106.8,468.8 105.2,469.0 104.3,469.6 102.2,469.7 100.8,470.3Z"/>
<path fill-rule="evenodd" fill="#f2ff00" d="M98.5,456.1 92.5,456.1 91.8,455.3 90.2,455.3 89.5,454.6 88.8,454.6 87.2,453.2 86.5,453.1 82.8,449.3 82.7,448.6 81.2,447.1 81.2,446.3 80.5,445.6 80.5,444.8 79.7,444.1 79.7,443.3 79.0,442.6 79.0,441.1 78.2,440.3 78.2,438.1 77.5,437.3 77.4,432.8 76.8,431.3 76.8,429.0 77.3,427.6 77.5,423.0 78.0,422.3 78.2,420.0 78.9,419.3 79.0,417.8 79.7,417.1 79.8,416.1 81.2,413.3 81.9,412.6 82.0,411.8 84.2,409.3 88.0,405.8 88.8,405.8 89.5,405.0 91.0,404.9 91.7,404.3 99.3,404.3 100.0,404.9 101.5,405.0 102.2,405.8 103.8,406.6 109.0,411.8 109.0,412.6 109.8,413.3 109.8,414.1 110.5,414.8 110.6,415.6 111.2,416.3 111.3,417.1 112.0,417.8 112.0,419.3 112.8,420.1 112.8,422.3 113.5,423.1 113.5,436.6 113.0,437.3 112.8,439.6 112.2,440.3 112.0,441.9 111.4,442.6 111.3,444.1 110.5,444.8 110.5,445.6 109.8,446.3 109.8,447.1 108.3,448.6 108.3,449.3 104.5,453.1 103.8,453.1 102.2,454.6 101.5,454.6 100.8,455.3 99.2,455.3 98.5,456.1Z"/>
<g class="fl"><path d="M10.2,408.7 35.8,410.4 42.9,411.5 46.6,412.8 49.7,415.4 51.8,417.8 58.7,427.5 61.4,430.6 64.6,432.9 69.0,434.9"/>
<path d="M14.8,405.3 19.6,385.9"/>
<path d="M29.1,406.0 32.2,391.1"/>
<path d="M9.5,413.3 36.5,416.0 47.5,418.2"/>
<path d="M45.2,408.9 45.2,404.9 46.2,396.2"/>
<path d="M51.6,400.1 51.1,406.5 51.9,412.8"/>
<path d="M7.5,426.9 34.4,431.3 39.2,431.5 50.3,430.7 53.5,431.3 55.6,432.3"/>
<path d="M39.3,476.8 40.6,468.0 41.5,464.2 43.6,459.0 49.5,449.5 60.2,436.5"/>
<path d="M39.0,460.4 40.5,453.4 43.0,447.6 46.3,443.0 54.2,435.0"/>
<path d="M39.6,377.2 44.9,373.6 48.8,373.2 60.6,378.2 63.8,378.3 66.8,377.4 68.7,375.9 70.6,373.3 75.6,363.4 78.0,361.3 81.6,359.5"/>
<path d="M51.0,369.7 61.7,366.3 71.3,362.3"/>
<path d="M148.7,478.4 156.3,474.0 159.3,471.4 163.0,467.1 167.5,459.6 174.1,444.1"/>
<path d="M88.4,432.2 95.3,430.4 110.4,432.3 121.6,433.2 137.5,432.9"/>
<path d="M151.7,407.9 162.7,409.6 173.5,412.7"/>
<path d="M151.8,375.6 152.1,383.6 154.3,401.0"/>
<path d="M52.8,494.2 60.7,495.1 68.7,495.3 79.9,494.9 87.9,494.2 95.7,492.8 106.6,490.0 113.4,487.8 119.3,485.2"/>
<path d="M76.3,394.3 80.2,410.6 81.3,420.1 81.5,426.5"/>
<path d="M70.3,438.0 80.2,443.1 86.2,445.5 93.9,447.6 103.4,449.1 117.7,450.1 135.3,450.3 139.9,448.9 144.7,446.0"/>
<path d="M138.1,360.5 141.4,372.0 141.8,375.9 141.8,383.1"/>
<path d="M8.2,438.8 14.9,441.4 18.7,444.3 21.2,448.4 24.4,458.3"/>
<path d="M94.5,398.9 98.8,393.2 101.9,387.6 104.1,381.6 106.6,371.5 108.8,369.2 112.9,366.8"/>
<path d="M77.1,386.2 76.8,383.1 77.1,381.5 85.2,363.2 85.9,360.1"/>
<path d="M146.2,493.6 145.6,480.8"/>
<path d="M89.2,514.2 99.5,512.4 115.9,508.7 121.4,508.3"/>
<path d="M107.2,347.4 114.7,350.2 118.7,350.6"/></g>
<g class="sl"><path d="M51.5,397.8C52.1,396.3 53.3,391.1 54.8,388.8C56.3,386.6 58.1,385.4 60.5,384.4C63.0,383.4 67.0,382.4 69.5,383.1C72.1,383.8 74.3,386.5 76.1,388.8C77.9,391.1 78.5,395.1 80.2,397.0C81.8,398.9 83.9,399.7 85.9,400.3C88.0,400.8 91.0,399.3 92.5,400.3C94.0,401.2 94.9,403.1 94.9,406.0C94.9,408.9 93.7,413.8 92.5,417.5C91.2,421.1 89.1,425.3 87.5,428.1C86.0,430.9 84.9,433.2 83.0,434.1C81.1,435.0 78.3,434.0 76.1,433.5C73.9,432.9 71.9,431.9 69.5,430.9C67.2,429.8 63.4,427.9 62.2,427.3" stroke-width="1.50"/>
<path d="M59.7,386.4C59.5,387.7 58.9,391.8 58.5,394.4C58.1,397.1 57.3,399.8 57.3,402.5C57.3,405.2 58.0,407.9 58.4,410.6C58.8,413.3 59.1,416.0 59.8,418.7C60.4,421.3 61.8,425.2 62.2,426.5" stroke-width="0.70"/>
<path d="M65.9,386.4C65.8,387.8 65.8,392.1 65.8,394.9C65.7,397.8 65.5,400.6 65.7,403.5C65.9,406.3 66.4,409.2 66.9,412.0C67.3,414.9 67.7,417.7 68.3,420.5C68.8,423.4 70.0,427.5 70.4,428.9" stroke-width="0.70"/>
<path d="M72.0,386.4C72.2,387.9 72.7,392.4 73.0,395.4C73.4,398.4 73.7,401.4 74.1,404.4C74.5,407.5 74.9,410.5 75.3,413.5C75.8,416.5 76.2,419.5 76.8,422.4C77.3,425.4 78.2,429.9 78.5,431.4" stroke-width="0.70"/>
<path d="M117.0,368.4C116.4,369.7 114.7,373.6 113.5,376.2C112.4,378.8 111.3,381.4 109.9,383.9C108.6,386.4 107.0,388.7 105.4,391.1C103.9,393.5 102.4,395.9 100.7,398.3C99.1,400.6 96.6,404.0 95.7,405.2" stroke-width="0.70"/>
<path d="M119.5,369.8C118.8,371.1 116.9,375.0 115.6,377.6C114.2,380.2 113.0,382.8 111.5,385.3C110.0,387.8 108.3,390.2 106.6,392.6C104.9,394.9 103.3,397.3 101.5,399.5C99.7,401.8 96.8,404.9 95.8,406.0" stroke-width="0.70"/>
<path d="M121.9,371.2C121.2,372.5 119.0,376.4 117.6,379.0C116.1,381.6 114.7,384.3 113.1,386.8C111.5,389.3 109.6,391.7 107.8,394.0C106.0,396.3 104.1,398.6 102.2,400.8C100.2,402.9 97.0,405.8 95.9,406.8" stroke-width="0.70"/>
<path d="M124.4,372.7C123.6,374.0 121.2,377.9 119.6,380.5C118.0,383.1 116.5,385.7 114.7,388.2C112.9,390.7 111.0,393.1 109.0,395.4C107.0,397.7 105.0,400.0 102.9,402.0C100.7,404.0 97.2,406.7 96.0,407.6" stroke-width="0.70"/>
<path d="M126.8,374.1C126.0,375.4 123.4,379.3 121.6,381.9C119.8,384.5 118.2,387.2 116.3,389.7C114.4,392.1 112.3,394.6 110.2,396.9C108.1,399.1 105.9,401.3 103.6,403.3C101.2,405.2 97.4,407.6 96.1,408.5" stroke-width="0.70"/>
<path d="M129.3,375.5C128.3,376.8 125.5,380.7 123.6,383.3C121.7,385.9 119.9,388.6 117.9,391.1C115.8,393.6 113.7,396.0 111.4,398.3C109.1,400.5 106.8,402.7 104.3,404.5C101.8,406.3 97.6,408.5 96.2,409.3" stroke-width="0.70"/>
<path d="M131.7,377.0C130.7,378.3 127.7,382.2 125.6,384.8C123.6,387.4 121.6,390.0 119.5,392.5C117.3,395.0 115.0,397.5 112.6,399.7C110.2,401.9 107.7,404.0 105.0,405.7C102.3,407.5 97.8,409.4 96.3,410.1" stroke-width="0.70"/>
<path d="M134.2,378.4C133.1,379.7 129.8,383.6 127.7,386.2C125.5,388.8 123.4,391.5 121.0,394.0C118.7,396.5 116.3,399.0 113.8,401.1C111.2,403.3 108.6,405.4 105.7,407.0C102.8,408.6 98.0,410.3 96.4,410.9" stroke-width="0.70"/>
<path d="M136.6,379.8C135.5,381.1 132.0,385.1 129.7,387.7C127.3,390.2 125.1,392.9 122.6,395.4C120.2,397.9 117.7,400.4 115.0,402.6C112.3,404.7 109.5,406.7 106.4,408.2C103.4,409.8 98.2,411.1 96.5,411.7" stroke-width="0.70"/>
<path d="M72.8,433.0C75.6,433.7 83.9,436.5 89.6,437.5C95.3,438.4 101.2,438.6 106.9,438.6C112.7,438.7 118.5,438.3 124.3,437.7C130.1,437.2 135.9,436.4 141.6,435.4C147.3,434.5 153.1,433.7 158.6,432.1C164.2,430.5 172.2,427.0 174.9,426.0" stroke-width="0.70"/>
<path d="M72.3,433.8C75.1,434.7 83.3,438.2 89.0,439.4C94.7,440.5 100.7,440.8 106.6,441.0C112.5,441.2 118.4,440.9 124.3,440.4C130.2,439.9 136.1,439.2 141.8,438.1C147.6,437.0 153.4,435.6 158.9,433.7C164.4,431.7 172.3,427.5 174.9,426.3" stroke-width="0.70"/>
<path d="M71.7,434.6C74.5,435.7 82.6,439.8 88.4,441.2C94.1,442.7 100.3,443.0 106.3,443.4C112.3,443.7 118.3,443.6 124.3,443.1C130.3,442.7 136.3,442.1 142.1,440.7C147.9,439.4 153.7,437.6 159.1,435.2C164.6,432.9 172.3,428.1 174.9,426.6" stroke-width="0.70"/>
<path d="M71.2,435.5C73.9,436.7 82.0,441.4 87.8,443.1C93.6,444.8 99.9,445.3 105.9,445.7C112.0,446.2 118.2,446.2 124.3,445.8C130.4,445.4 136.5,444.9 142.4,443.4C148.2,441.9 154.0,439.5 159.4,436.8C164.8,434.0 172.3,428.6 174.9,426.9" stroke-width="0.70"/>
<path d="M69.5,440.4C71.5,441.4 77.2,445.0 81.2,446.8C85.3,448.5 89.5,449.9 93.7,450.9C98.0,452.0 102.5,452.5 106.9,453.1C111.3,453.7 115.7,454.0 120.1,454.4C124.5,454.9 131.2,455.7 133.4,455.9" stroke-width="0.70"/>
<path d="M69.0,441.5C70.9,442.6 76.6,446.2 80.6,448.1C84.7,449.9 88.8,451.4 93.1,452.5C97.4,453.7 101.8,454.4 106.2,455.1C110.6,455.7 115.1,456.1 119.5,456.6C123.9,457.0 130.6,457.6 132.8,457.8" stroke-width="0.70"/>
<path d="M68.5,442.5C70.4,443.7 76.1,447.4 80.1,449.3C84.1,451.2 88.2,452.8 92.5,454.1C96.7,455.4 101.2,456.3 105.6,457.0C110.0,457.8 114.4,458.3 118.9,458.7C123.3,459.2 130.0,459.6 132.3,459.7" stroke-width="0.70"/>
<path d="M67.9,443.6C69.8,444.8 75.5,448.6 79.5,450.6C83.5,452.6 87.6,454.3 91.8,455.7C96.1,457.1 100.5,458.1 104.9,459.0C109.3,459.9 113.8,460.5 118.3,460.9C122.7,461.3 129.5,461.5 131.7,461.6" stroke-width="0.70"/>
<path d="M94.1,412.9C96.8,413.0 105.1,413.0 110.5,413.6C116.0,414.2 121.3,415.8 126.8,416.5C132.2,417.1 137.8,417.1 143.3,417.5C148.7,417.8 154.3,417.5 159.6,418.8C164.8,420.0 172.4,423.8 174.9,424.8" stroke-width="0.70"/>
<path d="M93.5,415.2C96.3,415.6 104.4,416.6 109.9,417.5C115.3,418.4 120.6,420.1 126.1,420.8C131.6,421.5 137.2,421.6 142.7,421.8C148.2,422.0 153.8,421.5 159.1,422.0C164.5,422.6 172.3,424.6 174.9,425.1" stroke-width="0.70"/>
<path d="M93.0,417.6C95.7,418.2 103.8,420.1 109.2,421.4C114.6,422.6 119.9,424.3 125.4,425.1C130.9,425.9 136.6,426.0 142.1,426.1C147.7,426.1 153.3,425.4 158.7,425.3C164.2,425.2 172.2,425.4 174.9,425.4" stroke-width="0.70"/>
<path d="M92.5,419.9C95.1,420.8 103.1,423.6 108.5,425.2C113.9,426.8 119.3,428.6 124.8,429.4C130.3,430.3 135.9,430.5 141.5,430.4C147.1,430.2 152.7,429.3 158.3,428.6C163.9,427.8 172.2,426.1 174.9,425.6" stroke-width="0.70"/>
<path d="M174.9,426.5C173.5,428.5 169.2,435.3 166.1,438.7C163.0,442.1 160.1,444.5 156.3,446.9C152.5,449.4 145.4,452.4 143.2,453.5" stroke-width="0.70"/>
<path d="M80.2,397.0C80.6,395.2 81.4,389.8 82.6,386.4C83.9,383.0 85.9,379.5 87.5,376.5C89.2,373.5 91.6,369.7 92.5,368.4" stroke-width="0.70"/>
<path d="M85.9,400.3C86.7,398.5 88.9,393.0 90.8,389.6C92.7,386.2 95.7,383.4 97.4,379.8C99.0,376.3 100.1,370.3 100.6,368.4" stroke-width="0.70"/>
<path d="M60.5,384.4C59.6,383.6 56.9,381.1 54.8,379.8C52.8,378.5 49.4,377.1 48.3,376.5" stroke-width="0.70"/>
<path d="M69.5,383.1C70.4,382.0 73.1,379.0 74.5,376.5C75.8,374.1 77.2,369.7 77.7,368.4" stroke-width="0.70"/>
<path d="M67.3,448.9C69.6,450.5 76.3,456.0 81.5,458.4C86.6,460.7 91.7,461.9 98.0,463.1C104.3,464.3 113.2,464.5 119.3,465.5C125.4,466.4 132.1,468.4 134.6,469.0" stroke-width="1.50"/>
<path d="M40.1,492.6C42.7,492.2 50.1,491.1 55.5,490.3C60.8,489.5 66.1,488.7 72.0,487.9C77.9,487.1 84.6,486.7 90.9,485.5C97.2,484.4 104.3,482.4 109.8,480.8C115.3,479.2 119.9,477.9 124.0,476.1C128.1,474.3 132.9,471.2 134.6,470.2" stroke-width="1.50"/>
<path d="M64.9,452.5C66.8,453.9 72.3,458.9 76.5,461.2C80.7,463.4 85.5,464.7 90.1,465.8C94.8,467.0 99.6,467.7 104.4,468.2C109.2,468.7 114.1,468.7 118.9,469.0C123.8,469.2 131.0,469.6 133.5,469.7" stroke-width="0.70"/>
<path d="M62.1,457.2C64.2,458.4 70.1,462.5 74.6,464.3C79.0,466.1 83.9,467.1 88.7,468.0C93.5,468.9 98.5,469.3 103.5,469.6C108.5,469.9 113.5,469.8 118.5,469.8C123.5,469.9 131.0,469.9 133.5,469.9" stroke-width="0.70"/>
<path d="M59.3,461.9C61.5,462.8 67.9,466.1 72.6,467.4C77.2,468.8 82.3,469.5 87.3,470.1C92.3,470.7 97.5,471.0 102.6,471.1C107.7,471.2 112.9,470.8 118.0,470.6C123.2,470.5 130.9,470.2 133.5,470.1" stroke-width="0.70"/>
<path d="M56.5,466.6C58.8,467.3 65.7,469.6 70.6,470.6C75.5,471.5 80.7,471.9 85.9,472.2C91.1,472.5 96.4,472.6 101.7,472.5C107.0,472.4 112.3,471.8 117.6,471.5C122.9,471.1 130.8,470.5 133.5,470.3" stroke-width="0.70"/>
<path d="M53.7,471.4C56.2,471.8 63.4,473.2 68.6,473.7C73.7,474.2 79.1,474.3 84.5,474.3C89.9,474.4 95.4,474.3 100.8,474.0C106.3,473.6 111.7,472.9 117.1,472.3C122.6,471.7 130.7,470.8 133.5,470.5" stroke-width="0.70"/>
<path d="M50.9,476.1C53.5,476.2 61.2,476.8 66.6,476.8C71.9,476.9 77.5,476.7 83.1,476.5C88.7,476.2 94.3,476.0 99.9,475.4C105.5,474.9 111.1,473.9 116.7,473.1C122.3,472.3 130.7,471.1 133.5,470.7" stroke-width="0.70"/>
<path d="M48.1,480.8C50.8,480.7 59.0,480.3 64.6,479.9C70.2,479.6 76.0,479.1 81.7,478.6C87.4,478.1 93.3,477.6 99.0,476.9C104.8,476.1 110.5,474.9 116.2,473.9C122.0,473.0 130.6,471.4 133.5,470.9" stroke-width="0.70"/>
<path d="M45.3,485.5C48.1,485.1 56.8,483.9 62.6,483.1C68.4,482.3 74.4,481.5 80.3,480.7C86.2,479.9 92.2,479.3 98.1,478.3C104.0,477.3 109.9,476.0 115.8,474.8C121.7,473.6 130.5,471.8 133.5,471.2" stroke-width="0.70"/>
<path d="M42.5,490.3C45.5,489.6 54.5,487.4 60.6,486.2C66.7,485.0 72.8,483.9 78.9,482.8C85.0,481.7 91.1,481.0 97.2,479.8C103.3,478.6 109.3,477.0 115.3,475.6C121.4,474.2 130.4,472.1 133.5,471.4" stroke-width="0.70"/>
<path d="M40.1,492.6C39.5,490.1 37.5,483.0 36.5,477.3C35.6,471.6 33.8,463.9 34.2,458.4C34.6,452.8 36.9,448.1 38.9,444.2C40.9,440.2 44.8,436.3 46.0,434.7" stroke-width="0.70"/>
<path d="M40.1,492.6C40.7,490.1 41.9,482.6 43.6,477.3C45.4,472.0 48.0,465.8 50.7,460.7C53.5,455.6 57.4,450.5 60.2,446.5C62.9,442.6 66.1,438.7 67.3,437.1" stroke-width="0.70"/>
<path d="M40.1,492.6C40.3,491.3 40.3,488.5 41.3,484.4C42.3,480.2 43.6,472.9 46.0,467.8C48.4,462.7 52.3,457.6 55.5,453.6C58.6,449.7 63.3,445.8 64.9,444.2" stroke-width="0.70"/>
<path d="M40.1,492.6C39.1,491.3 36.0,487.7 34.2,484.4C32.4,481.0 30.8,476.5 29.5,472.5C28.1,468.6 26.5,462.7 25.9,460.7" stroke-width="0.70"/>
<path d="M40.1,492.6C39.1,492.0 36.3,490.5 34.2,489.1C32.0,487.7 29.1,485.9 27.1,484.4C25.1,482.8 23.2,480.4 22.4,479.6" stroke-width="0.70"/>
<path d="M40.1,492.6C42.3,493.4 48.2,496.0 53.1,497.4C58.0,498.7 64.1,500.3 69.6,500.9C75.2,501.5 81.1,501.3 86.2,500.9C91.3,500.5 98.0,498.9 100.4,498.5" stroke-width="0.70"/>
<path d="M40.1,492.6C41.5,493.6 44.6,496.6 48.4,498.5C52.1,500.5 57.8,503.1 62.5,504.5C67.3,505.8 74.4,506.4 76.7,506.8" stroke-width="0.70"/>
<path d="M40.1,492.6C40.7,493.6 41.5,496.6 43.6,498.5C45.8,500.5 49.5,502.7 53.1,504.5C56.6,506.2 62.9,508.4 64.9,509.2" stroke-width="0.70"/>
<path d="M134.6,469.0C135.6,467.6 138.8,463.7 140.5,460.7C142.3,457.8 143.9,454.4 145.3,451.3C146.7,448.1 148.2,443.4 148.8,441.8" stroke-width="0.70"/>
<path d="M134.6,469.0C136.0,468.4 140.5,466.8 142.9,465.5C145.3,464.1 147.8,461.5 148.8,460.7" stroke-width="0.70"/>
<path d="M134.6,469.0C134.8,470.8 136.4,476.3 135.8,479.6C135.2,483.0 132.7,485.9 131.1,489.1C129.5,492.2 127.2,497.0 126.4,498.5" stroke-width="0.70"/>
<path d="M134.6,469.0C134.0,470.4 133.3,474.3 131.1,477.3C128.9,480.2 124.8,484.2 121.6,486.7C118.5,489.3 115.7,491.3 112.2,492.6C108.6,494.0 102.3,494.6 100.4,495.0" stroke-width="0.70"/>
<path d="M134.6,469.0C135.2,470.4 137.2,473.9 138.2,477.3C139.2,480.6 140.3,485.2 140.5,489.1C140.7,493.0 139.6,498.9 139.4,500.9" stroke-width="0.70"/>
<path d="M100.4,498.5C102.3,497.8 108.2,494.8 112.2,493.8C116.1,492.8 120.5,492.2 124.0,492.6C127.5,493.0 131.1,494.4 133.5,496.2C135.8,498.0 137.4,502.1 138.2,503.3" stroke-width="0.70"/>
<path d="M90.9,505.6C93.3,504.8 100.4,501.7 105.1,500.9C109.8,500.1 115.3,500.1 119.3,500.9C123.2,501.7 127.2,504.8 128.7,505.6" stroke-width="0.70"/>
<path d="M127.0,356.5C125.9,358.6 123.1,364.3 120.7,369.0C118.4,373.7 115.5,380.0 112.9,384.7C110.3,389.3 106.4,395.1 105.1,397.2" stroke-width="0.70"/>
<path d="M127.0,356.5C126.4,359.1 125.4,366.9 123.8,372.1C122.3,377.4 119.9,382.8 117.6,387.8C115.2,392.7 111.1,399.5 109.8,401.9" stroke-width="0.70"/>
<path d="M127.0,356.5C127.2,359.4 129.0,368.0 128.5,373.7C128.0,379.4 126.2,385.4 123.8,390.9C121.5,396.4 116.0,403.9 114.5,406.5" stroke-width="0.70"/>
<path d="M127.0,356.5C127.5,359.6 129.8,369.0 130.1,375.3C130.4,381.5 130.1,388.3 128.5,394.0C127.0,399.8 122.0,407.1 120.7,409.7" stroke-width="0.70"/>
<path d="M127.0,356.5C128.0,359.6 132.2,368.5 133.2,375.3C134.3,382.0 134.3,390.9 133.2,397.2C132.2,403.4 128.0,410.2 127.0,412.8" stroke-width="0.70"/>
<path d="M127.0,356.5C124.9,357.6 119.1,361.2 114.5,362.8C109.8,364.3 103.5,364.3 98.8,365.9C94.1,367.5 88.4,371.1 86.3,372.1" stroke-width="0.70"/>
<path d="M127.0,356.5C124.4,357.0 116.0,359.6 111.3,359.6C106.6,359.6 103.5,357.6 98.8,356.5C94.1,355.5 85.8,353.9 83.2,353.4" stroke-width="0.70"/>
<path d="M92.6,347.1C93.1,349.7 94.6,358.1 95.7,362.8C96.7,367.5 98.3,371.1 98.8,375.3C99.3,379.4 98.8,385.7 98.8,387.8" stroke-width="0.70"/>
<path d="M92.6,347.1C92.0,349.7 90.5,358.1 89.4,362.8C88.4,367.5 87.4,371.1 86.3,375.3C85.3,379.4 83.7,385.7 83.2,387.8" stroke-width="0.70"/>
<path d="M92.6,347.1C89.4,348.2 80.1,351.3 73.8,353.4C67.5,355.5 60.2,357.6 55.0,359.6C49.8,361.7 44.6,364.8 42.5,365.9" stroke-width="0.70"/>
<path d="M92.6,347.1C94.6,348.2 100.9,351.3 105.1,353.4C109.2,355.5 114.5,357.0 117.6,359.6C120.7,362.2 122.8,367.5 123.8,369.0" stroke-width="0.70"/>
<path d="M42.5,365.9C41.0,367.5 35.8,371.6 33.1,375.3C30.5,378.9 28.5,383.6 26.9,387.8C25.3,392.0 24.3,398.2 23.8,400.3" stroke-width="0.70"/>
<path d="M23.8,378.4C25.8,379.4 32.6,382.6 36.3,384.7C39.9,386.7 44.1,389.9 45.7,390.9" stroke-width="0.70"/>
<path d="M8.1,419.1C10.7,419.3 18.6,420.1 23.8,420.6C29.0,421.1 34.7,421.4 39.4,422.2C44.1,423.0 49.8,424.8 51.9,425.3" stroke-width="0.70"/>
<path d="M8.1,431.6C10.7,432.1 18.0,433.6 23.8,434.7C29.5,435.7 39.4,437.3 42.5,437.8" stroke-width="0.70"/>
<path d="M167.6,437.8C166.6,440.9 164.0,451.4 161.4,456.6C158.8,461.8 155.6,466.2 152.0,469.1C148.3,472.0 141.6,473.0 139.5,473.8" stroke-width="0.70"/>
<path d="M58.2,506.6C61.8,507.1 72.2,509.7 80.1,509.7C87.9,509.7 97.8,508.2 105.1,506.6C112.4,505.1 120.7,501.4 123.8,500.4" stroke-width="0.70"/>
<path d="M36.3,500.4C34.7,498.8 30.0,494.1 26.9,491.0C23.8,487.9 19.1,483.2 17.5,481.6" stroke-width="0.70"/>
<path d="M11.3,447.2C12.3,449.8 14.9,457.6 17.5,462.8C20.1,468.0 23.2,473.8 26.9,478.5C30.5,483.2 37.3,488.9 39.4,491.0" stroke-width="0.70"/>
<path d="M127.0,356.5C128.0,359.1 131.4,366.4 133.2,372.1C135.0,377.9 136.8,384.7 137.9,390.9C139.1,397.2 139.1,404.5 140.1,409.7C141.1,414.9 141.7,419.5 144.2,422.2C146.7,424.9 150.7,425.3 155.1,425.9C159.5,426.6 168.1,425.9 170.7,425.9" stroke-width="0.70"/></g>
<path class="ar" d="M54.6,389.4L54.4,392.2L52.6,391.3ZM73.5,385.8L70.9,384.7L72.3,383.3ZM88.1,400.2L85.5,401.3L85.4,399.3ZM92.6,416.9L92.4,414.1L94.3,414.7ZM80.9,434.3L83.5,433.1L83.6,435.1ZM58.1,396.9L57.6,394.1L59.5,394.5ZM59.8,418.6L58.3,416.3L60.2,415.9ZM65.7,403.2L64.6,400.6L66.6,400.6ZM69.3,424.9L67.7,422.6L69.7,422.1ZM73.6,400.7L72.3,398.2L74.3,398.0ZM76.8,422.5L75.3,420.1L77.3,419.7ZM113.3,376.6L113.5,373.9L115.3,374.7ZM102.5,395.7L103.0,393.0L104.7,394.1ZM113.7,381.2L114.0,378.5L115.8,379.4ZM101.5,399.5L102.3,396.8L103.9,398.0ZM115.5,382.9L115.8,380.1L117.6,381.1ZM102.4,400.5L103.4,397.9L104.9,399.2ZM119.3,381.0L119.8,378.3L121.5,379.3ZM106.2,398.7L107.2,396.0L108.7,397.4ZM117.9,387.5L118.5,384.8L120.2,385.9ZM103.1,403.7L104.4,401.2L105.7,402.7ZM123.8,383.0L124.6,380.4L126.2,381.5ZM109.7,399.9L110.9,397.4L112.3,398.8ZM124.2,386.7L125.0,384.0L126.5,385.3ZM109.2,402.7L110.5,400.3L111.8,401.8ZM125.4,388.9L126.3,386.3L127.8,387.6ZM109.8,404.3L111.3,402.0L112.5,403.6ZM128.2,389.4L129.1,386.8L130.6,388.1ZM112.4,404.6L113.8,402.2L115.0,403.8ZM86.8,436.9L84.0,437.3L84.5,435.3ZM108.7,438.6L106.1,439.6L106.1,437.6ZM130.6,437.1L128.1,438.3L127.9,436.4ZM152.3,433.6L149.9,435.1L149.6,433.1ZM173.1,426.7L171.1,428.6L170.4,426.7ZM87.5,439.1L84.8,439.3L85.3,437.4ZM109.4,441.1L106.8,442.0L106.8,440.0ZM131.4,439.7L128.9,441.0L128.7,439.0ZM152.9,435.6L150.7,437.2L150.2,435.2ZM173.2,427.1L171.3,429.2L170.4,427.4ZM89.0,441.4L86.2,441.6L86.8,439.7ZM110.8,443.5L108.2,444.4L108.3,442.4ZM132.8,442.3L130.3,443.6L130.1,441.6ZM154.1,437.2L152.0,439.0L151.3,437.1ZM81.1,440.5L78.4,440.3L79.2,438.5ZM102.4,445.5L99.7,446.2L99.9,444.2ZM124.4,445.8L121.8,447.0L121.7,445.0ZM146.0,442.3L143.9,444.0L143.3,442.1ZM165.9,433.0L164.2,435.2L163.2,433.5ZM82.9,447.5L80.1,447.4L80.9,445.6ZM104.2,452.7L101.5,453.4L101.8,451.4ZM126.1,455.1L123.4,455.8L123.6,453.8ZM82.8,449.0L80.0,448.8L80.8,447.0ZM103.9,454.7L101.2,455.3L101.5,453.3ZM125.8,457.2L123.1,457.9L123.3,456.0ZM78.1,448.3L75.4,447.9L76.4,446.2ZM98.7,455.8L96.0,456.1L96.5,454.2ZM120.5,458.9L117.8,459.6L118.0,457.7ZM74.7,447.9L72.0,447.4L73.1,445.7ZM94.8,456.7L92.1,456.8L92.7,454.9ZM116.4,460.7L113.7,461.4L114.0,459.4ZM112.8,413.9L110.1,414.6L110.3,412.6ZM134.5,417.0L131.9,417.9L132.0,415.9ZM156.5,418.2L153.8,418.9L154.0,416.9ZM104.8,416.7L102.0,417.3L102.3,415.4ZM126.4,420.8L123.6,421.4L123.9,419.5ZM148.3,421.8L145.7,422.8L145.7,420.8ZM170.1,424.0L167.4,424.5L167.8,422.5ZM104.2,420.2L101.4,420.6L101.9,418.6ZM125.6,425.2L122.9,425.7L123.2,423.7ZM147.6,425.9L145.0,427.0L144.9,425.0ZM169.5,425.3L166.9,426.3L167.0,424.3ZM109.4,425.5L106.6,425.7L107.2,423.8ZM130.8,430.2L128.1,430.9L128.4,428.9ZM152.8,429.3L150.3,430.7L150.1,428.7ZM166.5,438.2L167.4,435.6L169.0,436.9ZM148.7,450.9L150.6,448.8L151.5,450.6ZM83.5,384.2L83.4,387.0L81.6,386.3ZM93.5,385.7L92.8,388.3L91.2,387.1ZM54.0,379.2L56.7,380.0L55.5,381.6ZM77.2,456.0L74.4,455.3L75.6,453.7ZM97.8,463.1L95.1,463.5L95.5,461.6ZM119.7,465.5L117.0,466.1L117.2,464.2ZM49.0,491.3L46.6,492.6L46.3,490.7ZM70.8,488.1L68.3,489.4L68.1,487.4ZM92.6,485.2L90.2,486.7L89.8,484.7ZM113.9,479.6L111.6,481.3L111.1,479.4ZM77.2,461.6L74.4,461.1L75.5,459.4ZM98.3,467.4L95.6,468.0L95.9,466.0ZM120.2,469.0L117.6,469.9L117.7,467.9ZM78.2,465.6L75.5,465.8L76.1,463.9ZM99.9,469.4L97.2,470.1L97.4,468.1ZM121.9,469.8L119.3,470.8L119.3,468.8ZM68.7,466.1L65.9,466.0L66.7,464.2ZM90.2,470.4L87.5,471.1L87.7,469.1ZM112.2,470.9L109.6,472.0L109.6,470.0ZM70.9,470.6L68.1,471.1L68.6,469.1ZM92.8,472.5L90.2,473.4L90.2,471.4ZM114.8,471.7L112.3,472.9L112.1,470.9ZM64.8,473.2L62.1,473.8L62.4,471.9ZM86.8,474.3L84.2,475.3L84.2,473.3ZM108.7,473.2L106.3,474.5L106.1,472.5ZM130.6,470.8L128.1,472.1L127.9,470.1ZM67.0,476.8L64.4,477.8L64.5,475.8ZM89.0,476.2L86.5,477.3L86.4,475.3ZM110.9,474.0L108.5,475.3L108.2,473.4ZM64.0,480.0L61.5,481.1L61.4,479.1ZM85.9,478.2L83.4,479.4L83.3,477.4ZM107.8,475.5L105.4,476.9L105.0,474.9ZM129.4,471.6L127.0,473.1L126.7,471.1ZM55.6,484.1L53.2,485.4L52.9,483.4ZM77.4,481.1L74.9,482.4L74.7,480.4ZM99.2,478.1L96.8,479.5L96.5,477.6ZM120.7,473.8L118.4,475.3L118.0,473.3ZM59.2,486.5L56.9,488.0L56.4,486.1ZM80.8,482.5L78.4,483.9L78.1,481.9ZM102.5,478.6L100.2,480.2L99.7,478.2ZM123.9,473.6L121.6,475.2L121.1,473.2ZM36.6,477.8L38.1,480.1L36.1,480.5ZM34.5,456.0L35.1,458.7L33.2,458.4ZM44.4,436.6L43.5,439.3L41.9,438.0ZM43.6,477.5L43.8,480.3L41.9,479.7ZM52.6,457.5L52.2,460.2L50.4,459.2ZM65.4,439.6L64.6,442.2L63.0,441.0ZM43.3,475.9L43.6,478.7L41.7,478.2ZM53.2,456.5L52.5,459.2L50.9,458.0ZM33.1,482.1L35.1,484.0L33.3,484.8ZM26.3,483.8L29.0,484.5L27.8,486.1ZM56.8,498.4L54.0,498.7L54.6,496.7ZM78.5,501.3L75.9,502.3L75.9,500.3ZM47.5,498.0L44.7,497.5L45.8,495.8ZM68.0,505.6L65.3,506.1L65.6,504.2ZM52.5,504.1L49.7,503.8L50.6,502.0ZM141.6,458.8L141.2,461.6L139.5,460.6ZM146.4,462.9L144.9,465.2L143.7,463.6ZM135.9,478.5L134.9,475.9L136.9,476.0ZM126.6,482.2L127.8,479.7L129.2,481.1ZM108.2,493.7L110.6,492.2L111.0,494.1ZM138.8,479.4L137.1,477.2L139.0,476.6ZM117.0,492.9L114.5,494.3L114.2,492.3ZM136.3,499.9L134.2,498.2L135.9,497.2ZM101.3,501.9L99.1,503.6L98.5,501.7ZM122.9,502.1L120.1,502.2L120.8,500.3ZM120.6,369.2L120.9,366.4L122.7,367.3ZM110.5,388.7L111.0,386.0L112.7,387.0ZM124.7,368.7L124.3,366.0L126.2,366.4ZM116.9,389.2L117.1,386.5L118.9,387.3ZM128.6,371.2L127.5,368.6L129.5,368.5ZM123.2,392.3L123.4,389.5L125.2,390.4ZM129.0,366.5L127.5,364.1L129.5,363.8ZM129.7,388.4L128.9,385.7L130.9,385.9ZM130.6,365.8L128.7,363.8L130.6,363.1ZM134.0,387.4L133.0,384.8L135.0,384.8ZM129.0,408.6L129.2,405.8L131.0,406.7ZM112.3,363.3L114.5,361.7L115.1,363.6ZM91.3,369.4L93.1,367.3L94.1,369.0ZM111.0,359.7L113.5,358.5L113.7,360.5ZM89.6,354.6L92.4,354.2L92.0,356.1ZM95.3,361.1L93.8,358.8L95.8,358.4ZM99.0,382.7L98.1,380.1L100.1,380.1ZM88.9,364.9L88.5,362.2L90.5,362.6ZM83.6,386.3L83.2,383.5L85.2,384.0ZM82.8,350.4L84.9,348.6L85.6,350.5ZM61.9,357.2L64.0,355.5L64.7,357.4ZM108.2,354.8L105.4,354.6L106.2,352.8ZM35.3,372.7L36.4,370.1L37.9,371.5ZM25.6,392.2L25.3,389.4L27.2,389.9ZM40.2,387.1L37.5,386.6L38.5,384.9ZM22.9,420.5L20.3,421.3L20.5,419.3ZM44.7,423.3L42.0,423.7L42.4,421.8ZM22.5,434.5L19.8,435.0L20.2,433.0ZM161.9,455.6L161.9,452.8L163.7,453.5ZM147.4,471.4L149.5,469.5L150.2,471.4ZM74.6,509.4L71.9,510.1L72.1,508.1ZM96.5,508.2L94.1,509.6L93.8,507.6ZM117.7,502.6L115.7,504.5L115.0,502.6ZM24.5,488.5L27.0,489.7L25.6,491.1ZM14.3,455.3L12.4,453.2L14.3,452.5ZM24.3,474.8L22.0,473.2L23.7,472.1ZM131.6,367.7L129.7,365.6L131.6,364.9ZM137.5,388.8L136.0,386.5L138.0,386.1ZM140.3,410.7L138.8,408.3L140.8,407.9ZM153.0,425.7L150.3,426.1L150.7,424.2ZM19.1,409.5L16.5,410.3L16.6,408.3ZM41.1,411.2L38.3,411.8L38.6,409.8ZM57.0,425.0L54.7,423.5L56.4,422.3ZM17.1,395.4L17.5,398.1L15.6,397.7ZM31.4,395.9L31.8,398.6L29.8,398.2ZM26.9,415.0L24.2,415.8L24.4,413.8ZM16.8,428.4L14.1,429.0L14.4,427.0ZM38.6,431.6L35.9,432.5L36.0,430.5ZM41.2,465.6L41.5,468.4L39.5,467.9ZM51.8,446.6L51.0,449.2L49.4,448.0ZM42.9,447.7L42.7,450.4L40.9,449.6ZM55.2,376.0L52.4,375.7L53.3,373.9ZM72.4,369.6L72.2,372.4L70.4,371.5ZM68.6,363.6L66.6,365.4L65.8,363.6ZM161.4,469.2L160.3,471.8L158.9,470.4ZM171.6,449.8L171.6,452.6L169.7,451.9ZM98.5,430.6L95.8,431.4L96.0,429.4ZM120.3,433.2L117.7,434.0L117.8,432.0ZM165.5,410.3L162.7,410.6L163.2,408.7ZM153.2,391.3L151.8,388.8L153.8,388.6ZM61.3,495.2L58.6,496.0L58.8,494.0ZM83.3,494.7L80.8,495.9L80.6,493.9ZM104.8,490.5L102.6,492.1L102.1,490.2ZM80.0,409.3L78.5,407.0L80.5,406.6ZM81.0,443.4L78.3,443.2L79.1,441.4ZM102.3,448.9L99.5,449.6L99.8,447.6ZM124.2,450.3L121.6,451.3L121.6,449.3ZM141.8,374.4L140.4,372.0L142.4,371.7ZM20.7,447.0L18.4,445.4L20.1,444.3ZM102.6,385.9L102.5,388.7L100.6,387.9ZM80.6,373.2L80.4,376.0L78.6,375.2ZM103.1,511.6L100.8,513.2L100.4,511.2Z"/>
</g>
<g clip-path="url(#c4)">
<circle cx="275.20" cy="428.20" r="86.80" fill="#00ff51"/>
<path fill-rule="evenodd" fill="#00ff1b" d="M363.4,516.4 186.4,516.4 186.4,341.4 188.5,339.4 361.9,339.4 363.4,340.8 363.4,516.4Z"/>
<path fill-rule="evenodd" fill="#1bff00" d="M280.1,512.7 273.4,512.9 265.1,512.4 256.9,510.9 248.6,508.6 241.1,505.7 233.6,501.8 226.9,497.4 220.1,492.0 214.4,486.4 209.3,480.4 204.6,473.6 200.9,466.9 197.3,458.6 194.9,451.1 193.4,444.4 192.6,437.6 192.2,429.4 192.6,421.1 193.5,415.1 195.7,406.1 198.0,399.4 201.8,391.1 206.3,383.6 211.4,376.9 217.1,370.7 223.1,365.3 230.6,359.9 237.4,356.1 243.4,353.2 252.4,350.1 262.1,347.9 268.9,347.1 276.4,347.0 283.1,347.3 292.1,348.7 301.1,351.1 308.6,353.9 316.1,357.7 322.1,361.5 328.9,366.7 334.1,371.6 339.0,376.9 345.1,385.1 349.0,391.9 351.8,397.9 355.0,406.9 357.0,415.9 358.0,423.4 358.1,431.6 357.8,438.4 356.4,447.4 354.1,455.6 350.3,465.4 346.7,472.1 342.2,478.9 336.7,485.6 331.1,491.2 323.6,497.3 316.9,501.7 310.9,504.9 304.1,507.7 296.6,510.1 289.9,511.7 284.6,512.4 280.1,512.7Z"/>
<path fill-rule="evenodd" fill="#51ff00" d="M279.4,509.7 270.5,509.6 263.4,508.9 255.9,507.4 248.4,505.1 241.1,502.1 232.9,497.7 225.5,492.4 221.1,488.6 215.6,483.1 210.4,476.6 207.4,472.1 202.9,463.8 199.9,456.5 197.6,449.0 196.1,441.2 195.4,433.1 195.4,427.0 196.1,418.7 197.6,410.9 199.9,403.4 202.9,396.1 206.6,389.0 211.1,382.3 216.4,376.0 222.3,370.1 226.9,366.4 235.9,360.4 241.8,357.4 249.3,354.4 257.2,352.1 265.7,350.6 271.9,350.2 277.9,350.2 284.7,350.6 293.2,352.1 301.1,354.4 310.1,358.1 316.9,361.9 323.5,366.4 329.0,370.9 334.9,376.9 338.6,381.5 343.1,388.0 347.6,396.4 350.6,403.8 352.9,411.5 354.4,419.6 355.0,427.1 354.8,435.4 353.6,444.8 352.1,451.2 349.9,458.1 346.9,465.0 343.9,470.6 339.4,477.4 334.1,483.7 328.4,489.4 322.9,494.0 316.3,498.4 309.3,502.1 302.0,505.1 294.5,507.4 287.1,508.9 279.4,509.7Z"/>
<path fill-rule="evenodd" fill="#86ff00" d="M281.6,505.2 274.9,505.4 268.6,505.1 262.7,504.4 253.1,502.1 245.1,499.1 238.9,496.2 232.8,492.4 226.8,487.9 221.6,483.1 217.1,478.1 212.6,472.1 208.1,464.6 204.4,456.1 202.1,449.0 200.6,441.9 199.9,435.6 199.9,424.1 200.6,418.0 202.9,408.2 205.1,401.8 208.1,395.3 211.9,388.8 215.6,383.6 219.4,379.1 225.4,373.1 232.1,367.9 238.1,364.1 244.1,361.1 251.8,358.1 257.0,356.6 264.8,355.1 272.6,354.5 277.9,354.5 285.6,355.1 293.3,356.6 300.7,358.9 307.9,361.9 314.8,365.6 321.3,370.1 326.6,374.6 331.1,379.3 336.4,385.8 340.8,392.6 343.9,398.6 346.9,406.3 348.4,411.4 349.9,418.9 350.6,426.9 350.6,433.1 349.9,440.9 348.4,448.4 346.1,455.7 343.1,462.8 340.1,468.4 335.6,475.2 330.4,481.4 323.6,487.8 317.6,492.4 310.1,496.9 303.5,499.9 297.2,502.1 287.7,504.4 281.6,505.2Z"/>
<path fill-rule="evenodd" fill="#bcff00" d="M284.6,497.0 278.6,497.6 271.1,497.6 266.6,497.2 259.1,495.8 251.6,493.5 246.4,491.3 239.6,487.6 235.1,484.6 230.6,481.0 224.8,475.1 220.5,469.9 217.5,465.4 214.5,460.1 211.6,453.4 209.9,448.1 208.4,441.4 207.6,434.6 207.5,427.1 207.9,421.9 209.2,414.4 210.7,409.1 212.9,403.1 215.9,397.1 219.6,391.1 224.4,385.1 228.4,380.9 233.6,376.4 238.9,372.7 244.1,369.7 250.9,366.7 257.6,364.5 265.1,362.9 271.9,362.2 277.9,362.2 284.6,362.8 289.9,363.8 297.4,365.9 303.4,368.3 310.1,371.9 314.6,374.8 320.6,379.7 324.7,383.6 328.5,388.1 333.2,394.9 336.1,400.1 338.9,406.9 340.6,412.1 342.2,419.6 342.9,426.4 342.9,433.9 342.1,440.6 340.7,447.4 339.1,452.6 336.2,459.4 332.9,465.4 329.4,470.6 325.0,475.9 319.9,480.9 315.4,484.5 309.4,488.4 304.1,491.2 296.6,494.2 290.6,495.9 284.6,497.0Z"/>
<path fill-rule="evenodd" fill="#f2ff00" d="M277.1,492.4 272.6,492.4 265.5,491.6 258.5,490.1 253.8,488.6 250.1,487.1 244.1,484.1 237.4,479.7 232.9,475.9 229.1,472.1 225.4,467.6 220.9,460.9 217.9,454.9 215.7,448.9 214.1,443.2 213.4,439.1 212.8,430.9 213.4,421.1 214.1,416.6 217.1,406.8 219.4,401.9 222.4,396.6 226.1,391.3 229.9,387.0 235.9,381.4 238.9,379.1 243.4,376.1 250.8,372.4 257.1,370.1 262.9,368.7 267.8,367.9 273.4,367.6 282.4,367.9 287.3,368.6 293.3,370.1 297.6,371.6 304.3,374.6 309.4,377.6 314.5,381.4 317.9,384.4 322.9,389.6 325.9,393.4 329.6,399.3 332.6,405.4 334.9,411.5 336.4,417.3 337.2,421.9 337.6,428.6 337.2,437.6 336.4,442.5 334.9,448.3 333.4,452.7 331.1,457.7 328.1,463.1 324.4,468.4 319.9,473.6 314.0,478.9 311.0,481.1 304.9,484.9 300.3,487.1 294.4,489.4 288.8,490.9 284.9,491.6 277.1,492.4Z"/>
<path fill-rule="evenodd" fill="#ffd700" d="M278.6,481.9 271.9,481.9 265.9,481.2 257.6,479.0 253.8,477.4 249.4,475.1 244.7,472.1 241.0,469.1 237.4,465.7 234.4,462.3 231.4,458.1 228.4,452.8 226.1,447.4 224.6,442.4 223.8,438.4 223.2,432.4 223.2,427.1 223.9,421.1 224.7,417.4 226.1,412.5 228.4,407.1 230.6,403.0 233.6,398.6 236.6,394.9 240.4,391.2 244.1,388.1 248.6,385.1 252.9,382.9 258.4,380.6 263.6,379.2 271.9,378.0 277.1,377.9 282.4,378.4 286.9,379.2 292.0,380.6 295.9,382.1 301.7,385.1 306.3,388.1 309.9,391.1 313.1,394.3 316.9,398.8 319.9,403.1 322.1,407.4 324.4,412.9 325.9,418.1 326.7,421.9 327.2,427.1 327.2,431.6 326.7,437.6 325.9,441.8 324.4,447.0 322.9,450.8 320.6,455.3 317.6,460.1 314.6,463.9 310.3,468.4 306.7,471.4 303.4,473.7 298.2,476.6 292.9,478.9 288.0,480.4 284.6,481.2 278.6,481.9Z"/>
<path fill-rule="evenodd" fill="#ffa100" d="M280.9,467.7 274.9,467.9 269.6,467.7 265.8,466.9 261.3,465.4 257.9,463.9 254.0,461.6 250.9,459.4 245.7,454.1 242.6,449.7 239.6,443.7 238.6,439.9 238.1,439.2 237.9,436.9 237.4,435.4 237.4,424.9 238.1,420.9 238.7,419.6 238.9,418.1 239.4,417.4 240.4,414.3 241.9,411.4 244.9,406.8 248.2,403.1 252.4,399.4 257.0,396.4 264.3,393.4 271.9,391.9 278.6,391.9 286.2,393.4 291.8,395.6 298.1,399.4 302.2,403.1 305.6,406.9 308.6,411.7 311.6,418.8 313.2,425.6 313.2,433.9 312.4,438.4 310.1,445.2 307.9,449.6 306.4,451.9 303.4,455.6 301.2,457.9 295.2,462.4 289.2,465.4 284.7,466.9 280.9,467.7Z"/>
<g class="fl"><path d="M236.3,487.5 265.9,486.9 280.3,485.9 288.2,484.9 296.9,483.4 303.8,481.6 312.0,478.3 316.0,475.7"/>
<path d="M242.9,414.0 258.7,379.9"/>
<path d="M331.3,461.4 332.9,461.2 334.9,460.0 337.6,457.0 340.9,450.6 342.0,447.6 342.3,445.2 341.9,442.9 338.7,436.4 335.8,428.1 333.9,420.3 332.5,412.5"/>
<path d="M328.1,459.1 332.0,453.1 334.9,445.6 335.5,440.1 334.8,434.5"/>
<path d="M302.0,372.0 307.2,374.0 312.8,377.1 316.6,378.1 322.2,377.6 332.2,374.9"/>
<path d="M216.8,384.4 212.8,396.5 209.0,404.5 207.6,408.2 206.5,413.7 206.1,419.3 206.4,424.1 207.1,428.0 211.9,444.1 215.5,459.7"/>
<path d="M217.2,395.4 219.7,403.8 220.1,408.6 215.8,437.9 215.3,445.1"/>
<path d="M212.0,433.4 211.9,427.8 214.4,408.7 213.9,403.2"/>
<path d="M312.2,398.7 315.9,401.7 318.6,404.7 320.9,408.0 321.9,411.0 324.0,433.3 324.1,438.1 323.2,445.2 320.8,452.0"/>
<path d="M235.6,352.1 255.7,346.6 276.1,342.4"/>
<path d="M192.2,427.0 193.0,432.5 195.6,442.6"/>
<path d="M199.9,387.3 207.4,378.0 218.1,366.1 224.9,360.6 233.3,355.9"/>
<path d="M265.1,490.0 288.0,493.4 292.0,493.5 296.0,493.0 305.9,489.9 313.1,486.4 315.0,485.0 317.1,482.6 317.8,481.1 318.0,478.8"/>
<path d="M198.8,445.0 200.3,452.8 200.8,458.4 201.5,460.7 202.9,462.7 212.8,473.2"/>
<path d="M267.4,510.5 284.0,513.4"/>
<path d="M294.5,377.5 298.2,381.7 300.8,385.7 302.1,386.7 305.0,388.0 310.4,389.5"/>
<path d="M241.1,374.1 242.4,372.1 244.6,369.8 248.3,368.3 253.0,367.7 260.2,368.1"/>
<path d="M286.3,358.4 291.1,344.0"/>
<path d="M298.6,367.6 302.9,364.0 306.7,360.0 308.9,356.6 311.8,350.9"/>
<path d="M226.1,399.5 225.6,393.1 225.6,385.9 226.1,381.9 227.3,378.1 229.5,374.7 233.5,370.9 238.3,367.9 242.7,366.1"/>
<path d="M356.4,412.8 358.7,417.9 360.9,425.6"/>
<path d="M352.5,390.9 353.2,397.3 354.2,401.2 355.9,404.8 358.5,408.8"/>
<path d="M342.2,471.5 345.9,466.2 349.0,459.8 351.9,450.6 352.7,445.1"/></g>
<g class="sl"><path d="M222.4,477.8C223.3,474.1 225.6,462.8 227.8,455.5C230.0,448.1 232.5,440.8 235.5,433.8C238.5,426.8 242.0,419.9 245.8,413.2C249.5,406.5 253.8,400.2 258.0,393.7C262.1,387.3 266.9,381.2 270.7,374.5C274.4,367.9 278.7,357.2 280.3,353.7" stroke-width="0.70"/>
<path d="M223.6,475.1C224.6,471.6 227.2,460.9 229.6,454.0C231.9,447.1 234.6,440.2 237.6,433.5C240.7,426.9 244.2,420.3 248.0,414.0C251.7,407.6 256.0,401.6 260.1,395.5C264.2,389.3 268.9,383.5 272.6,377.2C276.2,370.8 280.4,360.5 282.0,357.2" stroke-width="0.70"/>
<path d="M224.8,472.3C225.9,469.0 228.9,459.1 231.4,452.5C233.9,446.0 236.6,439.5 239.8,433.2C242.9,426.9 246.4,420.8 250.2,414.8C253.9,408.8 258.1,403.0 262.2,397.2C266.2,391.4 270.9,385.9 274.5,379.8C278.1,373.7 282.2,363.9 283.7,360.7" stroke-width="0.70"/>
<path d="M226.0,469.6C227.2,466.5 230.5,457.2 233.2,451.1C235.8,445.0 238.7,438.9 241.9,433.0C245.1,427.0 248.6,421.2 252.3,415.6C256.1,409.9 260.3,404.5 264.3,399.0C268.3,393.4 272.9,388.3 276.4,382.5C280.0,376.7 284.0,367.2 285.5,364.1" stroke-width="0.70"/>
<path d="M227.2,466.8C228.5,464.0 232.1,455.3 234.9,449.6C237.7,443.9 240.7,438.2 244.0,432.7C247.3,427.1 250.8,421.7 254.5,416.3C258.3,411.0 262.4,405.9 266.4,400.7C270.3,395.5 274.9,390.6 278.4,385.1C281.8,379.6 285.7,370.5 287.2,367.6" stroke-width="0.70"/>
<path d="M228.4,464.1C229.8,461.4 233.8,453.4 236.7,448.2C239.7,442.9 242.8,437.6 246.1,432.4C249.4,427.2 253.0,422.1 256.7,417.1C260.5,412.1 264.5,407.3 268.5,402.4C272.4,397.5 276.9,393.0 280.3,387.7C283.7,382.5 287.5,373.9 288.9,371.1" stroke-width="0.70"/>
<path d="M229.7,461.3C231.1,458.9 235.4,451.6 238.5,446.7C241.6,441.8 244.8,436.9 248.2,432.1C251.6,427.3 255.2,422.6 258.9,417.9C262.7,413.2 266.7,408.8 270.6,404.2C274.4,399.6 278.9,395.3 282.2,390.4C285.6,385.5 289.3,377.2 290.7,374.6" stroke-width="0.70"/>
<path d="M230.9,458.6C232.4,456.4 237.0,449.7 240.3,445.2C243.5,440.8 246.8,436.3 250.3,431.9C253.8,427.4 257.4,423.0 261.1,418.7C264.9,414.4 268.8,410.2 272.7,405.9C276.5,401.7 280.9,397.7 284.2,393.0C287.5,388.4 291.0,380.5 292.4,378.0" stroke-width="0.70"/>
<path d="M232.1,455.8C233.7,453.8 238.7,447.8 242.1,443.8C245.5,439.7 248.9,435.6 252.4,431.6C256.0,427.5 259.6,423.5 263.3,419.5C267.0,415.5 271.0,411.6 274.8,407.7C278.6,403.7 282.9,400.0 286.1,395.7C289.3,391.3 292.8,383.9 294.2,381.5" stroke-width="0.70"/>
<path d="M233.3,453.1C235.1,451.3 240.3,446.0 243.9,442.3C247.4,438.7 250.9,435.0 254.5,431.3C258.2,427.6 261.8,423.9 265.5,420.3C269.2,416.6 273.1,413.1 276.9,409.4C280.6,405.8 284.9,402.4 288.0,398.3C291.2,394.3 294.6,387.2 295.9,385.0" stroke-width="0.70"/>
<path d="M234.5,450.3C236.4,448.8 241.9,444.1 245.6,440.9C249.3,437.6 253.0,434.3 256.7,431.0C260.3,427.7 264.0,424.4 267.7,421.0C271.4,417.7 275.3,414.5 279.0,411.2C282.7,407.8 286.8,404.8 290.0,401.0C293.1,397.2 296.3,390.5 297.6,388.4" stroke-width="0.70"/>
<path d="M235.7,447.6C237.7,446.2 243.6,442.2 247.4,439.4C251.3,436.6 255.0,433.7 258.8,430.8C262.5,427.8 266.2,424.8 269.9,421.8C273.6,418.9 277.4,416.0 281.1,412.9C284.7,409.9 288.8,407.1 291.9,403.6C294.9,400.1 298.1,393.9 299.4,391.9" stroke-width="0.70"/>
<path d="M236.4,446.0C238.7,444.6 245.9,440.4 250.6,437.4C255.2,434.4 259.7,431.1 264.2,427.9C268.7,424.7 273.2,421.5 277.6,418.1C281.9,414.7 286.6,411.5 290.3,407.6C294.1,403.6 298.4,396.6 300.0,394.5" stroke-width="0.70"/>
<path d="M235.2,449.4C237.7,447.9 245.3,443.8 250.2,440.8C255.1,437.8 259.8,434.6 264.6,431.4C269.4,428.3 274.2,425.2 278.8,421.8C283.4,418.4 288.4,415.1 292.2,411.0C295.9,406.9 299.9,399.3 301.4,397.0" stroke-width="0.70"/>
<path d="M234.1,452.7C236.7,451.3 244.6,447.1 249.8,444.1C254.9,441.2 260.0,438.1 265.0,435.0C270.1,431.9 275.3,428.9 280.1,425.5C284.9,422.0 290.2,418.7 294.0,414.4C297.8,410.1 301.4,402.0 302.8,399.5" stroke-width="0.70"/>
<path d="M233.0,456.1C235.7,454.6 244.0,450.4 249.4,447.5C254.8,444.6 260.1,441.5 265.5,438.5C270.8,435.4 276.3,432.6 281.3,429.1C286.4,425.7 292.0,422.3 295.8,417.8C299.6,413.3 302.8,404.7 304.2,402.1" stroke-width="0.70"/>
<path d="M231.8,459.4C234.7,458.0 243.3,453.8 249.0,450.9C254.7,447.9 260.3,445.0 265.9,442.0C271.5,439.0 277.3,436.3 282.6,432.8C287.9,429.3 293.8,425.9 297.6,421.2C301.4,416.5 304.3,407.4 305.7,404.6" stroke-width="0.70"/>
<path d="M230.7,462.8C233.7,461.4 242.6,457.1 248.6,454.2C254.5,451.3 260.4,448.5 266.3,445.5C272.2,442.6 278.3,439.9 283.8,436.5C289.4,433.0 295.5,429.5 299.4,424.6C303.3,419.8 305.8,410.1 307.1,407.2" stroke-width="0.70"/>
<path d="M229.6,466.1C232.7,464.7 242.0,460.4 248.2,457.6C254.4,454.7 260.6,451.9 266.7,449.0C272.9,446.1 279.4,443.6 285.1,440.1C290.9,436.6 297.3,433.1 301.2,428.0C305.1,423.0 307.3,412.8 308.5,409.7" stroke-width="0.70"/>
<path d="M228.4,469.5C231.7,468.1 241.3,463.8 247.8,460.9C254.2,458.1 260.7,455.4 267.2,452.6C273.6,449.7 280.4,447.3 286.4,443.8C292.3,440.3 299.1,436.7 303.0,431.5C307.0,426.2 308.8,415.5 309.9,412.3" stroke-width="0.70"/>
<path d="M227.3,472.9C230.7,471.4 240.7,467.1 247.4,464.3C254.1,461.5 260.9,458.9 267.6,456.1C274.3,453.3 281.4,451.0 287.6,447.5C293.8,443.9 300.9,440.3 304.9,434.9C308.8,429.4 310.2,418.2 311.3,414.8" stroke-width="0.70"/>
<path d="M226.2,476.2C229.6,474.8 240.0,470.4 247.0,467.6C254.0,464.9 261.0,462.3 268.0,459.6C275.0,456.8 282.4,454.7 288.9,451.1C295.3,447.6 302.7,443.9 306.7,438.3C310.6,432.7 311.7,420.8 312.7,417.4" stroke-width="0.70"/>
<path d="M221.4,482.6C224.5,481.3 233.7,477.1 239.9,474.8C246.2,472.5 252.4,470.2 258.9,468.7C265.3,467.1 272.1,466.4 278.7,465.4C285.3,464.3 291.9,462.7 298.5,462.5C305.2,462.2 315.1,463.6 318.5,463.8" stroke-width="0.70"/>
<path d="M222.4,481.2C225.5,480.0 234.6,475.9 240.7,473.7C246.9,471.4 253.1,469.2 259.5,467.6C265.8,465.9 272.4,465.0 278.9,463.8C285.4,462.6 292.0,461.1 298.3,460.2C304.7,459.3 313.9,458.7 317.0,458.4" stroke-width="0.70"/>
<path d="M223.5,479.9C226.5,478.7 235.5,474.8 241.6,472.5C247.7,470.3 253.8,468.2 260.1,466.5C266.3,464.8 272.8,463.7 279.1,462.3C285.4,460.9 292.0,459.6 298.1,458.0C304.2,456.5 312.7,453.8 315.6,453.0" stroke-width="0.70"/>
<path d="M224.5,478.5C227.5,477.3 236.4,473.6 242.4,471.4C248.4,469.2 254.5,467.2 260.7,465.4C266.8,463.7 273.1,462.4 279.3,460.8C285.5,459.2 292.1,458.0 297.9,455.8C303.7,453.6 311.4,449.0 314.2,447.6" stroke-width="0.70"/>
<path d="M225.5,477.2C228.5,476.0 237.3,472.4 243.2,470.3C249.2,468.1 255.2,466.2 261.3,464.4C267.3,462.5 273.5,461.0 279.5,459.2C285.6,457.4 292.1,456.4 297.6,453.5C303.2,450.7 310.2,444.1 312.7,442.2" stroke-width="0.70"/>
<path d="M221.4,474.6C221.8,471.4 223.1,461.5 223.9,454.9C224.7,448.4 225.5,441.8 226.3,435.2C227.2,428.7 228.0,422.1 228.8,415.5C229.6,409.0 230.5,402.4 231.1,395.8C231.8,389.2 232.3,379.3 232.5,376.0" stroke-width="0.70"/>
<path d="M221.9,472.5C222.5,469.3 224.1,459.6 225.2,453.1C226.3,446.7 227.5,440.3 228.7,433.8C229.9,427.4 231.1,421.0 232.3,414.5C233.4,408.1 234.7,401.7 235.8,395.3C236.9,388.8 238.4,379.2 238.9,376.0" stroke-width="0.70"/>
<path d="M222.5,470.4C223.1,467.2 225.1,457.7 226.5,451.3C227.9,445.0 229.5,438.7 231.1,432.4C232.6,426.1 234.2,419.9 235.7,413.6C237.3,407.3 238.9,401.0 240.5,394.7C242.1,388.5 244.5,379.1 245.3,376.0" stroke-width="0.70"/>
<path d="M223.0,468.3C223.8,465.2 226.1,455.8 227.8,449.5C229.6,443.3 231.5,437.2 233.4,431.1C235.3,424.9 237.3,418.7 239.2,412.6C241.2,406.5 243.1,400.3 245.1,394.2C247.2,388.1 250.6,379.0 251.6,376.0" stroke-width="0.70"/>
<path d="M221.4,482.6C222.5,479.7 225.4,470.9 227.8,465.1C230.2,459.3 232.8,452.9 235.7,447.6C238.6,442.3 243.7,435.7 245.3,433.3" stroke-width="1.50"/>
<path d="M221.4,482.6C223.8,481.3 230.2,476.9 235.7,474.6C241.3,472.4 247.4,470.4 254.8,468.9C262.2,467.4 272.3,466.5 280.3,465.7C288.2,465.0 295.9,464.8 302.5,464.5C309.2,464.1 317.1,463.7 320.0,463.5" stroke-width="1.30"/>
<path d="M226.2,477.8C229.3,477.2 238.6,475.3 244.9,474.3C251.1,473.3 257.4,472.6 263.7,471.8C270.0,471.1 276.3,470.8 282.6,469.9C288.9,469.1 295.1,468.0 301.4,467.0C307.6,465.9 316.9,464.1 320.0,463.5" stroke-width="0.70"/>
<path d="M225.9,479.4C229.0,478.8 238.4,476.9 244.7,475.9C251.1,474.9 257.4,474.2 263.8,473.4C270.1,472.7 276.5,472.4 282.9,471.5C289.2,470.6 295.6,469.6 301.8,468.3C308.0,466.9 317.0,464.3 320.0,463.5" stroke-width="0.70"/>
<path d="M225.5,481.0C228.7,480.4 238.2,478.5 244.6,477.5C251.0,476.5 257.4,475.7 263.8,475.0C270.3,474.3 276.7,474.0 283.1,473.1C289.5,472.2 296.1,471.2 302.2,469.6C308.4,468.0 317.1,464.5 320.0,463.5" stroke-width="0.70"/>
<path d="M225.2,482.6C228.4,482.0 238.1,480.1 244.5,479.1C251.0,478.1 257.4,477.3 263.9,476.6C270.4,475.8 277.0,475.5 283.4,474.6C289.9,473.7 296.5,472.8 302.6,470.9C308.8,469.1 317.1,464.7 320.0,463.5" stroke-width="0.70"/>
<path d="M224.9,484.2C228.2,483.6 237.9,481.7 244.4,480.7C250.9,479.7 257.5,478.9 264.0,478.2C270.6,477.4 277.2,477.1 283.7,476.2C290.2,475.2 297.0,474.4 303.1,472.2C309.1,470.1 317.2,465.0 320.0,463.5" stroke-width="0.70"/>
<path d="M224.6,485.8C227.9,485.2 237.7,483.3 244.3,482.3C250.9,481.3 257.5,480.5 264.1,479.8C270.7,479.0 277.4,478.7 284.0,477.7C290.5,476.7 297.5,475.9 303.5,473.6C309.5,471.2 317.3,465.2 320.0,463.5" stroke-width="0.70"/>
<path d="M221.4,482.6C223.8,483.9 230.2,488.7 235.7,490.5C241.3,492.4 248.5,492.7 254.8,493.7C261.2,494.8 267.5,495.8 273.9,496.9C280.3,498.0 289.8,499.6 293.0,500.1" stroke-width="0.70"/>
<path d="M221.4,482.6C223.3,484.4 227.5,490.8 232.5,493.7C237.6,496.6 245.3,498.2 251.6,500.1C258.0,501.9 264.4,503.5 270.7,504.9C277.1,506.2 286.6,507.5 289.8,508.0" stroke-width="0.70"/>
<path d="M221.4,482.6C222.7,485.0 225.4,493.2 229.4,496.9C233.3,500.6 239.4,502.7 245.3,504.9C251.1,507.0 261.2,508.8 264.4,509.6" stroke-width="0.70"/>
<path d="M221.4,482.6C221.1,485.0 219.0,492.9 219.8,496.9C220.6,500.9 223.0,503.8 226.2,506.5C229.4,509.1 236.8,511.8 238.9,512.8" stroke-width="0.70"/>
<path d="M221.4,482.6C220.6,483.9 218.5,488.2 216.6,490.5C214.8,492.9 211.9,494.8 210.3,496.9C208.7,499.0 207.6,502.2 207.1,503.3" stroke-width="0.70"/>
<path d="M221.4,482.6C220.9,481.3 219.6,478.1 218.2,474.6C216.9,471.2 215.3,466.1 213.5,461.9C211.6,457.7 209.2,453.4 207.1,449.2C205.0,444.9 201.8,438.6 200.7,436.5" stroke-width="0.70"/>
<path d="M221.4,482.6C220.6,481.8 219.0,479.1 216.6,477.8C214.2,476.5 210.3,476.2 207.1,474.6C203.9,473.0 199.1,469.3 197.5,468.3" stroke-width="0.70"/>
<path d="M221.4,482.6C221.1,480.2 220.1,474.4 219.8,468.3C219.6,462.2 219.3,453.4 219.8,446.0C220.3,438.6 221.9,430.6 223.0,423.7C224.1,416.8 225.7,407.8 226.2,404.6" stroke-width="0.70"/>
<path d="M221.4,482.6C221.7,479.1 221.9,468.5 223.0,461.9C224.1,455.3 226.4,449.7 227.8,442.8C229.1,435.9 230.7,428.0 231.0,420.5C231.2,413.1 229.6,402.0 229.4,398.3" stroke-width="0.70"/>
<path d="M289.8,371.2C290.3,373.1 291.4,378.9 293.0,382.4C294.6,385.8 298.3,390.3 299.4,391.9" stroke-width="0.70"/>
<path d="M289.8,371.2C291.9,371.0 298.3,370.4 302.5,369.6C306.8,368.8 311.0,367.5 315.3,366.5C319.5,365.4 325.9,363.8 328.0,363.3" stroke-width="0.70"/>
<path d="M289.8,371.2C287.7,372.0 281.3,375.2 277.1,376.0C272.8,376.8 268.6,376.5 264.4,376.0C260.1,375.5 253.8,373.3 251.6,372.8" stroke-width="0.70"/>
<path d="M289.8,371.2C287.2,371.0 279.2,371.0 273.9,369.6C268.6,368.3 263.3,364.9 258.0,363.3C252.7,361.7 244.7,360.6 242.1,360.1" stroke-width="0.70"/>
<circle cx="299.4" cy="391.9" r="1.80" fill="#1a1a00" stroke="none"/>
<path d="M299.4,391.9C300.4,394.0 304.1,400.4 305.7,404.6C307.3,408.9 308.1,412.6 308.9,417.4C309.7,422.1 310.0,428.0 310.5,433.3C311.0,438.6 310.5,444.1 312.1,449.2C313.7,454.2 318.7,461.1 320.0,463.5" stroke-width="0.70"/>
<path d="M299.4,391.9C301.0,393.0 306.3,395.1 308.9,398.3C311.6,401.5 313.7,406.2 315.3,411.0C316.9,415.8 317.9,421.1 318.5,426.9C319.0,432.7 318.5,442.8 318.5,446.0" stroke-width="0.70"/>
<path d="M299.4,391.9C301.5,392.4 307.8,393.5 312.1,395.1C316.3,396.7 321.1,398.8 324.8,401.5C328.5,404.1 331.7,407.3 334.4,411.0C337.0,414.7 339.7,421.6 340.7,423.7" stroke-width="0.70"/>
<path d="M299.4,391.9C302.0,391.9 310.5,391.4 315.3,391.9C320.0,392.4 323.8,393.5 328.0,395.1C332.2,396.7 336.5,398.8 340.7,401.5C345.0,404.1 351.3,409.4 353.5,411.0" stroke-width="0.70"/>
<path d="M343.9,374.4C344.4,377.3 346.3,386.3 347.1,391.9C347.9,397.5 347.6,402.5 348.7,407.8C349.7,413.1 352.7,421.1 353.5,423.7" stroke-width="0.70"/>
<path d="M343.9,374.4C343.4,377.3 341.8,385.8 340.7,391.9C339.7,398.0 337.5,404.6 337.5,411.0C337.5,417.4 338.6,424.8 340.7,430.1C342.8,435.4 348.7,440.7 350.3,442.8" stroke-width="0.70"/>
<path d="M343.9,374.4C342.8,376.3 339.7,380.5 337.5,385.5C335.4,390.6 332.8,398.8 331.2,404.6C329.6,410.5 328.0,415.2 328.0,420.5C328.0,425.8 330.6,433.8 331.2,436.5" stroke-width="0.70"/>
<path d="M343.9,374.4C342.3,374.1 337.5,374.7 334.4,372.8C331.2,371.0 328.0,365.9 324.8,363.3C321.6,360.6 316.9,358.0 315.3,356.9" stroke-width="0.70"/>
<path d="M353.5,423.7C354.0,426.9 356.6,436.5 356.6,442.8C356.6,449.2 355.0,456.1 353.5,461.9C351.9,467.7 348.1,475.2 347.1,477.8" stroke-width="0.70"/>
<path d="M350.3,442.8C349.2,445.5 346.6,454.5 343.9,458.7C341.3,463.0 338.3,467.5 334.4,468.3C330.4,469.1 322.4,464.3 320.0,463.5" stroke-width="0.70"/>
<path d="M331.2,436.5C330.6,438.6 329.6,445.5 328.0,449.2C326.4,452.9 323.0,456.3 321.6,458.7C320.3,461.1 320.3,462.7 320.0,463.5" stroke-width="0.70"/>
<path d="M320.0,463.5C321.4,465.4 325.1,471.2 328.0,474.6C330.9,478.1 334.9,481.5 337.5,484.2C340.2,486.8 342.8,489.5 343.9,490.5" stroke-width="0.70"/>
<path d="M320.0,463.5C320.8,466.4 324.6,476.0 324.8,481.0C325.1,486.0 323.2,489.5 321.6,493.7C320.0,498.0 316.3,504.3 315.3,506.5" stroke-width="0.70"/>
<path d="M293.0,500.1C296.2,499.0 306.3,496.4 312.1,493.7C317.9,491.1 323.2,487.4 328.0,484.2C332.8,481.0 338.6,476.2 340.7,474.6" stroke-width="0.70"/>
<path d="M289.8,508.0C293.0,507.2 303.1,505.1 308.9,503.3C314.7,501.4 320.0,499.0 324.8,496.9C329.6,494.8 335.4,491.6 337.5,490.5" stroke-width="0.70"/>
<path d="M200.7,436.5C200.2,433.8 197.5,426.4 197.5,420.5C197.5,414.7 198.6,407.3 200.7,401.5C202.8,395.6 206.6,390.3 210.3,385.5C214.0,380.8 220.9,374.9 223.0,372.8" stroke-width="0.70"/>
<path d="M226.2,404.6C225.1,402.0 220.3,394.0 219.8,388.7C219.3,383.4 220.3,377.1 223.0,372.8C225.7,368.6 231.0,365.9 235.7,363.3C240.5,360.6 249.0,358.0 251.6,356.9" stroke-width="0.70"/>
<path d="M229.4,398.3C231.0,395.6 235.2,386.6 238.9,382.4C242.6,378.1 247.4,374.9 251.6,372.8C255.9,370.7 262.2,370.2 264.4,369.6" stroke-width="0.70"/>
<path d="M223.0,372.8C225.7,371.2 233.1,365.9 238.9,363.3C244.7,360.6 251.6,358.5 258.0,356.9C264.4,355.3 273.9,354.3 277.1,353.7" stroke-width="0.70"/>
<path d="M207.1,388.7C205.0,391.4 197.0,398.8 194.4,404.6C191.7,410.5 191.7,420.5 191.2,423.7" stroke-width="0.70"/>
<path d="M194.4,446.0L191.2,461.9" stroke-width="0.70"/>
<path d="M251.6,372.8C251.1,375.5 250.0,383.4 248.5,388.7C246.9,394.0 244.2,398.8 242.1,404.6C240.0,410.5 236.8,420.5 235.7,423.7" stroke-width="0.70"/>
<path d="M264.4,376.0C263.3,378.7 260.1,386.1 258.0,391.9C255.9,397.7 252.7,407.8 251.6,411.0" stroke-width="0.70"/>
<path d="M289.8,371.2C290.0,370.4 290.7,368.1 291.2,366.5C291.6,364.9 292.1,363.3 292.5,361.7C293.0,360.1 293.4,358.5 293.8,356.9C294.2,355.4 294.6,353.8 295.0,352.2C295.4,350.6 296.0,348.2 296.2,347.4" stroke-width="0.70"/>
<path d="M289.8,371.2C290.1,370.5 291.1,368.2 291.8,366.6C292.4,365.1 293.1,363.6 293.7,362.0C294.4,360.5 295.0,359.0 295.5,357.4C296.1,355.8 296.6,354.2 297.1,352.6C297.7,351.0 298.5,348.6 298.7,347.8" stroke-width="0.70"/>
<path d="M289.8,371.2C290.2,370.5 291.5,368.3 292.4,366.8C293.2,365.3 294.1,363.9 294.9,362.4C295.8,360.9 296.6,359.4 297.3,357.8C298.0,356.2 298.6,354.6 299.3,353.0C299.9,351.4 300.9,349.0 301.3,348.2" stroke-width="0.70"/>
<path d="M289.8,371.2C290.3,370.5 291.9,368.4 293.0,366.9C294.0,365.5 295.1,364.1 296.1,362.7C297.2,361.2 298.2,359.8 299.1,358.2C299.9,356.7 300.6,355.0 301.4,353.4C302.2,351.8 303.4,349.4 303.8,348.6" stroke-width="0.70"/>
<path d="M289.8,371.2C290.4,370.5 292.3,368.5 293.6,367.1C294.8,365.7 296.1,364.4 297.4,363.0C298.6,361.6 299.8,360.2 300.8,358.6C301.9,357.1 302.7,355.4 303.6,353.8C304.5,352.2 305.9,349.8 306.4,349.0" stroke-width="0.70"/>
<path d="M289.8,371.2C291.7,371.8 297.5,372.9 300.9,374.8C304.3,376.6 306.6,380.8 310.1,382.3C313.5,383.7 317.9,383.8 321.7,383.4C325.5,382.9 329.3,381.1 333.0,379.6C336.7,378.1 342.1,375.3 343.9,374.4" stroke-width="0.70"/>
<path d="M289.8,371.2C291.6,372.1 297.3,374.3 300.7,376.5C304.0,378.8 306.4,383.0 309.9,384.5C313.4,386.0 318.0,386.0 321.9,385.4C325.8,384.8 329.6,382.7 333.3,380.9C337.0,379.0 342.1,375.5 343.9,374.4" stroke-width="0.70"/>
<path d="M289.8,371.2C291.6,372.4 297.1,375.7 300.4,378.3C303.8,380.9 306.1,385.2 309.7,386.7C313.3,388.2 318.2,388.1 322.1,387.4C326.1,386.6 329.9,384.2 333.5,382.1C337.2,379.9 342.2,375.7 343.9,374.4" stroke-width="0.70"/></g>
<path class="ar" d="M226.6,459.9L226.9,462.7L225.0,462.2ZM233.4,439.0L233.4,441.8L231.6,441.1ZM242.6,419.0L242.3,421.8L240.5,420.9ZM253.8,400.1L253.2,402.8L251.6,401.7ZM266.1,381.9L265.4,384.6L263.8,383.4ZM276.4,362.5L276.3,365.3L274.5,364.5ZM227.2,461.9L227.4,464.7L225.5,464.1ZM234.4,441.1L234.3,443.9L232.5,443.2ZM243.8,421.3L243.5,424.0L241.7,423.1ZM255.3,402.5L254.7,405.2L253.0,404.1ZM267.9,384.5L267.2,387.2L265.6,386.0ZM278.5,365.2L278.3,368.0L276.5,367.2ZM230.6,454.5L230.7,457.3L228.8,456.6ZM239.3,434.3L239.0,437.0L237.2,436.2ZM250.0,415.1L249.5,417.8L247.8,416.7ZM262.4,396.9L261.7,399.6L260.1,398.4ZM275.1,378.9L274.5,381.7L272.8,380.6ZM229.1,461.2L229.2,464.0L227.3,463.3ZM237.8,441.0L237.5,443.8L235.7,442.9ZM248.4,421.7L247.9,424.5L246.2,423.4ZM260.8,403.6L260.1,406.3L258.5,405.1ZM274.1,386.0L273.4,388.7L271.7,387.6ZM284.3,366.6L284.2,369.4L282.3,368.6ZM233.2,453.4L233.0,456.1L231.2,455.3ZM243.3,433.8L242.9,436.6L241.1,435.6ZM255.2,415.4L254.6,418.1L252.9,416.9ZM268.6,397.9L267.8,400.5L266.2,399.3ZM281.3,380.0L280.9,382.7L279.1,381.8ZM234.0,453.2L233.7,456.0L231.9,455.1ZM245.0,434.2L244.4,436.9L242.7,435.9ZM257.5,416.1L256.7,418.8L255.1,417.6ZM271.3,399.0L270.4,401.6L268.9,400.3ZM284.0,381.1L283.7,383.9L281.9,383.0ZM238.4,446.9L237.8,449.6L236.1,448.6ZM250.7,428.7L250.0,431.4L248.4,430.2ZM264.3,411.4L263.4,414.1L261.9,412.8ZM278.8,394.9L277.9,397.5L276.4,396.2ZM290.0,376.0L289.7,378.8L287.9,377.9ZM236.6,450.4L235.9,453.1L234.3,452.0ZM249.6,432.7L248.8,435.4L247.3,434.2ZM263.7,415.8L262.7,418.4L261.2,417.1ZM278.6,399.6L277.5,402.2L276.1,400.8ZM290.7,381.4L290.4,384.2L288.6,383.3ZM243.3,442.3L242.4,444.9L240.9,443.6ZM257.7,425.6L256.7,428.2L255.2,426.9ZM272.8,409.7L271.7,412.2L270.3,410.8ZM287.6,393.4L287.0,396.1L285.3,395.0ZM243.1,443.1L242.0,445.6L240.6,444.2ZM258.5,427.3L257.3,429.9L255.9,428.5ZM274.2,412.0L273.0,414.5L271.6,413.0ZM289.5,396.2L288.8,398.9L287.2,397.8ZM248.1,438.7L246.9,441.1L245.5,439.6ZM264.5,423.9L263.2,426.4L261.9,424.9ZM281.0,409.4L279.7,411.9L278.4,410.3ZM295.2,392.8L294.8,395.6L293.0,394.6ZM246.6,440.0L245.1,442.3L243.9,440.7ZM264.0,426.6L262.6,429.0L261.4,427.4ZM281.2,412.8L279.8,415.2L278.6,413.7ZM296.3,397.1L295.9,399.9L294.1,398.8ZM247.3,439.5L245.6,441.7L244.6,440.0ZM265.5,427.0L263.9,429.3L262.8,427.7ZM283.1,413.9L281.7,416.3L280.4,414.7ZM297.8,397.7L297.2,400.4L295.5,399.3ZM249.7,441.0L248.0,443.2L247.0,441.5ZM268.2,429.1L266.6,431.4L265.5,429.7ZM286.1,416.4L284.7,418.8L283.5,417.2ZM299.9,399.5L299.5,402.2L297.7,401.2ZM250.6,443.7L248.9,445.8L247.9,444.1ZM269.5,432.3L267.8,434.5L266.7,432.8ZM287.7,420.0L286.2,422.4L285.0,420.8ZM301.1,402.9L300.8,405.6L299.0,404.7ZM243.7,450.5L241.9,452.6L240.9,450.8ZM263.0,439.9L261.2,442.1L260.2,440.3ZM281.9,428.7L280.3,431.0L279.2,429.3ZM298.2,414.3L297.7,417.0L296.0,416.0ZM248.6,451.1L246.7,453.1L245.8,451.4ZM268.0,440.9L266.2,443.0L265.3,441.2ZM287.1,429.9L285.4,432.1L284.4,430.5ZM301.8,414.0L301.5,416.8L299.7,415.9ZM247.2,454.9L245.3,456.9L244.4,455.1ZM266.9,445.2L265.0,447.3L264.1,445.5ZM286.3,434.9L284.7,437.1L283.6,435.4ZM302.1,420.1L301.8,422.9L300.0,421.9ZM238.6,462.0L236.7,464.0L235.9,462.1ZM258.6,452.8L256.7,454.8L255.9,453.0ZM278.6,443.6L276.7,445.6L275.8,443.8ZM297.3,432.1L295.9,434.5L294.7,432.9ZM307.4,413.0L307.7,415.8L305.7,415.2ZM241.9,463.5L239.9,465.5L239.1,463.7ZM262.1,454.8L260.1,456.7L259.3,454.9ZM282.3,446.0L280.3,448.0L279.5,446.2ZM300.7,434.1L299.4,436.6L298.1,435.1ZM309.3,414.2L309.6,417.0L307.7,416.5ZM241.8,466.6L239.8,468.6L239.0,466.7ZM262.2,458.3L260.1,460.2L259.4,458.3ZM282.6,450.0L280.6,452.0L279.8,450.2ZM301.3,438.7L300.0,441.1L298.7,439.6ZM310.3,419.1L310.7,421.8L308.8,421.4ZM243.2,469.2L241.2,471.1L240.4,469.2ZM263.7,461.3L261.6,463.1L260.9,461.2ZM284.2,453.4L282.3,455.3L281.5,453.5ZM303.1,442.2L301.8,444.6L300.5,443.1ZM311.7,422.5L312.2,425.2L310.2,424.8ZM235.5,476.5L233.5,478.4L232.7,476.6ZM256.3,469.3L254.1,471.0L253.5,469.1ZM277.9,465.5L275.5,466.8L275.2,464.9ZM299.7,462.4L297.2,463.6L297.0,461.6ZM231.2,477.5L229.2,479.4L228.4,477.6ZM251.8,469.8L249.6,471.6L249.0,469.7ZM273.2,464.8L270.8,466.3L270.5,464.3ZM294.8,460.8L292.4,462.2L292.1,460.3ZM236.0,474.7L233.9,476.6L233.2,474.8ZM256.7,467.4L254.5,469.2L253.9,467.3ZM278.1,462.5L275.8,464.0L275.4,462.1ZM299.6,457.6L297.3,459.2L296.8,457.3ZM237.0,473.5L234.9,475.4L234.2,473.5ZM257.8,466.3L255.6,468.0L255.0,466.1ZM279.1,460.8L276.8,462.4L276.3,460.5ZM300.2,454.8L298.2,456.7L297.4,454.9ZM238.1,472.2L236.1,474.1L235.3,472.2ZM258.9,465.1L256.7,466.8L256.2,464.9ZM280.1,459.1L277.9,460.8L277.3,458.8ZM300.7,451.8L299.0,453.9L298.0,452.2ZM223.7,456.2L224.4,458.9L222.4,458.7ZM226.4,434.4L227.1,437.1L225.1,436.8ZM229.2,412.5L229.8,415.2L227.9,415.0ZM231.6,390.7L232.4,393.3L230.4,393.2ZM223.9,460.8L224.4,463.5L222.5,463.2ZM227.7,439.1L228.2,441.9L226.3,441.5ZM231.7,417.5L232.2,420.2L230.3,419.9ZM235.7,395.9L236.2,398.6L234.3,398.2ZM224.6,460.1L225.0,462.9L223.1,462.5ZM229.5,438.7L229.9,441.4L227.9,441.0ZM234.8,417.3L235.1,420.1L233.2,419.6ZM240.1,396.0L240.5,398.7L238.5,398.3ZM226.4,454.9L226.7,457.7L224.8,457.2ZM232.6,433.8L232.8,436.6L230.8,436.0ZM239.1,412.8L239.3,415.6L237.4,415.0ZM245.9,391.9L246.0,394.7L244.1,394.0ZM226.5,468.4L226.5,471.2L224.6,470.5ZM235.4,448.3L235.0,451.0L233.3,450.1ZM237.6,473.9L235.5,475.8L234.8,473.9ZM258.8,468.2L256.4,469.6L256.0,467.6ZM280.6,465.7L278.1,466.9L277.9,464.9ZM302.6,464.5L300.0,465.6L299.9,463.6ZM240.4,475.1L238.0,476.5L237.6,474.6ZM262.1,472.0L259.7,473.3L259.4,471.3ZM284.0,469.8L281.6,471.1L281.3,469.1ZM305.7,466.2L303.3,467.6L303.0,465.7ZM236.6,477.3L234.3,478.8L233.9,476.8ZM258.4,474.1L255.9,475.4L255.7,473.4ZM280.3,471.8L277.8,473.1L277.6,471.1ZM302.0,468.2L299.6,469.7L299.2,467.8ZM243.5,477.7L241.1,479.1L240.8,477.1ZM265.3,474.8L262.8,476.1L262.6,474.1ZM287.2,472.5L284.8,473.8L284.5,471.9ZM308.6,467.6L306.5,469.4L305.8,467.5ZM238.4,480.1L236.1,481.6L235.7,479.6ZM260.2,477.0L257.8,478.3L257.5,476.3ZM282.1,474.8L279.6,476.1L279.4,474.1ZM303.7,470.6L301.4,472.3L300.9,470.4ZM240.1,481.4L237.7,482.8L237.4,480.9ZM261.9,478.4L259.4,479.7L259.2,477.7ZM283.8,476.1L281.4,477.5L281.1,475.5ZM305.2,471.4L303.2,473.3L302.4,471.4ZM237.6,483.4L235.3,484.8L234.9,482.9ZM259.4,480.3L257.0,481.6L256.7,479.6ZM281.3,478.1L278.8,479.4L278.6,477.4ZM302.8,473.8L300.7,475.6L300.1,473.7ZM230.3,488.1L227.5,487.6L228.5,485.9ZM251.5,493.2L248.8,493.9L249.0,491.9ZM273.2,496.8L270.5,497.3L270.8,495.4ZM232.4,493.6L229.7,493.0L230.8,491.3ZM253.2,500.5L250.4,500.8L251.0,498.9ZM274.6,505.6L271.9,506.1L272.3,504.1ZM229.4,496.9L226.9,495.6L228.4,494.3ZM249.2,506.1L246.4,506.3L247.0,504.4ZM219.7,492.6L219.1,489.9L221.1,490.1ZM231.3,509.5L228.5,509.2L229.5,507.4ZM214.0,493.3L215.1,490.7L216.5,492.1ZM217.0,471.4L218.9,473.5L217.0,474.2ZM208.2,451.3L210.3,453.2L208.5,454.1ZM213.7,476.6L216.5,476.7L215.8,478.5ZM220.1,472.2L221.3,474.7L219.4,474.9ZM219.6,450.2L220.5,452.8L218.5,452.8ZM222.2,428.4L222.8,431.1L220.8,430.8ZM225.8,406.7L226.4,409.4L224.4,409.1ZM222.7,464.0L223.4,466.7L221.4,466.5ZM227.8,442.6L228.2,445.4L226.3,445.0ZM230.9,420.9L231.8,423.5L229.8,423.4ZM296.2,387.6L293.9,386.0L295.6,384.9ZM302.0,369.7L299.6,371.1L299.2,369.2ZM323.3,364.4L321.0,366.0L320.5,364.1ZM274.6,376.4L277.0,375.0L277.3,377.0ZM281.3,370.7L284.0,369.9L283.9,371.9ZM260.5,364.2L263.3,364.2L262.5,366.1ZM307.0,408.3L305.2,406.2L307.1,405.5ZM310.2,430.0L309.0,427.5L311.0,427.3ZM313.1,451.7L311.2,449.6L313.1,448.9ZM310.3,400.2L308.0,398.7L309.6,397.5ZM317.7,420.8L316.2,418.4L318.2,418.1ZM318.5,442.7L317.6,440.1L319.6,440.2ZM315.7,396.6L312.9,396.5L313.7,394.6ZM333.2,409.5L330.8,408.2L332.3,406.8ZM310.4,391.7L307.8,392.7L307.8,390.7ZM331.7,396.6L328.9,396.5L329.7,394.7ZM350.2,408.4L347.5,407.6L348.7,406.0ZM346.2,386.4L344.7,384.0L346.7,383.6ZM348.7,408.2L347.3,405.8L349.3,405.5ZM341.8,386.1L341.2,383.3L343.2,383.7ZM337.7,407.7L337.0,405.0L339.0,405.2ZM340.5,429.4L338.6,427.3L340.5,426.6ZM335.4,391.0L335.4,388.3L337.3,388.9ZM329.1,412.1L328.8,409.3L330.8,409.9ZM330.5,433.7L328.9,431.5L330.8,431.0ZM332.0,371.0L334.6,371.8L333.4,373.4ZM356.1,437.0L354.7,434.6L356.7,434.3ZM354.3,458.8L353.9,456.0L355.9,456.4ZM343.2,459.9L343.6,457.2L345.4,458.1ZM325.2,465.9L328.0,466.0L327.2,467.8ZM325.5,453.3L326.2,450.6L327.8,451.8ZM327.2,473.6L324.8,472.2L326.4,470.9ZM342.6,489.3L340.1,488.1L341.5,486.7ZM323.5,474.4L321.8,472.2L323.7,471.6ZM320.9,495.6L320.9,492.8L322.8,493.6ZM309.1,494.9L307.0,496.8L306.3,494.9ZM328.2,484.1L326.6,486.3L325.4,484.7ZM298.8,506.0L296.5,507.5L296.0,505.6ZM319.7,499.2L317.7,501.1L316.9,499.2ZM197.8,424.5L199.3,426.8L197.4,427.2ZM200.2,402.7L200.5,405.5L198.6,405.0ZM211.6,384.0L210.7,386.6L209.1,385.4ZM219.7,388.3L221.2,390.6L219.2,391.0ZM227.1,368.4L225.8,371.0L224.5,369.5ZM246.7,358.7L244.6,360.5L243.9,358.6ZM238.6,382.7L237.8,385.4L236.2,384.1ZM256.9,371.1L254.6,372.7L254.1,370.8ZM231.9,367.1L230.2,369.3L229.2,367.6ZM252.1,358.5L249.9,360.2L249.3,358.3ZM273.6,354.2L271.2,355.6L270.9,353.6ZM201.1,395.3L202.1,392.7L203.6,394.1ZM192.0,414.8L191.4,412.1L193.3,412.3ZM248.9,387.4L248.4,384.7L250.4,385.1ZM240.9,407.9L240.8,405.1L242.7,405.8ZM260.3,385.8L260.4,383.1L262.2,383.8ZM253.1,406.6L252.9,403.8L254.8,404.4ZM293.5,358.1L293.8,360.9L291.8,360.4ZM293.3,363.1L293.2,365.9L291.3,365.1ZM297.5,357.5L297.2,360.3L295.4,359.3ZM297.9,360.0L297.3,362.7L295.6,361.6ZM300.2,359.4L299.4,362.0L297.8,360.8ZM298.5,373.7L295.7,373.9L296.3,371.9ZM317.4,383.6L314.7,384.5L314.8,382.5ZM338.2,377.3L336.3,379.3L335.4,377.5ZM303.0,378.4L300.4,377.6L301.6,376.0ZM322.5,385.3L320.0,386.6L319.8,384.6ZM342.1,375.5L340.5,377.8L339.4,376.1ZM299.9,377.9L297.2,377.2L298.4,375.6ZM318.3,387.9L315.7,388.9L315.7,386.9ZM338.1,379.0L336.6,381.3L335.4,379.7ZM249.8,487.1L247.3,488.2L247.2,486.2ZM271.8,486.6L269.3,487.7L269.2,485.7ZM293.7,484.0L291.3,485.4L290.9,483.5ZM314.4,477.0L312.6,479.1L311.6,477.3ZM247.9,403.4L247.6,406.2L245.8,405.3ZM257.0,383.4L256.9,386.2L255.1,385.4ZM340.9,450.8L340.7,453.6L338.9,452.8ZM336.5,430.2L338.2,432.4L336.3,433.0ZM334.6,446.5L334.8,449.3L332.9,448.7ZM315.4,378.1L312.6,378.1L313.4,376.2ZM214.0,392.7L213.8,389.9L215.7,390.4ZM206.5,413.2L206.0,410.5L208.0,410.9ZM209.1,434.8L207.3,432.7L209.2,432.1ZM214.8,456.1L213.2,453.8L215.2,453.3ZM220.0,405.5L218.6,403.1L220.6,402.8ZM217.4,427.3L216.8,424.6L218.8,424.9ZM212.3,424.6L212.9,427.3L210.9,427.0ZM320.7,407.4L318.4,405.9L320.0,404.7ZM323.6,429.1L322.3,426.7L324.3,426.4ZM248.5,348.5L246.2,350.1L245.7,348.2ZM270.0,343.9L267.6,345.3L267.2,343.3ZM193.9,436.1L192.2,433.8L194.2,433.3ZM209.6,375.4L208.7,378.1L207.2,376.8ZM225.4,360.3L223.8,362.6L222.7,360.9ZM278.3,491.9L275.6,492.5L275.9,490.6ZM300.1,492.0L297.8,493.6L297.3,491.7ZM318.2,480.7L317.8,483.4L316.1,482.5ZM200.8,458.3L199.6,455.8L201.6,455.7ZM281.8,513.2L279.1,513.8L279.4,511.8ZM307.9,389.0L305.2,389.2L305.7,387.2ZM253.1,367.6L250.6,368.8L250.4,366.8ZM289.3,349.9L289.5,352.7L287.6,352.1ZM305.8,361.2L304.5,363.7L303.2,362.2ZM225.8,383.8L226.6,386.5L224.6,386.4ZM239.0,367.5L237.2,369.6L236.3,367.9ZM360.4,423.7L358.8,421.4L360.7,420.9ZM356.9,406.4L354.7,404.7L356.4,403.7ZM349.0,459.7L348.9,462.5L347.1,461.7Z"/>
</g>
<g clip-path="url(#c5)">
<circle cx="458.20" cy="428.20" r="86.80" fill="#51ff00"/>
<path fill-rule="evenodd" fill="#86ff00" d="M466.1,514.2 457.1,514.6 448.9,514.1 440.6,512.8 432.4,510.6 424.9,507.8 417.4,504.3 409.9,499.7 403.2,494.6 397.1,489.0 391.5,482.6 386.5,475.9 382.1,468.4 378.7,460.9 376.1,453.4 374.1,445.1 372.9,436.9 372.5,428.6 372.9,420.4 374.2,412.1 376.3,403.9 379.3,395.6 382.9,388.1 387.0,381.4 392.0,374.6 397.9,368.2 403.9,362.8 410.6,357.8 417.6,353.6 424.9,350.2 433.1,347.2 441.4,345.2 449.6,344.0 458.6,343.6 466.9,344.1 475.1,345.3 483.4,347.5 490.9,350.2 498.4,353.8 505.9,358.4 512.6,363.4 518.6,369.0 524.4,375.4 529.3,382.1 533.3,388.9 536.9,396.4 539.8,404.6 541.8,412.9 543.0,421.1 543.4,429.4 543.0,437.6 541.8,445.9 539.7,454.1 536.7,462.4 533.1,469.9 529.1,476.6 523.9,483.6 517.9,490.1 512.0,495.4 505.1,500.4 498.4,504.5 490.9,508.0 482.6,511.0 474.4,513.0 466.1,514.2Z"/>
<path fill-rule="evenodd" fill="#bcff00" d="M460.1,511.9 453.4,511.8 445.9,511.1 438.3,509.6 428.5,506.6 420.0,502.9 413.5,499.1 407.0,494.6 400.9,489.4 395.6,484.0 390.4,477.4 385.9,470.5 382.1,463.1 379.2,455.6 376.9,447.7 375.4,439.4 374.8,430.9 375.0,422.6 376.1,413.7 377.6,407.2 379.9,400.1 383.6,391.6 387.4,384.9 391.9,378.4 397.8,371.6 403.3,366.4 410.0,361.1 417.2,356.6 424.8,352.9 430.6,350.6 438.4,348.4 446.6,346.9 455.6,346.2 463.9,346.5 472.9,347.6 479.4,349.1 486.4,351.4 494.6,355.0 501.5,358.9 508.9,364.1 514.9,369.4 520.1,375.0 524.6,380.7 529.1,387.6 532.9,394.9 535.9,402.5 538.1,410.4 539.6,418.7 540.3,427.1 540.1,435.4 538.9,444.4 537.4,451.1 535.1,458.0 532.1,465.1 528.3,472.1 523.2,479.6 517.9,485.9 511.9,491.6 505.2,496.9 499.4,500.6 492.2,504.4 484.7,507.4 477.1,509.6 469.1,511.2 460.1,511.9Z"/>
<path fill-rule="evenodd" fill="#f2ff00" d="M458.6,508.9 451.9,508.7 446.3,508.1 441.8,507.4 435.5,505.9 428.8,503.6 421.9,500.6 415.1,496.9 407.7,491.6 401.6,486.3 394.9,478.9 392.6,475.9 388.1,469.0 384.4,461.6 381.4,453.9 379.1,445.6 377.6,435.5 377.5,430.1 377.6,422.4 379.1,412.2 381.4,403.9 383.6,397.9 387.4,390.3 390.4,385.3 394.9,379.1 399.4,373.9 403.2,370.1 410.6,364.1 415.1,361.1 423.4,356.6 430.8,353.6 438.5,351.4 446.6,349.9 456.4,349.3 466.9,349.9 472.0,350.6 478.3,352.1 487.1,355.1 493.5,358.1 500.0,361.9 507.3,367.1 512.3,371.6 517.9,377.6 523.1,384.6 527.6,392.2 530.6,398.6 532.9,404.6 535.1,413.3 535.9,417.4 536.7,427.1 536.6,433.5 535.9,440.9 534.4,448.4 531.4,458.0 528.4,464.8 524.6,471.5 519.4,478.9 514.2,484.9 509.3,489.4 503.6,493.9 495.4,499.1 489.3,502.1 483.6,504.4 475.9,506.7 468.2,508.1 458.6,508.9Z"/>
<path fill-rule="evenodd" fill="#ffd700" d="M465.4,502.9 457.1,503.4 450.4,503.1 442.9,502.2 436.4,500.6 429.7,498.4 423.0,495.4 417.6,492.4 412.1,488.6 406.7,484.1 400.9,478.3 397.1,473.6 392.6,467.0 389.6,461.4 386.6,454.3 384.4,446.9 382.9,439.1 382.3,431.6 382.3,425.6 382.9,418.8 384.4,411.1 386.6,403.7 389.6,396.5 393.4,389.7 397.1,384.3 401.6,378.9 407.5,373.1 412.1,369.3 418.9,364.9 426.1,361.1 433.9,358.2 439.4,356.6 448.0,355.1 456.4,354.7 463.9,355.1 469.6,355.9 476.1,357.4 482.9,359.6 488.1,361.9 493.9,364.9 500.6,369.4 506.0,373.9 511.9,379.8 515.7,384.4 520.2,391.1 523.1,396.8 526.2,403.9 528.4,411.4 529.9,419.3 530.5,427.1 530.4,433.9 529.2,443.6 527.6,449.8 525.4,456.4 522.4,463.1 519.4,468.4 514.1,475.8 508.9,481.6 503.7,486.4 497.7,490.9 491.6,494.5 485.2,497.6 479.1,499.9 473.6,501.4 465.4,502.9Z"/>
<path fill-rule="evenodd" fill="#ffa100" d="M463.9,495.4 457.9,495.8 451.9,495.8 447.4,495.4 439.6,493.9 432.4,491.7 427.1,489.4 421.5,486.4 415.9,482.6 410.5,478.1 405.4,472.9 400.9,467.1 398.0,462.4 394.9,456.4 392.6,450.7 391.1,445.7 389.6,437.6 389.1,430.9 389.2,424.9 389.7,419.6 391.2,412.1 393.3,405.4 395.6,400.0 398.6,394.5 402.4,388.9 406.9,383.5 412.1,378.4 418.0,373.9 422.8,370.9 428.6,368.0 434.6,365.6 439.9,364.1 448.1,362.7 455.6,362.3 462.4,362.6 468.0,363.4 474.2,364.9 480.7,367.1 485.6,369.4 490.9,372.4 496.3,376.1 500.7,379.9 505.8,385.1 510.4,391.0 513.4,395.8 516.4,401.6 518.6,407.4 520.1,412.4 521.7,420.4 522.2,427.1 522.1,433.1 521.6,438.4 520.1,445.9 517.9,453.0 515.6,458.2 512.6,463.7 508.9,469.3 504.4,474.7 499.3,479.6 494.5,483.4 488.7,487.1 482.8,490.1 477.0,492.4 471.9,493.9 463.9,495.4Z"/>
<path fill-rule="evenodd" fill="#ff6b00" d="M461.6,486.4 454.9,486.7 448.9,486.4 440.6,484.9 435.8,483.4 430.4,481.1 424.9,478.2 420.4,475.1 413.6,469.1 409.2,463.9 406.1,459.4 403.1,453.8 400.9,448.4 399.4,443.6 397.9,435.6 397.6,429.4 397.9,422.6 399.4,414.4 401.6,407.6 403.9,402.7 406.1,398.6 409.9,393.3 414.4,388.2 419.6,383.6 424.9,379.9 427.6,378.4 433.9,375.4 438.2,373.9 444.2,372.4 449.2,371.6 454.9,371.5 460.9,371.6 469.2,373.1 474.1,374.6 479.7,376.9 486.3,380.6 489.5,382.9 493.2,385.9 498.4,391.1 501.4,394.9 504.4,399.4 507.4,405.2 509.6,410.9 511.1,416.3 511.9,420.4 512.6,430.1 511.9,438.1 511.1,442.1 509.6,447.4 507.4,453.0 504.4,458.8 501.4,463.3 497.6,467.8 492.5,472.9 488.7,475.9 484.1,478.9 478.2,481.9 472.2,484.1 466.4,485.6 461.6,486.4Z"/>
<path fill-rule="evenodd" fill="#ff3600" d="M460.9,468.4 453.4,468.8 447.8,468.4 444.4,467.7 438.2,465.4 431.6,461.6 428.6,459.4 424.1,454.9 420.4,449.7 417.4,443.6 415.9,439.0 415.1,435.5 414.9,427.1 415.1,422.6 415.9,419.1 417.4,414.4 420.4,408.4 421.9,406.1 424.1,403.1 428.6,398.6 433.9,394.9 439.9,391.9 448.1,389.6 456.4,389.4 460.7,389.6 464.2,390.4 470.7,392.6 477.4,396.4 481.1,399.4 484.1,402.5 487.1,406.3 489.4,409.9 490.9,412.9 492.4,417.0 493.9,423.3 494.0,432.4 493.9,434.8 493.1,438.6 490.9,445.2 487.1,451.9 484.1,455.7 480.4,459.4 475.2,463.1 469.1,466.2 464.7,467.6 460.9,468.4Z"/>
<g class="fl"><path d="M416.9,442.3 419.7,446.2 421.3,450.7 422.8,465.0 422.3,473.0"/>
<path d="M423.2,448.8 426.8,450.7 434.5,452.7 440.1,452.9 448.9,452.2"/>
<path d="M425.4,467.4 427.7,464.2 431.0,460.7 435.3,457.1 438.0,455.4"/>
<path d="M425.4,452.6 426.4,455.6 425.1,463.4"/>
<path d="M471.5,381.5 477.6,385.3 491.3,391.9 496.1,394.8 502.9,400.4 508.3,406.3"/>
<path d="M543.3,438.9 543.1,434.1 542.1,428.6 539.0,418.7"/>
<path d="M505.0,429.0 507.9,435.6 513.1,443.6 513.8,445.9 512.9,448.1 511.6,449.1 510.2,448.6 503.8,441.5"/>
<path d="M498.1,448.2 502.4,451.9 505.6,454.1 508.6,455.3 511.8,455.4"/>
<path d="M374.2,444.9 376.5,447.2 377.7,449.2 380.5,458.4"/>
<path d="M434.5,475.6 445.2,472.2 457.6,469.1 460.8,466.8 465.0,460.9"/>
<path d="M412.7,420.7 417.2,425.2 420.6,427.4 436.8,434.2 458.8,441.5 463.2,443.5 467.8,446.6"/>
<path d="M410.2,366.8 413.7,368.7 416.8,369.3 419.2,369.2 423.1,368.3 434.5,364.7 439.3,363.9 442.5,363.8"/>
<path d="M430.3,473.0 439.9,465.7 446.7,461.5 453.2,458.6 466.2,454.6"/>
<path d="M477.9,461.2 487.6,490.8"/>
<path d="M514.8,390.3 526.8,407.2 532.5,417.8"/>
<path d="M489.4,456.7 493.8,461.4 498.2,464.8 501.2,465.9 505.2,465.9"/>
<path d="M483.9,456.2 493.5,471.9"/>
<path d="M427.8,373.8 431.1,377.3 435.4,384.0 438.8,387.4"/>
<path d="M477.8,446.1 478.7,443.0 479.3,439.1 479.2,435.9 478.3,432.0"/>
<path d="M390.7,416.1 390.7,413.7 391.4,410.5 393.9,405.5"/></g>
<g class="sl"><path d="M399.6,363.3C399.4,365.9 397.8,373.9 398.0,379.2C398.3,384.5 399.9,389.8 401.2,395.1C402.6,400.4 404.1,406.2 406.0,411.0C407.9,415.8 411.3,421.6 412.4,423.7" stroke-width="1.40"/>
<path d="M401.2,372.8C404.1,375.4 412.1,384.0 418.3,388.5C424.4,393.1 431.4,396.4 438.2,400.1C445.0,403.7 453.1,405.8 458.9,410.4C464.7,415.0 470.5,420.9 472.8,427.6C475.1,434.3 472.8,446.9 472.8,450.8" stroke-width="0.70"/>
<path d="M401.6,376.0C404.4,378.5 412.3,386.7 418.4,391.1C424.5,395.4 431.3,398.6 437.9,402.1C444.6,405.6 452.5,407.7 458.2,412.1C463.9,416.5 469.7,422.0 472.1,428.5C474.6,434.9 472.7,447.1 472.8,450.8" stroke-width="0.70"/>
<path d="M402.0,379.2C404.7,381.6 412.6,389.4 418.5,393.6C424.5,397.7 431.2,400.8 437.7,404.2C444.1,407.6 451.8,409.6 457.5,413.8C463.1,418.0 468.9,423.2 471.4,429.3C474.0,435.5 472.6,447.2 472.8,450.8" stroke-width="0.70"/>
<path d="M402.3,382.4C405.1,384.6 412.8,392.1 418.7,396.1C424.5,400.1 431.0,403.0 437.4,406.3C443.7,409.5 451.2,411.5 456.7,415.4C462.3,419.4 468.0,424.3 470.7,430.2C473.4,436.1 472.5,447.3 472.8,450.8" stroke-width="0.70"/>
<path d="M402.7,385.5C405.4,387.7 413.1,394.8 418.8,398.6C424.5,402.4 430.9,405.2 437.1,408.3C443.3,411.4 450.5,413.3 456.0,417.1C461.5,420.9 467.2,425.4 470.0,431.1C472.8,436.7 472.3,447.5 472.8,450.8" stroke-width="0.70"/>
<path d="M403.1,388.7C405.7,390.8 413.3,397.5 419.0,401.1C424.6,404.7 430.8,407.4 436.8,410.4C442.9,413.3 449.9,415.2 455.3,418.8C460.7,422.4 466.4,426.6 469.3,431.9C472.2,437.3 472.2,447.6 472.8,450.8" stroke-width="0.70"/>
<path d="M403.4,391.9C406.0,393.9 413.6,400.2 419.1,403.6C424.6,407.0 430.7,409.6 436.6,412.5C442.5,415.3 449.2,417.1 454.6,420.5C459.9,423.9 465.6,427.7 468.6,432.8C471.6,437.8 472.1,447.8 472.8,450.8" stroke-width="0.70"/>
<path d="M403.8,395.1C406.4,396.9 413.8,402.9 419.2,406.1C424.6,409.4 430.5,411.9 436.3,414.5C442.1,417.2 448.6,419.0 453.8,422.2C459.1,425.3 464.7,428.9 467.9,433.7C471.1,438.4 472.0,447.9 472.8,450.8" stroke-width="0.70"/>
<path d="M404.2,398.3C406.7,400.0 414.1,405.6 419.4,408.6C424.7,411.7 430.4,414.1 436.0,416.6C441.7,419.1 447.9,420.8 453.1,423.8C458.3,426.8 463.9,430.0 467.2,434.5C470.5,439.0 471.9,448.1 472.8,450.8" stroke-width="0.70"/>
<path d="M404.5,401.5C407.0,403.1 414.3,408.3 419.5,411.2C424.7,414.0 430.3,416.3 435.8,418.7C441.2,421.0 447.3,422.7 452.4,425.5C457.5,428.3 463.1,431.2 466.5,435.4C469.9,439.6 471.8,448.2 472.8,450.8" stroke-width="0.70"/>
<path d="M404.9,404.6C407.4,406.1 414.6,411.0 419.6,413.7C424.7,416.4 430.2,418.5 435.5,420.7C440.8,423.0 446.6,424.6 451.7,427.2C456.7,429.8 462.3,432.3 465.8,436.2C469.3,440.2 471.6,448.4 472.8,450.8" stroke-width="0.70"/>
<path d="M405.3,407.8C407.7,409.2 414.8,413.7 419.8,416.2C424.8,418.7 430.0,420.7 435.2,422.8C440.4,424.9 446.0,426.5 450.9,428.9C455.9,431.2 461.4,433.5 465.1,437.1C468.7,440.8 471.5,448.5 472.8,450.8" stroke-width="0.70"/>
<path d="M405.6,411.0C408.0,412.3 415.0,416.4 419.9,418.7C424.8,421.0 429.9,422.9 435.0,424.9C440.0,426.8 445.3,428.3 450.2,430.5C455.1,432.7 460.6,434.6 464.4,438.0C468.1,441.4 471.4,448.6 472.8,450.8" stroke-width="0.70"/>
<path d="M406.0,414.2C408.3,415.4 415.3,419.1 420.1,421.2C424.8,423.3 429.8,425.1 434.7,426.9C439.6,428.8 444.7,430.2 449.5,432.2C454.3,434.2 459.8,435.8 463.7,438.8C467.6,441.9 471.3,448.8 472.8,450.8" stroke-width="0.70"/>
<path d="M418.7,382.4C422.0,383.4 431.8,386.4 438.1,388.8C444.4,391.3 451.2,393.5 456.6,397.2C462.0,401.0 467.6,406.0 470.6,411.6C473.7,417.1 474.6,423.9 475.0,430.5C475.3,437.0 473.2,447.4 472.8,450.8" stroke-width="0.70"/>
<path d="M416.2,383.7C419.4,384.9 429.0,388.2 435.3,390.8C441.5,393.4 448.2,395.5 453.7,399.2C459.2,402.8 464.9,407.4 468.3,412.7C471.7,417.9 473.4,424.3 474.2,430.7C474.9,437.0 473.0,447.4 472.8,450.8" stroke-width="0.70"/>
<path d="M413.7,385.1C416.8,386.4 426.2,390.0 432.4,392.7C438.6,395.4 445.2,397.6 450.8,401.1C456.4,404.6 462.3,408.8 466.0,413.8C469.8,418.8 472.2,424.7 473.4,430.9C474.5,437.0 472.9,447.5 472.8,450.8" stroke-width="0.70"/>
<path d="M411.2,386.5C414.3,387.8 423.5,391.9 429.6,394.6C435.7,397.4 442.2,399.7 447.9,403.1C453.6,406.4 459.6,410.2 463.7,414.9C467.8,419.6 471.1,425.1 472.6,431.1C474.1,437.1 472.8,447.5 472.8,450.8" stroke-width="0.70"/>
<path d="M408.7,387.8C411.7,389.3 420.7,393.7 426.8,396.6C432.8,399.5 439.3,401.8 445.0,405.0C450.8,408.3 457.0,411.6 461.4,416.0C465.9,420.4 469.9,425.5 471.8,431.3C473.7,437.1 472.6,447.5 472.8,450.8" stroke-width="0.70"/>
<path d="M406.2,389.2C409.2,390.7 417.9,395.6 423.9,398.5C429.9,401.5 436.3,403.9 442.2,407.0C448.0,410.1 454.3,413.0 459.1,417.1C463.9,421.2 468.7,425.9 471.0,431.5C473.3,437.1 472.5,447.6 472.8,450.8" stroke-width="0.70"/>
<path d="M403.7,390.5C406.6,392.2 415.2,397.4 421.1,400.5C427.0,403.5 433.3,405.9 439.3,408.9C445.2,411.9 451.6,414.4 456.8,418.2C462.0,422.0 467.5,426.3 470.2,431.7C472.9,437.1 472.4,447.6 472.8,450.8" stroke-width="0.70"/>
<path d="M401.2,391.9C404.1,393.7 412.4,399.2 418.3,402.4C424.1,405.6 430.3,408.0 436.4,410.8C442.4,413.7 449.0,415.8 454.5,419.3C460.0,422.8 466.3,426.7 469.4,431.9C472.5,437.1 472.2,447.6 472.8,450.8" stroke-width="0.70"/>
<path d="M412.4,426.9C414.3,427.9 420.1,430.9 424.0,432.7C428.0,434.6 431.9,436.4 435.9,437.9C440.0,439.5 444.2,440.7 448.3,442.1C452.5,443.4 456.7,444.4 460.8,445.9C464.9,447.3 470.8,450.0 472.8,450.8" stroke-width="0.70"/>
<path d="M413.2,430.1C415.1,431.0 420.8,433.7 424.7,435.4C428.6,437.1 432.5,438.7 436.4,440.1C440.4,441.5 444.5,442.5 448.6,443.7C452.7,444.8 456.8,445.8 460.9,446.9C464.9,448.1 470.8,450.1 472.8,450.8" stroke-width="0.70"/>
<path d="M414.0,433.3C415.9,434.1 421.5,436.5 425.4,438.0C429.2,439.5 433.0,441.0 436.9,442.2C440.9,443.5 444.9,444.3 448.9,445.3C452.9,446.2 457.0,447.1 461.0,448.0C464.9,448.9 470.8,450.3 472.8,450.8" stroke-width="0.70"/>
<path d="M414.7,436.5C416.6,437.2 422.2,439.4 426.0,440.7C429.8,442.0 433.6,443.4 437.4,444.4C441.3,445.4 445.3,446.1 449.2,446.9C453.1,447.7 457.1,448.4 461.0,449.1C465.0,449.7 470.9,450.5 472.8,450.8" stroke-width="0.70"/>
<path d="M415.5,439.6C417.4,440.3 422.9,442.2 426.7,443.3C430.4,444.5 434.1,445.7 437.9,446.5C441.7,447.4 445.6,447.9 449.5,448.5C453.4,449.1 457.2,449.7 461.1,450.1C465.0,450.5 470.9,450.7 472.8,450.8" stroke-width="0.70"/>
<path d="M437.8,376.0C438.6,378.1 439.9,387.1 442.6,388.7C445.2,390.3 449.7,387.1 453.7,385.5C457.7,384.0 461.2,379.7 466.5,379.2C471.8,378.7 479.2,381.8 485.5,382.4C491.9,382.9 500.1,382.9 504.6,382.4C509.1,381.8 511.3,379.7 512.6,379.2" stroke-width="0.70"/>
<path d="M437.8,376.0C439.9,375.5 444.7,373.3 450.5,372.8C456.4,372.3 465.9,372.3 472.8,372.8C479.7,373.3 486.1,374.7 491.9,376.0C497.7,377.3 505.2,380.0 507.8,380.8" stroke-width="0.70"/>
<path d="M437.8,376.0C438.4,378.0 440.0,384.0 441.2,387.9C442.4,391.9 443.3,396.0 445.0,399.7C446.7,403.4 449.2,406.9 451.4,410.4C453.7,413.8 456.2,417.1 458.7,420.4C461.2,423.7 465.2,428.5 466.5,430.1" stroke-width="0.70"/>
<path d="M440.2,376.8C440.9,378.7 442.8,384.4 444.2,388.2C445.7,392.0 446.9,395.8 448.7,399.4C450.5,403.0 453.0,406.3 455.3,409.6C457.6,413.0 459.9,416.3 462.3,419.6C464.7,422.8 468.4,427.7 469.6,429.3" stroke-width="0.70"/>
<path d="M442.6,377.6C443.4,379.4 445.6,384.9 447.3,388.5C448.9,392.1 450.4,395.7 452.4,399.1C454.3,402.5 456.9,405.7 459.1,408.9C461.4,412.2 463.7,415.5 466.0,418.7C468.3,422.0 471.7,426.9 472.8,428.5" stroke-width="0.70"/>
<path d="M445.0,378.4C445.9,380.1 448.4,385.4 450.3,388.8C452.1,392.2 453.9,395.6 456.0,398.8C458.1,402.1 460.7,405.1 463.0,408.2C465.3,411.4 467.5,414.6 469.6,417.9C471.8,421.1 474.9,426.1 476.0,427.7" stroke-width="0.70"/>
<path d="M447.4,379.2C448.3,380.8 451.2,385.8 453.3,389.0C455.3,392.3 457.4,395.5 459.7,398.6C461.9,401.6 464.6,404.5 466.9,407.5C469.1,410.6 471.2,413.8 473.3,417.1C475.3,420.3 478.2,425.3 479.2,426.9" stroke-width="0.70"/>
<path d="M479.2,398.3C480.8,400.4 486.6,406.2 488.7,411.0C490.8,415.8 492.4,421.6 491.9,426.9C491.4,432.2 488.7,438.8 485.5,442.8C482.4,446.8 474.9,449.4 472.8,450.8" stroke-width="0.70"/>
<path d="M485.5,395.1C487.7,396.7 495.1,400.4 498.3,404.6C501.5,408.9 504.6,415.2 504.6,420.5C504.6,425.8 502.0,431.7 498.3,436.5C494.6,441.2 485.0,447.1 482.4,449.2" stroke-width="0.70"/>
<path d="M472.8,450.8C473.3,453.2 474.9,460.1 476.0,465.1C477.1,470.1 478.4,475.7 479.2,481.0C480.0,486.3 480.5,494.3 480.8,496.9" stroke-width="0.70"/>
<path d="M472.8,450.8C472.8,453.7 473.1,462.7 472.8,468.3C472.6,473.8 471.2,478.9 471.2,484.2C471.2,489.5 472.6,497.4 472.8,500.1" stroke-width="0.70"/>
<path d="M472.8,450.8C474.1,452.6 478.1,457.9 480.8,461.9C483.4,465.9 486.3,470.4 488.7,474.6C491.1,478.9 494.0,485.2 495.1,487.4" stroke-width="0.70"/>
<path d="M472.8,450.8C471.8,452.6 468.0,457.9 466.5,461.9C464.9,465.9 464.3,469.9 463.3,474.6C462.2,479.4 460.6,487.9 460.1,490.5" stroke-width="0.70"/>
<path d="M418.7,484.2C421.4,483.1 428.8,479.4 434.6,477.8C440.5,476.2 447.9,475.7 453.7,474.6C459.6,473.6 466.5,475.4 469.6,471.5C472.8,467.5 472.3,454.2 472.8,450.8" stroke-width="0.70"/>
<path d="M418.7,484.2C421.4,483.6 428.8,481.5 434.6,481.0C440.5,480.5 447.4,481.0 453.7,481.0C460.1,481.0 468.6,481.0 472.8,481.0C477.1,481.0 478.1,481.0 479.2,481.0" stroke-width="0.70"/>
<path d="M418.7,484.2C421.9,484.4 431.5,485.2 437.8,485.8C444.2,486.3 451.1,486.6 456.9,487.4C462.7,488.2 468.8,489.5 472.8,490.5C476.8,491.6 479.4,493.2 480.8,493.7" stroke-width="0.70"/>
<path d="M418.7,484.2C421.9,485.2 431.5,489.0 437.8,490.5C444.2,492.1 451.1,492.7 456.9,493.7C462.7,494.8 470.2,496.4 472.8,496.9" stroke-width="0.70"/>
<path d="M418.7,484.2C421.4,485.8 429.3,491.1 434.6,493.7C439.9,496.4 445.2,498.2 450.5,500.1C455.8,501.9 463.8,504.1 466.5,504.9" stroke-width="0.70"/>
<path d="M418.7,484.2C420.3,486.3 424.6,493.2 428.3,496.9C432.0,500.6 436.8,504.1 441.0,506.5C445.2,508.8 451.6,510.4 453.7,511.2" stroke-width="0.70"/>
<path d="M418.7,484.2C420.8,482.6 426.7,477.8 431.5,474.6C436.2,471.5 442.1,467.7 447.4,465.1C452.7,462.4 459.0,461.1 463.3,458.7C467.5,456.3 471.2,452.1 472.8,450.8" stroke-width="0.70"/>
<path d="M418.7,484.2C420.3,482.1 424.6,475.7 428.3,471.5C432.0,467.2 436.8,461.9 441.0,458.7C445.2,455.5 449.5,453.7 453.7,452.4C458.0,451.0 464.3,451.0 466.5,450.8" stroke-width="0.70"/>
<path d="M418.7,484.2C417.7,482.6 414.5,478.3 412.4,474.6C410.2,470.9 407.6,466.7 406.0,461.9C404.4,457.1 403.3,448.7 402.8,446.0" stroke-width="0.70"/>
<path d="M418.7,484.2C417.1,483.1 412.4,480.5 409.2,477.8C406.0,475.2 402.8,471.5 399.6,468.3C396.5,465.1 391.7,460.3 390.1,458.7" stroke-width="0.70"/>
<path d="M418.7,484.2C417.7,485.2 414.5,487.9 412.4,490.5C410.2,493.2 407.6,497.4 406.0,500.1C404.4,502.7 403.3,505.4 402.8,506.5" stroke-width="0.70"/>
<path d="M418.7,484.2C417.1,484.7 412.9,486.3 409.2,487.4C405.5,488.4 400.2,490.5 396.5,490.5C392.7,490.5 388.5,487.9 386.9,487.4" stroke-width="0.70"/>
<path d="M412.4,423.7C412.7,425.7 413.8,431.7 414.4,435.7C415.0,439.7 415.5,443.8 416.0,447.8C416.4,451.8 416.7,455.9 417.0,459.9C417.3,464.0 417.6,468.0 417.9,472.0C418.2,476.1 418.6,482.2 418.7,484.2" stroke-width="0.70"/>
<path d="M408.5,423.1C408.9,425.1 410.2,431.3 410.9,435.4C411.6,439.5 412.3,443.6 412.9,447.7C413.5,451.8 413.9,455.9 414.5,460.0C415.1,464.1 415.8,468.1 416.5,472.2C417.2,476.2 418.4,482.2 418.7,484.2" stroke-width="0.70"/>
<path d="M404.7,422.5C405.2,424.5 406.6,430.8 407.4,435.0C408.3,439.2 409.2,443.3 409.9,447.5C410.7,451.7 411.2,456.0 412.1,460.1C412.9,464.3 414.0,468.3 415.1,472.3C416.2,476.3 418.1,482.2 418.7,484.2" stroke-width="0.70"/>
<path d="M400.9,421.8C401.4,423.9 403.0,430.3 404.0,434.6C405.0,438.9 406.0,443.1 406.9,447.4C407.8,451.7 408.5,456.1 409.6,460.3C410.7,464.4 412.2,468.4 413.8,472.4C415.3,476.4 417.9,482.2 418.7,484.2" stroke-width="0.70"/>
<path d="M397.1,421.2C397.7,423.4 399.4,429.9 400.5,434.2C401.7,438.6 402.8,442.9 403.9,447.3C405.0,451.7 405.7,456.2 407.1,460.4C408.6,464.6 410.5,468.6 412.4,472.5C414.3,476.5 417.7,482.2 418.7,484.2" stroke-width="0.70"/>
<path d="M393.3,420.5C393.9,422.8 395.8,429.4 397.1,433.9C398.3,438.3 399.6,442.7 400.9,447.2C402.2,451.6 403.0,456.3 404.7,460.5C406.4,464.8 408.7,468.7 411.0,472.7C413.4,476.6 417.4,482.3 418.7,484.2" stroke-width="0.70"/>
<path d="M511.0,407.8C512.6,410.5 517.9,417.9 520.5,423.7C523.2,429.6 526.9,436.5 526.9,442.8C526.9,449.2 524.3,456.6 520.5,461.9C516.8,467.2 509.4,471.5 504.6,474.6C499.9,477.8 494.0,479.9 491.9,481.0" stroke-width="0.70"/>
<path d="M514.2,404.6C516.3,406.8 523.7,412.1 526.9,417.4C530.1,422.7 532.7,430.1 533.3,436.5C533.8,442.8 532.2,449.7 530.1,455.5C528.0,461.4 522.1,468.8 520.5,471.5" stroke-width="0.70"/>
<path d="M498.3,455.5C499.9,456.6 504.1,461.4 507.8,461.9C511.5,462.4 516.8,461.4 520.5,458.7C524.3,456.1 528.5,448.1 530.1,446.0" stroke-width="0.70"/>
<path d="M495.1,360.1C497.7,361.2 506.8,363.3 511.0,366.5C515.2,369.6 517.4,374.4 520.5,379.2C523.7,384.0 527.4,389.3 530.1,395.1C532.7,400.9 535.4,411.0 536.5,414.2" stroke-width="0.70"/>
<path d="M450.5,350.5C454.3,350.0 467.0,346.8 472.8,347.4C478.7,347.9 484.0,351.1 485.5,353.7C487.1,356.4 485.5,361.2 482.4,363.3C479.2,365.4 472.3,366.5 466.5,366.5C460.6,366.5 450.5,363.8 447.4,363.3" stroke-width="0.70"/>
<path d="M415.5,360.1C418.7,359.0 428.3,355.1 434.6,353.7C441.0,352.4 450.5,352.4 453.7,352.1" stroke-width="0.70"/>
<path d="M498.3,481.0C500.4,481.5 506.8,484.7 511.0,484.2C515.2,483.6 520.0,480.5 523.7,477.8C527.4,475.2 531.7,469.9 533.3,468.3" stroke-width="0.70"/>
<path d="M485.5,500.1C488.7,499.6 498.8,499.0 504.6,496.9C510.5,494.8 517.9,489.0 520.5,487.4" stroke-width="0.70"/>
<path d="M377.4,388.7C379.0,389.8 383.2,394.0 386.9,395.1C390.6,396.2 397.5,395.1 399.6,395.1" stroke-width="0.70"/>
<path d="M377.4,420.5C378.4,417.9 381.1,409.4 383.7,404.6C386.4,399.9 390.4,395.1 393.3,391.9C396.2,388.7 399.9,386.6 401.2,385.5" stroke-width="0.70"/>
<path d="M377.4,430.1C379.0,431.2 384.3,433.3 386.9,436.5C389.6,439.6 392.7,444.4 393.3,449.2C393.8,454.0 390.6,462.4 390.1,465.1" stroke-width="0.70"/>
<path d="M383.7,461.9C384.8,464.0 386.9,471.5 390.1,474.6C393.3,477.8 400.7,479.9 402.8,481.0" stroke-width="0.70"/>
<path d="M402.8,376.0C406.4,377.8 417.2,383.6 424.5,386.9C431.9,390.2 439.6,392.8 447.1,395.8C454.6,398.8 462.3,401.4 469.5,405.0C476.7,408.6 484.5,412.1 490.3,417.4C496.2,422.6 502.3,433.3 504.6,436.5" stroke-width="0.70"/>
<path d="M403.5,379.8C407.0,381.6 417.4,387.2 424.6,390.4C431.8,393.6 439.2,396.3 446.5,399.3C453.8,402.3 461.3,405.0 468.3,408.5C475.3,412.0 482.8,415.4 488.7,420.4C494.5,425.4 500.9,435.4 503.4,438.4" stroke-width="0.70"/>
<path d="M404.1,383.6C407.5,385.4 417.7,390.8 424.7,393.9C431.7,397.1 438.9,399.8 446.0,402.8C453.0,405.8 460.3,408.5 467.1,411.9C474.0,415.4 481.2,418.7 487.0,423.4C492.9,428.1 499.6,437.5 502.1,440.3" stroke-width="0.70"/>
<path d="M404.7,387.5C408.1,389.1 418.0,394.3 424.8,397.5C431.6,400.6 438.6,403.3 445.4,406.3C452.3,409.3 459.3,412.0 465.9,415.4C472.6,418.7 479.6,422.0 485.4,426.4C491.2,430.9 498.2,439.6 500.8,442.2" stroke-width="0.70"/>
<path d="M405.4,391.3C408.6,392.9 418.3,397.9 424.9,401.0C431.5,404.1 438.2,406.9 444.9,409.8C451.5,412.8 458.2,415.5 464.7,418.8C471.2,422.1 477.9,425.2 483.8,429.5C489.6,433.7 496.9,441.7 499.5,444.1" stroke-width="0.70"/>
<path d="M406.0,395.1C409.2,396.7 418.6,401.5 425.0,404.6C431.4,407.6 437.9,410.4 444.3,413.3C450.7,416.3 457.2,419.1 463.5,422.3C469.8,425.5 476.3,428.5 482.1,432.5C487.9,436.4 495.6,443.7 498.3,446.0" stroke-width="0.70"/>
<path d="M439.4,379.2C440.9,381.4 444.9,388.5 448.5,392.2C452.2,396.0 456.8,398.7 461.2,401.5C465.7,404.3 470.6,406.5 475.3,409.0C479.9,411.6 484.6,414.0 489.0,417.0C493.4,419.9 499.4,425.2 501.5,426.9" stroke-width="0.70"/>
<path d="M446.2,378.8C447.6,380.9 451.4,387.8 454.9,391.4C458.4,395.0 462.7,397.8 466.9,400.6C471.1,403.4 475.8,405.5 480.2,408.1C484.6,410.7 489.2,412.9 493.3,415.9C497.3,418.9 502.7,424.4 504.6,426.1" stroke-width="0.70"/>
<path d="M452.9,378.4C454.3,380.4 458.0,387.0 461.2,390.5C464.5,394.1 468.6,396.9 472.5,399.7C476.5,402.4 481.0,404.6 485.2,407.2C489.3,409.7 493.8,411.9 497.5,414.9C501.3,418.0 506.1,423.6 507.8,425.3" stroke-width="0.70"/>
<path d="M459.7,378.0C461.0,379.9 464.5,386.2 467.6,389.7C470.7,393.1 474.4,396.0 478.2,398.7C482.0,401.5 486.2,403.7 490.1,406.2C494.1,408.7 498.3,410.9 501.8,413.9C505.3,417.0 509.5,422.8 511.0,424.5" stroke-width="0.70"/>
<path d="M466.5,377.6C467.7,379.5 471.0,385.5 474.0,388.8C476.9,392.2 480.3,395.1 483.9,397.8C487.4,400.5 491.4,402.8 495.1,405.3C498.8,407.8 502.9,409.8 506.1,412.9C509.3,416.0 512.8,421.9 514.2,423.7" stroke-width="0.70"/></g>
<path class="ar" d="M398.0,380.1L397.0,377.5L399.0,377.5ZM402.9,401.5L401.3,399.3L403.2,398.7ZM411.3,421.8L409.2,419.9L411.0,419.0ZM413.4,384.6L410.8,383.5L412.2,382.1ZM431.7,396.6L429.0,396.3L429.9,394.5ZM451.6,406.1L448.8,405.9L449.6,404.1ZM468.5,419.8L466.1,418.4L467.6,417.2ZM473.7,440.6L472.8,437.9L474.8,438.0ZM411.5,385.4L409.0,384.4L410.3,382.9ZM429.6,397.8L426.9,397.5L427.8,395.7ZM449.5,407.2L446.7,407.1L447.5,405.3ZM467.0,420.2L464.5,419.0L466.0,417.6ZM473.3,440.6L472.4,438.0L474.4,438.0ZM410.2,386.7L407.6,385.7L408.9,384.2ZM428.2,399.3L425.4,399.0L426.3,397.2ZM448.0,408.7L445.2,408.7L446.0,406.8ZM465.9,421.2L463.4,420.0L464.9,418.6ZM473.0,441.3L472.0,438.7L474.0,438.7ZM408.8,388.1L406.2,387.1L407.5,385.6ZM426.6,400.8L423.9,400.5L424.8,398.7ZM446.5,410.2L443.7,410.2L444.5,408.3ZM464.8,422.1L462.2,421.1L463.6,419.6ZM472.6,441.9L471.5,439.4L473.5,439.3ZM412.0,393.5L409.4,392.6L410.7,391.0ZM430.6,405.1L427.8,404.9L428.7,403.1ZM450.7,414.1L447.9,414.0L448.7,412.2ZM467.9,427.6L465.4,426.3L466.9,425.0ZM472.7,448.7L471.5,446.1L473.5,446.0ZM412.8,396.6L410.1,395.8L411.4,394.2ZM431.6,407.9L428.8,407.6L429.7,405.8ZM451.7,416.8L449.0,416.6L449.8,414.7ZM468.6,430.6L466.2,429.2L467.8,428.0ZM410.1,397.2L407.5,396.4L408.7,394.8ZM428.8,408.8L426.0,408.5L426.9,406.7ZM448.9,417.5L446.1,417.5L446.9,415.6ZM466.8,430.1L464.3,429.0L465.7,427.6ZM410.6,400.2L408.0,399.5L409.2,397.9ZM429.5,411.4L426.7,411.2L427.6,409.4ZM449.8,420.0L447.0,419.9L447.8,418.1ZM467.5,432.9L465.0,431.6L466.4,430.3ZM419.9,409.0L417.1,408.5L418.2,406.8ZM439.9,418.2L437.1,418.1L437.8,416.3ZM459.6,427.7L456.9,427.2L457.9,425.5ZM471.5,445.4L469.8,443.2L471.7,442.7ZM417.2,409.8L414.5,409.3L415.5,407.6ZM437.1,419.2L434.3,419.1L435.1,417.3ZM457.2,428.1L454.4,427.7L455.4,426.0ZM470.8,444.5L469.0,442.4L470.9,441.7ZM413.9,410.3L411.1,409.8L412.2,408.1ZM433.6,419.9L430.8,419.9L431.6,418.0ZM453.9,428.3L451.2,428.0L452.1,426.3ZM469.7,442.8L467.6,440.9L469.4,440.1ZM416.3,414.3L413.5,413.9L414.5,412.2ZM436.4,423.3L433.6,423.2L434.4,421.4ZM456.7,431.6L453.9,431.4L454.8,429.6ZM471.2,447.3L469.2,445.4L471.0,444.5ZM422.2,419.7L419.4,419.6L420.3,417.8ZM442.7,427.6L439.9,427.7L440.6,425.8ZM462.7,436.7L460.0,436.1L461.1,434.4ZM422.1,422.1L419.3,422.0L420.1,420.1ZM442.7,429.7L439.9,429.8L440.6,427.9ZM462.9,438.3L460.2,437.6L461.3,436.0ZM435.2,387.8L432.4,387.8L433.1,385.9ZM455.4,396.4L452.6,396.0L453.6,394.2ZM470.8,411.8L468.6,410.1L470.3,409.1ZM475.0,433.2L474.0,430.6L476.0,430.6ZM427.8,387.9L425.1,388.0L425.7,386.1ZM448.2,396.1L445.5,396.0L446.3,394.1ZM465.7,409.3L463.2,408.1L464.7,406.7ZM474.0,429.3L472.6,426.9L474.5,426.6ZM426.2,390.1L423.4,390.1L424.2,388.2ZM446.5,398.7L443.7,398.5L444.6,396.7ZM464.2,411.6L461.6,410.4L463.1,409.0ZM473.4,431.2L471.9,428.9L473.9,428.5ZM425.4,392.7L422.6,392.6L423.4,390.8ZM445.5,401.7L442.7,401.4L443.6,399.6ZM463.3,414.4L460.8,413.2L462.2,411.9ZM473.1,433.8L471.6,431.4L473.6,431.0ZM416.5,391.6L413.8,391.4L414.6,389.6ZM436.5,400.9L433.7,400.8L434.5,398.9ZM455.8,411.4L453.0,410.8L454.2,409.2ZM470.3,427.7L468.2,425.9L469.9,424.9ZM418.7,395.8L415.9,395.5L416.9,393.8ZM438.6,405.2L435.8,405.0L436.7,403.2ZM457.7,416.0L455.0,415.3L456.2,413.7ZM471.6,432.8L469.6,430.8L471.4,430.0ZM413.2,396.1L410.5,395.7L411.5,393.9ZM432.9,405.9L430.1,405.8L430.9,404.0ZM452.7,415.6L449.9,415.2L450.9,413.4ZM469.2,429.9L466.8,428.4L468.5,427.2ZM416.3,401.3L413.5,400.8L414.5,399.1ZM436.1,410.7L433.3,410.5L434.2,408.7ZM455.9,420.2L453.2,419.7L454.3,418.0ZM470.8,435.6L469.2,433.4L471.1,432.8ZM420.2,430.9L417.4,430.6L418.3,428.8ZM440.4,439.5L437.6,439.6L438.2,437.7ZM461.4,446.1L458.6,446.2L459.2,444.3ZM427.3,436.5L424.5,436.4L425.3,434.6ZM448.1,443.5L445.3,443.8L445.9,441.9ZM469.2,449.6L466.5,449.7L467.1,447.8ZM430.2,439.9L427.5,439.9L428.2,438.1ZM451.4,445.9L448.6,446.2L449.1,444.3ZM424.6,440.2L421.8,440.2L422.5,438.3ZM445.7,446.2L443.0,446.7L443.4,444.7ZM467.4,450.0L464.7,450.6L465.0,448.6ZM432.6,445.1L429.8,445.3L430.4,443.4ZM454.2,449.2L451.4,449.8L451.7,447.8ZM446.4,388.7L444.1,390.4L443.6,388.5ZM466.1,379.3L463.8,380.8L463.3,378.8ZM487.7,382.5L485.1,383.3L485.2,381.3ZM509.6,381.1L507.3,382.7L506.8,380.8ZM445.7,373.6L443.4,375.2L442.9,373.3ZM467.6,372.5L465.0,373.4L465.1,371.4ZM489.4,375.4L486.6,375.9L487.1,373.9ZM442.2,391.2L440.5,389.0L442.4,388.4ZM451.8,410.8L449.5,409.2L451.1,408.1ZM465.1,428.4L462.6,427.0L464.2,425.7ZM442.8,384.4L441.0,382.3L442.9,381.6ZM451.7,404.5L449.5,402.8L451.2,401.7ZM464.4,422.4L462.1,420.9L463.7,419.7ZM448.0,390.1L446.0,388.1L447.8,387.3ZM459.1,408.9L456.8,407.4L458.4,406.2ZM471.7,426.9L469.4,425.4L471.1,424.2ZM450.8,389.8L448.7,388.0L450.5,387.0ZM462.9,408.1L460.6,406.6L462.2,405.4ZM452.6,388.0L450.4,386.3L452.1,385.3ZM465.5,405.8L463.1,404.4L464.6,403.1ZM477.6,424.2L475.4,422.4L477.1,421.4ZM486.5,407.3L484.2,405.7L485.8,404.6ZM491.9,428.2L491.0,425.5L493.0,425.6ZM481.0,446.6L482.5,444.3L483.7,445.9ZM498.9,405.3L496.4,404.1L497.9,402.7ZM503.9,426.0L503.4,423.3L505.3,423.6ZM490.8,443.2L492.2,440.8L493.4,442.4ZM475.3,462.0L473.8,459.7L475.8,459.2ZM479.5,483.6L478.2,481.1L480.2,480.9ZM472.9,460.4L471.9,457.8L473.9,457.8ZM471.2,482.3L470.5,479.7L472.5,479.9ZM481.9,463.6L479.6,462.0L481.3,460.9ZM492.8,482.7L490.8,480.8L492.6,479.9ZM466.4,462.0L466.6,459.2L468.4,460.1ZM461.5,483.4L461.0,480.7L463.0,481.1ZM434.3,477.9L432.1,479.6L431.5,477.7ZM456.0,474.4L453.5,475.7L453.3,473.7ZM471.9,464.2L472.4,467.0L470.4,466.6ZM429.1,481.8L426.7,483.3L426.3,481.4ZM451.0,481.0L448.4,481.9L448.4,479.9ZM473.0,481.0L470.4,482.0L470.4,480.0ZM430.2,485.1L427.6,485.9L427.7,483.9ZM452.2,486.8L449.5,487.6L449.7,485.6ZM473.8,490.8L471.0,491.1L471.5,489.2ZM434.6,489.7L431.9,489.9L432.4,487.9ZM456.3,493.6L453.5,494.2L453.9,492.2ZM430.3,491.3L427.5,490.9L428.6,489.2ZM450.5,500.1L447.7,500.1L448.3,498.3ZM426.7,495.2L424.3,493.8L425.9,492.5ZM444.3,508.1L441.6,507.8L442.4,506.0ZM427.1,477.7L425.7,480.1L424.5,478.5ZM445.7,465.9L443.9,468.1L443.0,466.3ZM465.8,457.1L464.2,459.3L463.1,457.7ZM423.5,477.5L422.8,480.2L421.2,479.0ZM438.1,461.1L436.9,463.6L435.5,462.2ZM457.6,451.5L455.3,453.0L454.8,451.1ZM409.0,468.7L411.1,470.5L409.4,471.5ZM403.1,447.6L404.5,450.1L402.5,450.4ZM411.2,479.4L413.9,480.0L412.8,481.6ZM395.4,464.0L397.9,465.2L396.5,466.6ZM407.7,497.4L408.2,494.7L409.9,495.7ZM407.3,488.0L409.4,486.2L410.0,488.1ZM415.3,442.0L413.9,439.5L415.9,439.3ZM417.3,463.9L416.1,461.4L418.1,461.2ZM410.9,435.3L409.4,432.9L411.4,432.6ZM414.1,457.0L412.8,454.6L414.8,454.3ZM417.7,478.8L416.2,476.4L418.2,476.0ZM408.6,440.4L407.1,438.0L409.0,437.6ZM412.5,462.0L410.9,459.7L412.9,459.3ZM404.2,435.6L402.6,433.3L404.6,432.8ZM408.8,457.1L407.3,454.7L409.3,454.3ZM416.0,477.9L414.1,475.8L415.9,475.1ZM399.8,431.5L398.2,429.2L400.1,428.7ZM405.2,452.8L403.6,450.5L405.6,450.1ZM412.8,473.4L410.8,471.5L412.6,470.6ZM397.7,436.1L396.0,433.9L398.0,433.3ZM403.6,457.3L401.9,455.1L403.8,454.5ZM413.7,476.8L411.4,475.2L413.1,474.1ZM519.1,420.9L517.0,419.1L518.8,418.2ZM526.9,441.4L525.5,439.0L527.5,438.7ZM520.4,462.1L521.0,459.3L522.7,460.4ZM503.2,475.5L504.9,473.3L505.9,475.0ZM525.5,415.3L523.0,414.0L524.5,412.7ZM533.3,435.7L531.8,433.3L533.8,432.9ZM529.4,457.1L529.5,454.3L531.4,455.1ZM509.4,462.0L506.7,462.9L506.8,460.9ZM526.9,450.9L526.4,453.6L524.7,452.5ZM505.0,363.4L502.2,363.5L502.9,361.6ZM520.2,378.6L517.9,376.9L519.6,375.8ZM531.1,397.6L529.2,395.6L531.0,394.8ZM465.4,347.8L462.9,349.2L462.7,347.2ZM485.5,353.7L483.1,352.3L484.6,351.0ZM471.8,366.2L474.2,364.9L474.5,366.8ZM450.0,363.8L452.8,363.4L452.4,365.3ZM424.2,356.9L422.1,358.7L421.4,356.9ZM445.6,352.5L443.1,353.7L443.0,351.7ZM513.4,483.7L511.0,485.2L510.6,483.2ZM531.0,470.8L529.9,473.4L528.5,472.1ZM500.4,498.1L498.0,499.5L497.7,497.5ZM387.5,395.4L384.7,395.2L385.5,393.4ZM383.6,404.9L383.3,407.7L381.5,406.8ZM397.6,388.1L396.1,390.5L394.9,389.0ZM385.9,435.5L383.3,434.5L384.7,433.0ZM392.8,455.4L392.1,452.7L394.1,452.9ZM388.8,473.1L386.7,471.3L388.4,470.4ZM417.8,383.7L415.0,383.4L415.9,381.6ZM438.0,392.3L435.2,392.3L435.9,390.4ZM458.5,400.2L455.7,400.2L456.5,398.4ZM478.5,409.5L475.7,409.2L476.6,407.4ZM495.5,423.1L493.1,421.7L494.6,420.5ZM414.3,385.4L411.6,385.1L412.5,383.3ZM434.4,394.5L431.6,394.4L432.3,392.6ZM454.8,402.6L452.0,402.6L452.7,400.7ZM474.8,411.7L472.0,411.4L472.9,409.7ZM492.6,424.3L490.1,423.1L491.6,421.8ZM418.2,390.8L415.5,390.6L416.4,388.8ZM438.4,399.7L435.6,399.6L436.3,397.8ZM458.7,408.1L455.9,408.0L456.7,406.1ZM478.5,417.7L475.7,417.4L476.6,415.6ZM495.2,431.8L492.7,430.5L494.3,429.2ZM417.9,394.1L415.1,393.9L416.0,392.1ZM438.0,403.2L435.2,403.1L435.9,401.2ZM458.2,411.8L455.4,411.6L456.2,409.8ZM477.9,421.6L475.1,421.2L476.1,419.4ZM494.8,435.5L492.3,434.3L493.7,432.9ZM421.8,399.5L419.0,399.3L419.9,397.5ZM441.9,408.5L439.1,408.4L439.9,406.5ZM462.0,417.5L459.2,417.2L460.0,415.4ZM481.4,427.8L478.6,427.3L479.7,425.6ZM497.8,442.4L495.2,441.2L496.7,439.8ZM422.9,403.6L420.1,403.3L421.0,401.5ZM442.9,412.7L440.2,412.5L441.0,410.7ZM462.9,422.0L460.1,421.7L461.0,419.9ZM482.2,432.5L479.5,431.9L480.6,430.3ZM448.6,392.3L446.1,391.0L447.6,389.6ZM466.7,404.6L463.9,404.2L464.9,402.5ZM486.0,415.1L483.3,414.6L484.3,412.9ZM456.0,392.5L453.5,391.4L454.9,390.0ZM474.2,404.8L471.4,404.4L472.4,402.7ZM493.2,415.9L490.5,415.2L491.6,413.6ZM458.2,386.6L455.9,385.0L457.6,383.9ZM474.6,401.0L471.8,400.4L472.9,398.7ZM493.5,412.1L490.8,411.6L491.8,409.9ZM468.8,390.9L466.3,389.8L467.7,388.4ZM486.5,404.0L483.7,403.5L484.7,401.8ZM504.5,416.5L501.9,415.4L503.3,414.0ZM476.5,391.7L474.0,390.4L475.5,389.1ZM494.2,404.7L491.5,404.1L492.6,402.4ZM510.8,418.8L508.5,417.2L510.1,416.1ZM421.7,453.5L420.3,451.1L422.3,450.8ZM436.6,452.9L433.9,453.6L434.1,451.6ZM434.4,457.7L433.1,460.2L431.8,458.6ZM487.9,390.2L485.1,390.1L485.9,388.3ZM505.5,403.1L503.0,401.9L504.4,400.5ZM541.9,427.5L543.4,429.9L541.4,430.3ZM510.7,440.0L508.4,438.4L510.1,437.3ZM504.3,453.4L501.6,452.6L502.8,451.0ZM379.7,456.0L378.0,453.8L379.9,453.2ZM448.9,471.3L446.6,472.9L446.1,471.0ZM427.8,430.6L425.0,430.5L425.8,428.6ZM448.5,438.1L445.7,438.2L446.3,436.3ZM427.5,366.9L425.3,368.7L424.7,366.8ZM439.6,465.9L438.1,468.3L436.9,466.7ZM459.4,456.7L457.2,458.4L456.6,456.5ZM483.9,479.1L482.0,477.0L483.9,476.3ZM520.7,398.5L518.3,397.0L519.9,395.8ZM503.1,466.0L500.4,466.9L500.6,464.9ZM488.9,464.6L486.7,462.9L488.4,461.8ZM435.1,383.8L432.9,382.1L434.6,381.1ZM479.4,437.4L480.3,440.1L478.3,440.0Z"/>
</g>
<text x="91.7" y="252.8" class="q" text-anchor="middle"><tspan font-style="italic">Q</tspan>=50L/min</text>
<text x="274.3" y="252.8" class="q" text-anchor="middle"><tspan font-style="italic">Q</tspan>=60L/min</text>
<text x="457.0" y="252.8" class="q" text-anchor="middle"><tspan font-style="italic">Q</tspan>=70L/min</text>
<text x="91.7" y="537.5" class="q" text-anchor="middle"><tspan font-style="italic">Q</tspan>=50L/min</text>
<text x="274.3" y="537.5" class="q" text-anchor="middle"><tspan font-style="italic">Q</tspan>=60L/min</text>
<text x="457.0" y="537.5" class="q" text-anchor="middle"><tspan font-style="italic">Q</tspan>=70L/min</text>
<text x="276.2" y="282.4" class="cap" text-anchor="middle"><tspan class="capb">(a)</tspan> <tspan font-style="italic">Cr</tspan>=2%</text>
<text x="275.6" y="558.1" class="cap" text-anchor="middle"><tspan class="capb">(b)</tspan> <tspan font-style="italic">Cr</tspan>=5%</text>
</svg>
</body></html>
